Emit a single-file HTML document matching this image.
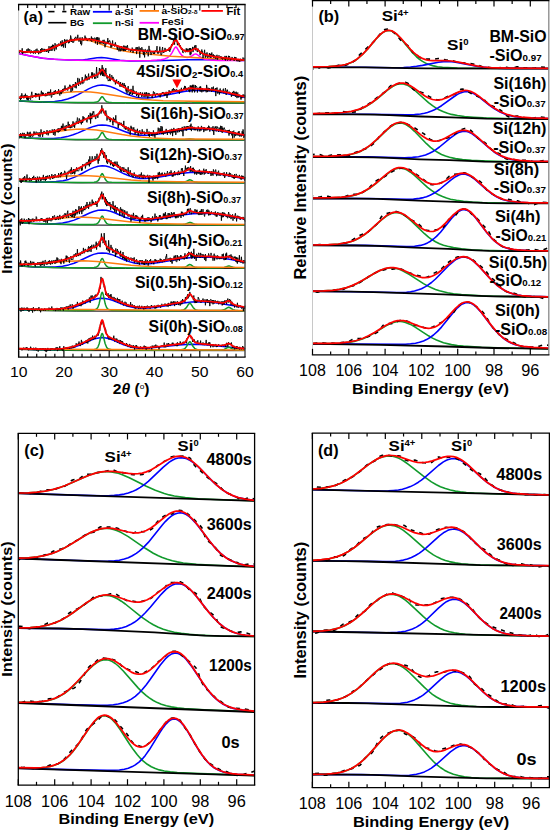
<!DOCTYPE html>
<html><head><meta charset="utf-8"><title>Figure</title>
<style>html,body{margin:0;padding:0;background:#fff;} body{width:550px;height:830px;overflow:hidden;font-family:"Liberation Sans",sans-serif;} svg{display:block;}</style>
</head><body>
<svg width="550" height="830" viewBox="0 0 550 830" font-family="Liberation Sans, sans-serif"><path d="M18.6,53.4L29.1,55.8 42.6,58.2 54.1,59.3 69.1,60.0 76.6,60.1 82.6,59.9 87.6,59.3 97.1,57.8 101.6,57.5 106.6,57.9 120.1,60.3 129.6,60.9 156.1,60.8 188.6,59.8 199.6,59.6 244.6,60.5" fill="none" stroke="#0000ff" stroke-width="1.5" stroke-linejoin="round" stroke-linecap="butt" />
<path d="M18.6,53.4L28.1,55.6 40.1,57.8 47.6,58.7 58.1,59.5 77.1,60.2 110.1,60.7 132.6,60.8 151.1,60.5 157.1,60.1 161.1,59.7 164.6,58.9 167.1,57.9 169.1,56.5 170.6,54.9 172.1,52.6 174.6,48.0 175.6,47.1 176.1,47.1 177.1,48.1 180.1,53.3 181.6,55.1 183.6,56.6 185.6,57.3 187.6,57.5 189.6,57.1 191.6,56.2 194.1,54.4 195.6,53.9 197.1,54.5 200.6,57.2 202.6,58.3 205.1,59.2 208.1,59.7 212.6,60.2 219.6,60.4 244.6,60.6" fill="none" stroke="#ff00ff" stroke-width="1.5" stroke-linejoin="round" stroke-linecap="butt" />
<path d="M18.6,50.9L22.6,51.7 25.6,52.0 37.6,52.0 40.6,51.7 44.6,50.7 50.1,49.1 56.6,46.3 62.6,43.5 68.6,41.1 75.6,40.0 78.6,39.7 81.6,39.7 87.6,40.3 91.1,41.0 97.1,42.7 106.1,46.1 114.1,48.6 124.1,51.1 131.1,52.2 158.1,55.1 170.6,56.2 220.6,59.1 244.6,60.3" fill="none" stroke="#ff7d10" stroke-width="1.5" stroke-linejoin="round" stroke-linecap="butt" />
<path d="M18.6,50.7L19.0,53.1 19.4,52.9 19.8,50.1 20.2,50.5 20.6,51.3 21.0,52.2 21.4,51.2 21.8,52.6 22.2,48.3 22.6,54.1 23.0,51.4 23.4,52.8 23.8,51.4 24.2,51.0 24.6,52.5 25.0,53.2 25.4,51.4 25.8,51.5 26.2,53.0 26.6,50.3 27.0,49.2 27.4,52.5 27.8,50.6 28.2,48.4 28.6,50.4 29.0,51.0 29.4,49.7 29.8,49.2 30.2,51.8 30.6,53.4 31.0,51.4 31.4,50.5 31.8,52.5 32.2,53.0 32.6,51.3 33.0,52.8 33.4,53.6 33.8,51.4 34.2,50.3 34.6,52.4 35.0,52.2 35.4,53.7 35.8,49.5 36.2,50.6 36.6,50.3 37.0,48.7 37.4,52.0 37.8,52.7 38.2,50.4 38.6,54.2 39.0,53.2 39.4,52.8 39.8,52.3 40.2,53.2 40.6,49.0 41.0,52.5 41.4,52.4 41.8,48.0 42.2,51.8 42.6,50.6 43.0,48.8 43.4,50.0 43.8,50.7 44.2,51.3 44.6,48.9 45.0,51.5 45.4,50.1 45.8,51.1 46.2,49.1 46.6,52.0 47.0,51.0 47.4,49.4 47.8,50.8 48.2,51.9 48.6,52.9 49.0,46.2 49.4,50.9 49.8,49.9 50.2,48.7 50.6,46.7 51.0,51.0 51.4,45.9 51.8,49.3 52.2,50.6 52.6,44.7 53.0,47.1 53.4,44.9 53.8,47.8 54.2,50.2 54.6,51.1 55.0,43.2 55.4,45.5 55.8,47.9 56.2,49.5 56.6,47.0 57.0,44.4 57.4,46.4 57.8,45.5 58.2,44.9 58.6,43.6 59.0,45.8 59.4,45.4 59.8,44.4 60.2,43.9 60.6,41.4 61.0,42.9 61.4,46.4 61.8,43.2 62.2,40.3 62.6,45.8 63.0,44.2 63.4,47.5 63.8,42.9 64.2,41.5 64.6,39.2 65.0,45.1 65.4,47.8 65.8,40.0 66.2,40.3 66.6,42.9 67.0,39.5 67.4,40.6 67.8,40.3 68.2,41.4 68.6,43.3 69.0,40.8 69.4,42.7 69.8,39.6 70.2,41.2 70.6,35.5 71.0,36.9 71.4,42.0 71.8,38.8 72.2,41.4 72.6,41.2 73.0,42.9 73.4,41.7 73.8,42.1 74.2,39.4 74.6,38.0 75.0,38.4 75.4,38.4 75.8,36.8 76.2,38.1 76.6,39.1 77.0,39.9 77.4,38.5 77.8,34.8 78.2,39.0 78.6,39.7 79.0,41.7 79.4,40.5 79.8,37.7 80.2,37.5 80.6,43.9 81.0,40.9 81.4,45.3 81.8,44.1 82.2,37.2 82.6,40.1 83.0,40.2 83.4,40.5 83.8,40.4 84.2,39.6 84.6,39.6 85.0,35.6 85.4,38.8 85.8,37.4 86.2,39.4 86.6,38.1 87.0,40.6 87.4,41.1 87.8,39.9 88.2,39.9 88.6,39.4 89.0,38.2 89.4,38.9 89.8,38.2 90.2,40.3 90.6,39.5 91.0,40.9 91.4,36.5 91.8,41.7 92.2,37.9 92.6,38.1 93.0,39.4 93.4,38.6 93.8,40.7 94.2,38.8 94.6,37.7 95.0,38.3 95.4,43.4 95.8,40.5 96.2,37.8 96.6,40.6 97.0,37.0 97.4,44.8 97.8,37.3 98.2,42.0 98.6,42.2 99.0,37.7 99.4,41.8 99.8,43.5 100.2,42.4 100.6,42.0 101.0,43.6 101.4,42.0 101.8,42.4 102.2,41.5 102.6,43.3 103.0,39.9 103.4,43.9 103.8,41.1 104.2,39.8 104.6,43.2 105.0,47.3 105.4,44.8 105.8,41.6 106.2,44.4 106.6,41.9 107.0,42.7 107.4,43.3 107.8,38.1 108.2,43.8 108.6,41.2 109.0,42.0 109.4,40.4 109.8,40.5 110.2,41.9 110.6,45.8 111.0,47.8 111.4,44.2 111.8,46.8 112.2,44.0 112.6,40.5 113.0,45.1 113.4,45.9 113.8,44.1 114.2,45.8 114.6,46.5 115.0,43.5 115.4,42.4 115.8,45.2 116.2,45.3 116.6,45.1 117.0,48.1 117.4,49.8 117.8,45.4 118.2,47.8 118.6,48.4 119.0,51.4 119.4,48.9 119.8,46.0 120.2,48.5 120.6,51.3 121.0,48.9 121.4,46.0 121.8,50.5 122.2,50.2 122.6,48.4 123.0,46.6 123.4,51.1 123.8,45.5 124.2,50.9 124.6,48.2 125.0,45.9 125.4,50.9 125.8,49.3 126.2,46.3 126.6,50.0 127.0,48.0 127.4,45.1 127.8,47.6 128.2,49.6 128.6,50.4 129.0,49.6 129.4,49.4 129.8,50.3 130.2,49.0 130.6,51.9 131.0,49.9 131.4,50.2 131.8,50.8 132.2,47.6 132.6,48.4 133.0,52.9 133.4,50.6 133.8,49.4 134.2,50.7 134.6,49.1 135.0,50.6 135.4,48.8 135.8,50.7 136.2,47.1 136.6,54.1 137.0,49.3 137.4,47.2 137.8,50.0 138.2,49.7 138.6,50.8 139.0,46.6 139.4,51.3 139.8,57.7 140.2,48.1 140.6,51.3 141.0,50.1 141.4,51.1 141.8,47.2 142.2,48.5 142.6,51.7 143.0,50.8 143.4,55.1 143.8,49.5 144.2,51.3 144.6,57.4 145.0,49.5 145.4,49.3 145.8,51.0 146.2,51.0 146.6,52.8 147.0,51.4 147.4,49.7 147.8,51.6 148.2,56.3 148.6,53.7 149.0,45.9 149.4,51.0 149.8,49.6 150.2,52.5 150.6,51.0 151.0,55.1 151.4,53.2 151.8,53.1 152.2,51.8 152.6,51.4 153.0,52.1 153.4,54.0 153.8,52.5 154.2,50.8 154.6,54.0 155.0,51.9 155.4,51.4 155.8,50.0 156.2,50.4 156.6,50.3 157.0,46.1 157.4,53.5 157.8,52.0 158.2,51.1 158.6,53.5 159.0,52.3 159.4,52.2 159.8,46.7 160.2,51.0 160.6,52.5 161.0,55.2 161.4,54.9 161.8,54.1 162.2,49.0 162.6,47.0 163.0,52.3 163.4,51.2 163.8,52.9 164.2,50.7 164.6,51.3 165.0,47.9 165.4,51.6 165.8,49.7 166.2,51.2 166.6,51.2 167.0,49.9 167.4,50.6 167.8,49.7 168.2,51.0 168.6,50.3 169.0,47.9 169.4,47.4 169.8,51.8 170.2,47.7 170.6,49.5 171.0,47.7 171.4,45.1 171.8,44.1 172.2,45.3 172.6,44.9 173.0,45.0 173.4,40.1 173.8,40.8 174.2,41.3 174.6,44.6 175.0,35.0 175.4,41.2 175.8,38.9 176.2,41.2 176.6,39.4 177.0,41.9 177.4,45.2 177.8,43.2 178.2,44.1 178.6,44.8 179.0,43.1 179.4,46.6 179.8,45.7 180.2,45.1 180.6,47.3 181.0,47.4 181.4,49.9 181.8,48.7 182.2,48.2 182.6,52.5 183.0,52.4 183.4,52.7 183.8,51.6 184.2,50.4 184.6,50.0 185.0,50.4 185.4,52.3 185.8,51.4 186.2,48.4 186.6,51.3 187.0,48.6 187.4,51.7 187.8,49.1 188.2,49.0 188.6,51.6 189.0,51.2 189.4,48.0 189.8,52.6 190.2,55.2 190.6,48.0 191.0,54.3 191.4,49.1 191.8,49.3 192.2,49.7 192.6,46.9 193.0,52.1 193.4,50.3 193.8,47.5 194.2,48.3 194.6,45.6 195.0,47.8 195.4,50.4 195.8,45.0 196.2,47.6 196.6,49.1 197.0,51.2 197.4,52.1 197.8,48.8 198.2,48.6 198.6,51.3 199.0,50.1 199.4,50.6 199.8,53.6 200.2,55.1 200.6,52.7 201.0,52.1 201.4,53.8 201.8,49.5 202.2,53.2 202.6,51.5 203.0,58.1 203.4,55.2 203.8,54.3 204.2,53.9 204.6,49.8 205.0,55.8 205.4,57.6 205.8,53.5 206.2,56.2 206.6,56.3 207.0,52.4 207.4,56.9 207.8,57.8 208.2,55.9 208.6,55.4 209.0,57.0 209.4,53.0 209.8,56.0 210.2,57.7 210.6,53.8 211.0,57.8 211.4,55.1 211.8,52.5 212.2,56.1 212.6,54.9 213.0,56.9 213.4,54.4 213.8,57.9 214.2,55.3 214.6,57.3 215.0,55.7 215.4,56.2 215.8,58.9 216.2,57.3 216.6,56.2 217.0,54.8 217.4,59.6 217.8,58.4 218.2,56.6 218.6,55.6 219.0,55.5 219.4,55.6 219.8,56.0 220.2,58.0 220.6,58.0 221.0,56.2 221.4,58.5 221.8,59.0 222.2,58.0 222.6,59.5 223.0,57.3 223.4,57.6 223.8,58.7 224.2,57.9 224.6,59.3 225.0,55.9 225.4,60.5 225.8,56.8 226.2,57.9 226.6,55.9 227.0,59.3 227.4,60.4 227.8,60.2 228.2,59.8 228.6,55.8 229.0,57.2 229.4,56.0 229.8,57.0 230.2,60.5 230.6,59.0 231.0,58.7 231.4,59.6 231.8,57.2 232.2,57.3 232.6,57.4 233.0,59.8 233.4,59.6 233.8,60.0 234.2,60.9 234.6,56.9 235.0,58.2 235.4,59.5 235.8,57.0 236.2,58.4 236.6,61.0 237.0,61.2 237.4,61.2 237.8,59.5 238.2,59.2 238.6,61.3 239.0,59.0 239.4,60.2 239.8,61.9 240.2,59.1 240.6,58.8 241.0,59.8 241.4,60.9 241.8,60.7 242.2,60.2 242.6,60.9 243.0,57.5 243.4,58.7 243.8,60.4 244.2,58.7 244.6,58.1 245.0,58.3" fill="none" stroke="#000000" stroke-width="0.9" stroke-linejoin="round" stroke-linecap="butt" />
<path d="M18.6,50.7L22.6,51.5 25.6,51.8 37.6,51.8 40.6,51.4 44.6,50.5 50.1,48.9 56.6,46.1 62.6,43.2 69.1,40.7 73.6,39.8 77.6,39.3 87.1,39.2 91.6,39.6 101.1,41.5 109.1,43.6 124.6,48.2 129.6,49.3 136.6,50.3 146.1,51.1 154.6,51.5 160.6,51.4 163.6,51.1 165.6,50.7 167.6,49.9 169.1,48.9 171.1,46.8 174.6,40.9 175.6,40.1 176.1,40.2 177.1,41.2 180.1,46.6 181.6,48.6 183.6,50.3 185.6,51.1 187.6,51.4 189.6,51.2 191.6,50.4 194.1,48.9 195.6,48.5 197.1,49.1 200.6,52.2 202.6,53.5 205.1,54.6 208.1,55.4 213.1,56.4 219.6,57.3 244.6,60.2" fill="none" stroke="#ff0000" stroke-width="1.75" stroke-linejoin="round" stroke-linecap="butt" />
<path d="M18.6,101.2L29.6,101.9 42.6,102.4 76.1,103.0 125.6,103.2 244.6,103.2" fill="none" stroke="#000000" stroke-width="1.0" stroke-linejoin="round" stroke-linecap="butt" />
<path d="M18.6,100.8L33.1,101.6 45.6,101.8 54.6,101.5 61.6,100.5 67.6,99.0 73.1,97.0 78.1,94.6 88.6,88.9 93.1,86.9 97.6,85.5 102.1,85.0 106.1,85.4 110.1,86.4 114.6,88.2 125.1,93.3 130.1,95.4 135.6,97.0 141.1,97.9 146.6,98.0 153.1,97.5 160.1,96.3 176.6,92.9 184.1,91.6 192.1,90.6 199.6,90.3 207.6,90.6 216.6,91.7 225.1,93.3 244.6,97.6" fill="none" stroke="#0000ff" stroke-width="1.5" stroke-linejoin="round" stroke-linecap="butt" />
<path d="M18.6,100.8L33.1,101.6 51.1,102.2 77.6,102.5 93.6,102.4 96.6,102.1 98.1,101.4 99.1,100.5 101.1,97.5 101.6,97.0 102.1,96.7 102.6,96.9 103.1,97.3 105.1,100.3 106.6,101.7 108.6,102.3 111.6,102.5 129.6,102.7 180.6,102.7 185.1,102.6 189.6,101.8 194.6,102.6 197.6,102.7 244.6,102.8" fill="none" stroke="#119a2c" stroke-width="1.5" stroke-linejoin="round" stroke-linecap="butt" />
<path d="M18.6,97.4L26.1,97.0 34.1,96.3 58.6,93.2 67.1,92.3 76.1,91.8 84.1,91.7 90.6,92.0 97.6,92.7 131.1,98.1 141.1,99.3 151.6,100.1 163.1,100.7 177.1,101.0 244.6,101.8" fill="none" stroke="#ff7d10" stroke-width="1.5" stroke-linejoin="round" stroke-linecap="butt" />
<path d="M18.6,96.6L19.0,99.0 19.4,97.4 19.8,97.2 20.2,97.5 20.6,100.0 21.0,95.4 21.4,98.8 21.8,93.3 22.2,96.4 22.6,97.5 23.0,95.7 23.4,97.5 23.8,98.4 24.2,95.1 24.6,97.0 25.0,96.4 25.4,93.7 25.8,96.7 26.2,95.6 26.6,99.3 27.0,95.4 27.4,99.9 27.8,95.9 28.2,100.3 28.6,97.8 29.0,97.6 29.4,98.2 29.8,98.3 30.2,99.2 30.6,99.7 31.0,96.0 31.4,94.3 31.8,91.8 32.2,95.8 32.6,97.8 33.0,97.1 33.4,96.6 33.8,95.7 34.2,95.1 34.6,95.7 35.0,96.9 35.4,93.0 35.8,97.4 36.2,93.4 36.6,95.7 37.0,94.8 37.4,95.2 37.8,93.9 38.2,93.7 38.6,95.3 39.0,93.7 39.4,100.0 39.8,94.8 40.2,94.3 40.6,94.4 41.0,93.4 41.4,90.8 41.8,94.8 42.2,95.8 42.6,92.4 43.0,95.1 43.4,92.8 43.8,94.9 44.2,95.6 44.6,95.7 45.0,95.6 45.4,93.4 45.8,96.3 46.2,93.7 46.6,95.2 47.0,95.8 47.4,93.8 47.8,91.9 48.2,95.4 48.6,92.1 49.0,92.4 49.4,91.9 49.8,95.5 50.2,93.5 50.6,89.5 51.0,95.1 51.4,97.5 51.8,97.0 52.2,92.4 52.6,93.5 53.0,94.2 53.4,94.9 53.8,93.2 54.2,90.9 54.6,94.4 55.0,94.0 55.4,90.1 55.8,91.9 56.2,93.0 56.6,92.4 57.0,93.3 57.4,93.8 57.8,93.2 58.2,91.8 58.6,89.2 59.0,93.0 59.4,94.4 59.8,95.5 60.2,93.1 60.6,91.2 61.0,94.1 61.4,93.9 61.8,91.6 62.2,92.2 62.6,89.1 63.0,91.7 63.4,88.7 63.8,90.0 64.2,89.9 64.6,87.8 65.0,85.5 65.4,88.0 65.8,90.2 66.2,89.2 66.6,88.4 67.0,89.9 67.4,90.3 67.8,90.5 68.2,86.9 68.6,88.4 69.0,87.5 69.4,86.2 69.8,84.7 70.2,87.5 70.6,85.6 71.0,91.9 71.4,86.9 71.8,86.4 72.2,85.9 72.6,90.6 73.0,84.3 73.4,85.8 73.8,84.3 74.2,85.5 74.6,85.4 75.0,87.7 75.4,82.0 75.8,84.8 76.2,88.3 76.6,83.3 77.0,83.0 77.4,82.0 77.8,77.9 78.2,83.3 78.6,86.0 79.0,82.1 79.4,78.7 79.8,83.3 80.2,82.6 80.6,84.5 81.0,84.1 81.4,81.2 81.8,82.5 82.2,77.1 82.6,83.7 83.0,83.4 83.4,83.2 83.8,83.0 84.2,79.5 84.6,79.7 85.0,77.7 85.4,74.6 85.8,79.1 86.2,79.5 86.6,76.3 87.0,80.5 87.4,78.8 87.8,79.5 88.2,76.3 88.6,73.6 89.0,79.7 89.4,79.1 89.8,77.2 90.2,76.2 90.6,76.4 91.0,76.6 91.4,75.5 91.8,72.3 92.2,78.5 92.6,72.6 93.0,75.4 93.4,75.3 93.8,76.6 94.2,73.5 94.6,78.8 95.0,77.2 95.4,77.4 95.8,78.6 96.2,73.1 96.6,67.0 97.0,75.7 97.4,78.0 97.8,77.4 98.2,72.7 98.6,73.5 99.0,74.1 99.4,68.0 99.8,70.5 100.2,70.0 100.6,75.4 101.0,68.7 101.4,74.4 101.8,69.8 102.2,65.1 102.6,76.0 103.0,67.7 103.4,72.6 103.8,76.2 104.2,70.9 104.6,69.8 105.0,76.4 105.4,74.5 105.8,68.1 106.2,72.5 106.6,74.7 107.0,78.5 107.4,75.7 107.8,78.3 108.2,81.1 108.6,80.3 109.0,81.0 109.4,80.7 109.8,73.9 110.2,81.1 110.6,79.4 111.0,78.2 111.4,76.1 111.8,75.2 112.2,76.6 112.6,79.4 113.0,76.9 113.4,78.0 113.8,78.8 114.2,82.1 114.6,80.0 115.0,80.7 115.4,84.4 115.8,80.8 116.2,83.2 116.6,79.6 117.0,83.1 117.4,82.9 117.8,83.3 118.2,82.1 118.6,81.1 119.0,83.0 119.4,82.9 119.8,86.5 120.2,86.5 120.6,82.1 121.0,86.4 121.4,84.2 121.8,86.6 122.2,84.8 122.6,82.9 123.0,86.9 123.4,87.6 123.8,84.2 124.2,83.1 124.6,86.2 125.0,85.1 125.4,85.3 125.8,90.0 126.2,91.5 126.6,87.9 127.0,93.3 127.4,89.6 127.8,88.4 128.2,86.1 128.6,91.5 129.0,91.2 129.4,95.0 129.8,93.3 130.2,92.2 130.6,94.2 131.0,88.9 131.4,91.6 131.8,90.8 132.2,95.0 132.6,92.9 133.0,85.8 133.4,93.5 133.8,90.4 134.2,93.9 134.6,91.6 135.0,93.2 135.4,94.1 135.8,93.4 136.2,91.3 136.6,96.0 137.0,94.1 137.4,93.5 137.8,95.0 138.2,92.7 138.6,97.4 139.0,94.3 139.4,94.7 139.8,94.8 140.2,92.5 140.6,92.0 141.0,94.8 141.4,95.1 141.8,97.0 142.2,95.4 142.6,92.6 143.0,95.7 143.4,96.3 143.8,96.7 144.2,95.4 144.6,92.6 145.0,97.1 145.4,93.6 145.8,96.0 146.2,92.0 146.6,96.4 147.0,92.9 147.4,97.1 147.8,98.3 148.2,97.2 148.6,92.9 149.0,93.3 149.4,93.4 149.8,96.3 150.2,95.7 150.6,95.3 151.0,95.5 151.4,96.1 151.8,96.2 152.2,98.1 152.6,94.8 153.0,95.3 153.4,91.4 153.8,92.3 154.2,93.5 154.6,92.5 155.0,95.1 155.4,96.6 155.8,93.8 156.2,93.7 156.6,93.6 157.0,94.7 157.4,93.4 157.8,95.2 158.2,94.9 158.6,94.9 159.0,95.7 159.4,94.2 159.8,94.4 160.2,97.4 160.6,93.9 161.0,95.4 161.4,94.0 161.8,92.9 162.2,92.9 162.6,92.1 163.0,93.6 163.4,92.4 163.8,92.6 164.2,95.7 164.6,93.1 165.0,95.4 165.4,93.7 165.8,94.8 166.2,91.8 166.6,93.2 167.0,98.0 167.4,94.4 167.8,94.7 168.2,93.1 168.6,94.3 169.0,90.2 169.4,90.8 169.8,93.2 170.2,93.9 170.6,91.4 171.0,91.7 171.4,91.3 171.8,91.6 172.2,89.5 172.6,89.0 173.0,91.6 173.4,88.2 173.8,89.6 174.2,90.2 174.6,89.3 175.0,91.8 175.4,90.4 175.8,91.0 176.2,89.1 176.6,89.5 177.0,92.0 177.4,91.6 177.8,89.9 178.2,91.5 178.6,91.1 179.0,90.9 179.4,93.8 179.8,89.6 180.2,91.2 180.6,91.2 181.0,89.8 181.4,87.8 181.8,91.5 182.2,90.6 182.6,90.1 183.0,89.9 183.4,89.9 183.8,87.9 184.2,88.6 184.6,85.9 185.0,89.4 185.4,86.3 185.8,88.5 186.2,90.6 186.6,88.5 187.0,87.9 187.4,89.8 187.8,88.1 188.2,87.7 188.6,87.6 189.0,91.5 189.4,89.6 189.8,92.2 190.2,85.6 190.6,89.4 191.0,85.4 191.4,89.2 191.8,85.9 192.2,92.4 192.6,84.8 193.0,91.0 193.4,90.1 193.8,84.8 194.2,88.0 194.6,92.4 195.0,91.0 195.4,85.1 195.8,87.5 196.2,86.2 196.6,86.5 197.0,87.3 197.4,92.5 197.8,88.9 198.2,88.2 198.6,87.9 199.0,90.0 199.4,90.1 199.8,86.7 200.2,91.7 200.6,86.4 201.0,88.1 201.4,89.6 201.8,92.3 202.2,88.0 202.6,89.3 203.0,91.5 203.4,90.1 203.8,91.2 204.2,91.0 204.6,89.4 205.0,90.2 205.4,90.8 205.8,88.9 206.2,92.3 206.6,84.9 207.0,87.1 207.4,92.1 207.8,90.0 208.2,87.8 208.6,90.0 209.0,91.5 209.4,88.1 209.8,90.9 210.2,89.1 210.6,89.2 211.0,89.3 211.4,91.8 211.8,87.3 212.2,88.9 212.6,91.1 213.0,87.2 213.4,86.6 213.8,91.0 214.2,89.9 214.6,89.7 215.0,90.3 215.4,88.1 215.8,96.1 216.2,88.3 216.6,89.4 217.0,87.5 217.4,89.6 217.8,93.6 218.2,90.6 218.6,91.9 219.0,89.8 219.4,94.5 219.8,91.2 220.2,88.5 220.6,92.6 221.0,90.4 221.4,92.4 221.8,91.6 222.2,91.9 222.6,91.7 223.0,89.8 223.4,88.7 223.8,93.3 224.2,91.5 224.6,92.5 225.0,91.1 225.4,88.1 225.8,89.7 226.2,95.0 226.6,90.8 227.0,91.7 227.4,89.7 227.8,91.6 228.2,92.0 228.6,92.4 229.0,92.7 229.4,91.8 229.8,92.0 230.2,93.1 230.6,93.9 231.0,93.1 231.4,96.8 231.8,93.9 232.2,93.9 232.6,91.9 233.0,95.8 233.4,92.0 233.8,90.9 234.2,92.2 234.6,95.4 235.0,92.1 235.4,96.8 235.8,94.4 236.2,91.7 236.6,94.2 237.0,98.1 237.4,93.2 237.8,92.5 238.2,96.0 238.6,97.5 239.0,97.1 239.4,94.7 239.8,95.7 240.2,96.1 240.6,97.7 241.0,99.6 241.4,95.5 241.8,98.2 242.2,95.3 242.6,97.1 243.0,94.4 243.4,94.8 243.8,97.0 244.2,94.7 244.6,98.1 245.0,95.4" fill="none" stroke="#000000" stroke-width="0.9" stroke-linejoin="round" stroke-linecap="butt" />
<path d="M18.6,97.4L30.6,96.6 43.1,95.1 53.6,93.2 62.6,90.7 67.6,88.8 72.1,86.8 88.6,78.0 92.1,76.6 97.1,74.8 98.6,73.8 101.1,70.4 101.6,69.8 102.1,69.7 102.6,69.9 103.1,70.4 105.6,74.6 107.1,76.2 114.6,80.7 124.6,87.4 129.1,90.0 133.1,91.9 137.1,93.4 141.1,94.3 144.6,94.8 148.6,95.0 152.6,94.9 157.1,94.5 164.1,93.4 183.6,89.9 189.1,88.4 190.6,88.2 194.6,88.7 205.6,89.1 214.1,90.0 224.1,91.9 244.6,96.6" fill="none" stroke="#ff0000" stroke-width="1.75" stroke-linejoin="round" stroke-linecap="butt" />
<path d="M18.6,137.5L29.6,138.4 42.6,139.1 76.1,139.9 125.6,140.1 244.6,140.2" fill="none" stroke="#000000" stroke-width="1.0" stroke-linejoin="round" stroke-linecap="butt" />
<path d="M18.6,137.1L31.6,138.1 44.1,138.6 53.6,138.5 61.1,137.8 67.1,136.6 73.1,134.8 78.1,132.9 88.6,128.2 93.6,126.4 98.1,125.3 102.1,125.0 106.1,125.2 110.1,126.1 114.6,127.5 124.6,131.5 129.6,133.2 135.1,134.6 140.1,135.2 145.6,135.3 151.6,134.9 158.6,133.9 174.6,131.0 182.1,129.9 190.1,129.1 198.1,128.8 206.1,129.1 215.1,130.2 223.1,131.5 244.6,135.6" fill="none" stroke="#0000ff" stroke-width="1.5" stroke-linejoin="round" stroke-linecap="butt" />
<path d="M18.6,137.1L33.1,138.2 50.6,139.0 76.6,139.4 93.6,139.3 96.6,138.9 98.1,138.1 99.1,137.0 101.1,133.5 101.6,132.8 102.1,132.5 102.6,132.6 103.1,133.2 105.1,136.8 106.6,138.4 108.6,139.2 111.6,139.5 128.6,139.7 180.1,139.8 185.1,139.6 189.6,139.0 194.6,139.6 197.6,139.7 244.6,139.8" fill="none" stroke="#119a2c" stroke-width="1.5" stroke-linejoin="round" stroke-linecap="butt" />
<path d="M18.6,135.1L26.1,135.0 34.1,134.4 43.1,133.4 67.6,129.9 75.6,129.2 83.1,129.1 89.6,129.4 96.6,130.1 104.1,131.2 122.1,134.5 131.1,135.9 141.1,137.1 151.6,138.0 163.1,138.5 177.6,138.9 244.6,139.3" fill="none" stroke="#ff7d10" stroke-width="1.5" stroke-linejoin="round" stroke-linecap="butt" />
<path d="M18.6,139.0L19.0,138.9 19.4,134.3 19.8,135.7 20.2,137.3 20.6,133.2 21.0,134.2 21.4,137.4 21.8,134.0 22.2,134.4 22.6,132.8 23.0,133.8 23.4,136.3 23.8,133.7 24.2,132.9 24.6,134.0 25.0,138.1 25.4,135.3 25.8,134.1 26.2,135.3 26.6,135.7 27.0,135.2 27.4,131.8 27.8,135.4 28.2,134.5 28.6,136.3 29.0,132.5 29.4,136.6 29.8,133.9 30.2,131.8 30.6,137.0 31.0,133.8 31.4,135.3 31.8,134.3 32.2,136.5 32.6,136.5 33.0,136.5 33.4,135.7 33.8,131.6 34.2,131.5 34.6,134.7 35.0,132.6 35.4,134.2 35.8,134.5 36.2,131.7 36.6,132.3 37.0,132.1 37.4,132.5 37.8,133.6 38.2,135.2 38.6,136.3 39.0,132.1 39.4,132.8 39.8,136.5 40.2,136.9 40.6,134.0 41.0,129.4 41.4,131.7 41.8,133.7 42.2,132.3 42.6,136.9 43.0,133.4 43.4,133.7 43.8,131.1 44.2,131.2 44.6,131.8 45.0,131.8 45.4,132.4 45.8,133.5 46.2,133.2 46.6,134.5 47.0,130.1 47.4,132.9 47.8,132.9 48.2,135.3 48.6,131.9 49.0,132.8 49.4,130.5 49.8,132.8 50.2,132.7 50.6,130.7 51.0,131.0 51.4,131.7 51.8,132.7 52.2,129.4 52.6,130.8 53.0,130.7 53.4,134.9 53.8,133.9 54.2,129.0 54.6,129.8 55.0,135.6 55.4,132.0 55.8,131.8 56.2,129.8 56.6,130.2 57.0,131.9 57.4,131.5 57.8,128.6 58.2,132.5 58.6,130.5 59.0,128.0 59.4,131.7 59.8,129.3 60.2,131.0 60.6,128.3 61.0,130.0 61.4,125.9 61.8,129.7 62.2,125.9 62.6,129.1 63.0,123.6 63.4,128.4 63.8,129.8 64.2,129.2 64.6,130.5 65.0,125.8 65.4,129.9 65.8,130.9 66.2,125.1 66.6,125.7 67.0,125.8 67.4,127.0 67.8,127.3 68.2,121.7 68.6,127.8 69.0,125.9 69.4,124.2 69.8,128.1 70.2,125.2 70.6,128.2 71.0,126.7 71.4,124.8 71.8,127.8 72.2,126.8 72.6,123.9 73.0,121.3 73.4,123.4 73.8,126.7 74.2,122.7 74.6,127.8 75.0,124.4 75.4,124.1 75.8,124.4 76.2,121.4 76.6,122.9 77.0,121.5 77.4,117.6 77.8,118.6 78.2,124.0 78.6,121.2 79.0,121.7 79.4,118.5 79.8,120.3 80.2,123.2 80.6,121.5 81.0,119.9 81.4,124.4 81.8,120.6 82.2,119.7 82.6,122.9 83.0,116.2 83.4,121.2 83.8,117.2 84.2,117.8 84.6,117.8 85.0,119.5 85.4,119.3 85.8,119.6 86.2,119.2 86.6,121.9 87.0,122.4 87.4,119.9 87.8,119.9 88.2,117.0 88.6,115.2 89.0,119.0 89.4,117.6 89.8,119.4 90.2,112.8 90.6,123.5 91.0,113.9 91.4,116.9 91.8,119.1 92.2,113.2 92.6,115.1 93.0,111.4 93.4,112.8 93.8,111.4 94.2,116.3 94.6,116.6 95.0,115.0 95.4,118.8 95.8,119.0 96.2,115.4 96.6,114.8 97.0,114.5 97.4,113.8 97.8,117.9 98.2,114.9 98.6,113.1 99.0,112.8 99.4,114.2 99.8,111.1 100.2,112.3 100.6,110.6 101.0,113.6 101.4,112.6 101.8,105.3 102.2,108.6 102.6,111.2 103.0,108.6 103.4,112.6 103.8,112.2 104.2,113.7 104.6,112.8 105.0,114.5 105.4,115.7 105.8,110.5 106.2,113.3 106.6,113.5 107.0,120.5 107.4,117.4 107.8,117.9 108.2,117.7 108.6,116.3 109.0,119.2 109.4,120.0 109.8,117.3 110.2,122.1 110.6,119.1 111.0,119.0 111.4,118.5 111.8,119.1 112.2,119.5 112.6,123.3 113.0,125.3 113.4,117.5 113.8,120.9 114.2,122.2 114.6,118.8 115.0,119.6 115.4,120.2 115.8,115.3 116.2,123.2 116.6,121.9 117.0,122.0 117.4,122.6 117.8,123.2 118.2,128.0 118.6,123.6 119.0,125.2 119.4,122.5 119.8,124.6 120.2,123.4 120.6,124.0 121.0,122.7 121.4,123.1 121.8,126.0 122.2,125.2 122.6,126.5 123.0,124.3 123.4,126.6 123.8,120.9 124.2,128.4 124.6,126.6 125.0,127.4 125.4,129.5 125.8,126.4 126.2,129.5 126.6,126.8 127.0,129.0 127.4,128.0 127.8,128.9 128.2,131.4 128.6,127.4 129.0,127.7 129.4,128.4 129.8,129.8 130.2,134.8 130.6,128.5 131.0,125.8 131.4,128.7 131.8,127.0 132.2,129.2 132.6,130.4 133.0,128.7 133.4,129.4 133.8,127.3 134.2,131.3 134.6,129.7 135.0,134.5 135.4,133.4 135.8,129.8 136.2,130.9 136.6,131.8 137.0,133.2 137.4,128.8 137.8,131.9 138.2,135.6 138.6,132.0 139.0,132.7 139.4,132.4 139.8,130.2 140.2,134.3 140.6,133.1 141.0,133.0 141.4,134.1 141.8,134.2 142.2,129.3 142.6,133.8 143.0,131.9 143.4,132.6 143.8,131.7 144.2,131.5 144.6,134.8 145.0,134.3 145.4,132.6 145.8,132.6 146.2,133.3 146.6,133.2 147.0,128.9 147.4,131.6 147.8,132.8 148.2,134.6 148.6,135.8 149.0,131.5 149.4,136.8 149.8,133.4 150.2,134.2 150.6,132.3 151.0,132.1 151.4,135.9 151.8,132.8 152.2,133.0 152.6,135.3 153.0,136.3 153.4,130.4 153.8,132.7 154.2,133.0 154.6,136.4 155.0,137.6 155.4,132.9 155.8,133.6 156.2,134.5 156.6,135.0 157.0,132.2 157.4,134.4 157.8,131.4 158.2,127.7 158.6,130.1 159.0,133.0 159.4,134.0 159.8,128.3 160.2,129.1 160.6,132.3 161.0,126.0 161.4,133.3 161.8,134.2 162.2,126.6 162.6,133.6 163.0,131.7 163.4,134.7 163.8,132.5 164.2,131.5 164.6,132.1 165.0,133.6 165.4,132.1 165.8,131.4 166.2,128.9 166.6,132.5 167.0,131.6 167.4,134.9 167.8,131.4 168.2,131.2 168.6,130.1 169.0,132.6 169.4,130.7 169.8,129.7 170.2,134.1 170.6,134.4 171.0,130.0 171.4,128.8 171.8,132.9 172.2,129.1 172.6,136.1 173.0,130.3 173.4,132.4 173.8,127.9 174.2,130.3 174.6,132.4 175.0,131.1 175.4,129.1 175.8,134.9 176.2,131.5 176.6,129.6 177.0,128.8 177.4,129.4 177.8,132.5 178.2,128.3 178.6,129.8 179.0,128.0 179.4,132.1 179.8,129.2 180.2,131.2 180.6,130.6 181.0,128.2 181.4,130.7 181.8,131.5 182.2,126.9 182.6,130.6 183.0,136.2 183.4,128.5 183.8,130.3 184.2,126.3 184.6,128.9 185.0,127.6 185.4,130.3 185.8,127.5 186.2,126.2 186.6,130.7 187.0,127.9 187.4,126.2 187.8,128.3 188.2,126.1 188.6,128.8 189.0,127.8 189.4,127.1 189.8,129.2 190.2,125.2 190.6,129.8 191.0,123.7 191.4,131.1 191.8,128.3 192.2,127.4 192.6,126.5 193.0,129.2 193.4,127.8 193.8,127.8 194.2,130.3 194.6,127.3 195.0,127.7 195.4,129.1 195.8,130.4 196.2,128.0 196.6,128.6 197.0,128.4 197.4,129.8 197.8,131.3 198.2,126.4 198.6,128.1 199.0,128.2 199.4,129.6 199.8,131.4 200.2,128.3 200.6,128.8 201.0,130.7 201.4,125.9 201.8,126.9 202.2,127.6 202.6,128.5 203.0,129.0 203.4,127.5 203.8,132.1 204.2,127.2 204.6,128.2 205.0,130.8 205.4,130.2 205.8,128.7 206.2,129.5 206.6,130.4 207.0,128.8 207.4,130.2 207.8,127.0 208.2,129.1 208.6,125.7 209.0,127.2 209.4,126.7 209.8,131.6 210.2,128.2 210.6,129.8 211.0,127.4 211.4,128.9 211.8,128.8 212.2,127.7 212.6,131.1 213.0,126.2 213.4,130.8 213.8,134.9 214.2,128.0 214.6,129.8 215.0,126.7 215.4,127.9 215.8,126.4 216.2,131.4 216.6,129.0 217.0,126.4 217.4,127.5 217.8,127.0 218.2,129.7 218.6,132.0 219.0,129.6 219.4,127.7 219.8,128.8 220.2,130.8 220.6,125.8 221.0,131.8 221.4,131.5 221.8,126.0 222.2,132.9 222.6,127.7 223.0,130.6 223.4,132.0 223.8,128.0 224.2,127.6 224.6,129.1 225.0,129.3 225.4,131.2 225.8,130.5 226.2,130.6 226.6,130.7 227.0,131.4 227.4,130.2 227.8,132.5 228.2,132.0 228.6,130.1 229.0,135.6 229.4,129.8 229.8,133.7 230.2,131.0 230.6,133.1 231.0,133.5 231.4,134.3 231.8,135.4 232.2,131.2 232.6,138.3 233.0,133.7 233.4,131.5 233.8,130.6 234.2,137.6 234.6,136.4 235.0,132.0 235.4,134.9 235.8,136.0 236.2,133.8 236.6,132.9 237.0,133.7 237.4,135.4 237.8,134.0 238.2,131.8 238.6,135.5 239.0,131.0 239.4,132.9 239.8,136.6 240.2,134.9 240.6,134.9 241.0,134.8 241.4,136.5 241.8,134.6 242.2,131.2 242.6,135.3 243.0,129.4 243.4,131.3 243.8,137.9 244.2,137.0 244.6,134.4 245.0,135.1" fill="none" stroke="#000000" stroke-width="0.9" stroke-linejoin="round" stroke-linecap="butt" />
<path d="M18.6,135.1L29.6,134.8 40.6,133.6 51.6,131.7 61.6,129.1 66.1,127.5 71.1,125.6 87.6,118.2 97.1,115.1 98.6,113.9 101.1,109.9 101.6,109.2 102.1,109.0 102.6,109.2 103.1,109.9 105.1,113.9 106.1,115.4 108.1,117.2 123.6,126.1 128.6,128.7 134.6,131.1 140.1,132.4 143.6,132.9 147.6,133.1 151.6,133.1 156.1,132.8 162.6,131.9 183.6,128.7 189.1,127.6 190.6,127.5 194.6,127.9 205.1,128.3 213.1,129.2 222.1,130.7 244.6,135.1" fill="none" stroke="#ff0000" stroke-width="1.75" stroke-linejoin="round" stroke-linecap="butt" />
<path d="M18.6,181.4L42.6,182.4 76.1,182.9 244.6,183.1" fill="none" stroke="#000000" stroke-width="1.0" stroke-linejoin="round" stroke-linecap="butt" />
<path d="M18.6,181.0L33.6,181.7 47.1,181.9 56.1,181.6 63.1,180.7 68.6,179.4 74.1,177.4 79.1,175.0 89.1,169.6 93.6,167.6 98.1,166.2 102.1,165.8 105.6,166.1 109.6,167.1 114.1,168.9 124.1,173.8 129.1,175.9 134.6,177.5 140.1,178.4 145.6,178.5 151.6,178.1 158.1,177.2 174.1,174.4 182.1,173.2 190.1,172.4 198.1,172.2 206.1,172.5 215.1,173.5 223.1,174.8 244.6,178.7" fill="none" stroke="#0000ff" stroke-width="1.5" stroke-linejoin="round" stroke-linecap="butt" />
<path d="M18.6,181.0L35.1,181.8 55.1,182.2 82.6,182.5 94.1,182.2 96.6,181.7 98.1,180.7 99.1,179.3 101.1,174.9 101.6,174.0 102.1,173.6 102.6,173.8 103.1,174.6 105.1,179.0 106.6,181.0 107.6,181.7 108.6,182.0 111.6,182.3 133.1,182.6 181.1,182.5 183.6,182.3 185.1,182.0 186.6,181.3 188.6,180.1 189.6,179.7 190.6,179.9 193.1,181.4 194.6,182.0 197.6,182.5 208.1,182.7 244.6,182.7" fill="none" stroke="#119a2c" stroke-width="1.5" stroke-linejoin="round" stroke-linecap="butt" />
<path d="M18.6,179.5L26.1,179.4 34.1,179.0 67.6,176.1 75.6,175.7 83.6,175.6 97.1,176.3 131.1,179.9 141.1,180.7 151.6,181.2 177.6,181.8 244.6,182.2" fill="none" stroke="#ff7d10" stroke-width="1.5" stroke-linejoin="round" stroke-linecap="butt" />
<path d="M18.6,178.4L19.0,180.2 19.4,180.0 19.8,178.3 20.2,179.9 20.6,182.4 21.0,179.6 21.4,182.8 21.8,180.2 22.2,181.7 22.6,178.6 23.0,181.4 23.4,177.5 23.8,179.8 24.2,178.9 24.6,176.1 25.0,177.1 25.4,181.3 25.8,180.2 26.2,181.5 26.6,179.7 27.0,174.5 27.4,179.7 27.8,178.4 28.2,178.5 28.6,178.5 29.0,178.0 29.4,177.6 29.8,181.3 30.2,180.0 30.6,178.1 31.0,178.5 31.4,180.8 31.8,179.8 32.2,179.4 32.6,177.0 33.0,178.3 33.4,177.1 33.8,175.8 34.2,180.0 34.6,178.4 35.0,178.2 35.4,177.3 35.8,180.2 36.2,182.4 36.6,179.8 37.0,180.4 37.4,176.6 37.8,179.0 38.2,179.1 38.6,181.2 39.0,178.6 39.4,176.7 39.8,178.4 40.2,177.8 40.6,181.0 41.0,181.0 41.4,179.0 41.8,178.7 42.2,179.8 42.6,177.4 43.0,176.7 43.4,174.9 43.8,180.2 44.2,179.0 44.6,179.2 45.0,178.1 45.4,180.9 45.8,176.2 46.2,180.0 46.6,176.4 47.0,177.0 47.4,175.6 47.8,177.8 48.2,177.1 48.6,178.3 49.0,176.5 49.4,175.0 49.8,178.4 50.2,179.6 50.6,178.6 51.0,177.1 51.4,177.9 51.8,174.1 52.2,176.4 52.6,179.0 53.0,177.7 53.4,175.3 53.8,178.3 54.2,176.5 54.6,177.9 55.0,174.0 55.4,175.5 55.8,177.0 56.2,176.9 56.6,177.3 57.0,176.1 57.4,175.7 57.8,176.9 58.2,177.5 58.6,173.1 59.0,175.2 59.4,175.3 59.8,175.8 60.2,177.3 60.6,172.9 61.0,176.2 61.4,172.0 61.8,173.7 62.2,174.0 62.6,174.3 63.0,173.6 63.4,173.7 63.8,173.9 64.2,173.9 64.6,170.8 65.0,171.5 65.4,173.2 65.8,174.9 66.2,175.6 66.6,179.0 67.0,173.7 67.4,171.8 67.8,173.0 68.2,174.3 68.6,173.1 69.0,170.7 69.4,172.4 69.8,172.3 70.2,169.5 70.6,169.7 71.0,174.3 71.4,167.4 71.8,171.9 72.2,170.9 72.6,174.0 73.0,172.3 73.4,169.1 73.8,173.2 74.2,169.4 74.6,174.3 75.0,173.4 75.4,169.7 75.8,171.3 76.2,169.9 76.6,167.4 77.0,171.3 77.4,169.8 77.8,170.4 78.2,170.7 78.6,171.2 79.0,170.2 79.4,167.6 79.8,167.8 80.2,168.3 80.6,167.7 81.0,166.4 81.4,170.7 81.8,167.6 82.2,170.4 82.6,164.4 83.0,165.7 83.4,164.7 83.8,165.1 84.2,164.5 84.6,164.7 85.0,163.8 85.4,168.5 85.8,165.8 86.2,162.4 86.6,162.7 87.0,165.3 87.4,164.7 87.8,161.9 88.2,165.1 88.6,159.6 89.0,161.6 89.4,166.4 89.8,156.3 90.2,161.6 90.6,164.2 91.0,162.0 91.4,159.7 91.8,159.3 92.2,156.3 92.6,157.9 93.0,161.0 93.4,159.4 93.8,160.5 94.2,160.0 94.6,160.5 95.0,156.1 95.4,159.2 95.8,158.9 96.2,158.8 96.6,158.3 97.0,153.8 97.4,160.2 97.8,160.3 98.2,163.7 98.6,159.2 99.0,160.8 99.4,157.4 99.8,154.1 100.2,155.4 100.6,150.2 101.0,153.0 101.4,151.3 101.8,148.3 102.2,154.2 102.6,154.2 103.0,153.0 103.4,154.8 103.8,157.9 104.2,154.3 104.6,152.2 105.0,154.2 105.4,159.1 105.8,158.7 106.2,155.1 106.6,162.4 107.0,160.4 107.4,163.9 107.8,163.0 108.2,159.6 108.6,161.2 109.0,159.5 109.4,159.5 109.8,160.9 110.2,163.0 110.6,165.2 111.0,160.3 111.4,164.1 111.8,162.9 112.2,162.5 112.6,165.8 113.0,162.7 113.4,166.8 113.8,163.2 114.2,162.1 114.6,166.1 115.0,161.5 115.4,162.3 115.8,164.8 116.2,165.4 116.6,165.2 117.0,161.6 117.4,163.3 117.8,167.5 118.2,167.8 118.6,164.8 119.0,167.8 119.4,167.3 119.8,169.8 120.2,166.4 120.6,171.3 121.0,167.8 121.4,171.7 121.8,170.9 122.2,167.1 122.6,168.8 123.0,170.3 123.4,172.0 123.8,167.3 124.2,169.4 124.6,171.9 125.0,171.8 125.4,168.9 125.8,169.5 126.2,172.3 126.6,169.7 127.0,172.4 127.4,173.9 127.8,172.3 128.2,167.3 128.6,175.0 129.0,175.1 129.4,175.8 129.8,174.9 130.2,170.2 130.6,173.8 131.0,174.4 131.4,175.7 131.8,173.8 132.2,173.8 132.6,173.9 133.0,177.5 133.4,175.2 133.8,174.4 134.2,172.5 134.6,175.9 135.0,175.2 135.4,175.6 135.8,177.2 136.2,176.8 136.6,175.6 137.0,176.1 137.4,176.0 137.8,177.2 138.2,177.2 138.6,176.3 139.0,174.6 139.4,177.7 139.8,177.9 140.2,174.4 140.6,177.1 141.0,175.7 141.4,172.5 141.8,177.3 142.2,178.3 142.6,175.3 143.0,175.4 143.4,178.5 143.8,174.7 144.2,175.0 144.6,176.2 145.0,177.9 145.4,177.9 145.8,175.8 146.2,176.2 146.6,177.0 147.0,176.1 147.4,175.2 147.8,174.8 148.2,178.1 148.6,176.4 149.0,182.8 149.4,177.9 149.8,175.4 150.2,176.7 150.6,177.3 151.0,177.4 151.4,177.5 151.8,177.4 152.2,176.3 152.6,177.7 153.0,180.5 153.4,175.7 153.8,175.8 154.2,177.7 154.6,178.6 155.0,177.8 155.4,178.5 155.8,176.2 156.2,175.8 156.6,177.4 157.0,177.3 157.4,179.1 157.8,178.9 158.2,172.6 158.6,176.8 159.0,174.6 159.4,171.9 159.8,176.5 160.2,175.4 160.6,175.0 161.0,173.2 161.4,173.6 161.8,175.0 162.2,172.6 162.6,175.1 163.0,175.5 163.4,174.9 163.8,175.7 164.2,174.9 164.6,172.8 165.0,173.0 165.4,175.1 165.8,176.6 166.2,175.0 166.6,173.7 167.0,174.9 167.4,171.1 167.8,172.6 168.2,173.7 168.6,174.2 169.0,173.6 169.4,173.7 169.8,171.9 170.2,173.0 170.6,174.5 171.0,170.4 171.4,171.6 171.8,173.1 172.2,176.6 172.6,175.0 173.0,176.6 173.4,176.1 173.8,172.6 174.2,173.3 174.6,171.1 175.0,175.5 175.4,174.6 175.8,174.3 176.2,174.4 176.6,173.9 177.0,173.4 177.4,173.4 177.8,175.2 178.2,171.2 178.6,170.7 179.0,172.7 179.4,174.9 179.8,173.0 180.2,172.1 180.6,174.0 181.0,172.6 181.4,168.6 181.8,170.0 182.2,168.0 182.6,171.6 183.0,171.1 183.4,172.8 183.8,176.0 184.2,170.5 184.6,171.9 185.0,170.6 185.4,165.6 185.8,169.5 186.2,168.2 186.6,171.1 187.0,168.6 187.4,167.4 187.8,170.9 188.2,169.3 188.6,167.3 189.0,167.4 189.4,168.1 189.8,170.4 190.2,171.7 190.6,166.1 191.0,171.4 191.4,169.3 191.8,170.2 192.2,171.7 192.6,167.9 193.0,171.9 193.4,167.7 193.8,169.6 194.2,169.0 194.6,174.2 195.0,174.2 195.4,172.5 195.8,172.1 196.2,171.0 196.6,174.7 197.0,174.0 197.4,173.0 197.8,171.1 198.2,170.6 198.6,171.2 199.0,174.0 199.4,169.5 199.8,171.6 200.2,174.7 200.6,173.2 201.0,174.9 201.4,172.3 201.8,172.4 202.2,174.3 202.6,172.9 203.0,172.3 203.4,170.6 203.8,168.7 204.2,174.6 204.6,170.9 205.0,170.3 205.4,173.5 205.8,170.1 206.2,169.2 206.6,170.8 207.0,171.8 207.4,172.5 207.8,173.0 208.2,174.0 208.6,171.9 209.0,172.9 209.4,172.0 209.8,171.0 210.2,173.1 210.6,173.0 211.0,176.0 211.4,173.6 211.8,171.1 212.2,174.6 212.6,172.1 213.0,175.7 213.4,169.4 213.8,171.5 214.2,171.5 214.6,173.1 215.0,172.7 215.4,169.9 215.8,169.5 216.2,173.5 216.6,176.0 217.0,176.0 217.4,172.5 217.8,174.2 218.2,171.8 218.6,170.7 219.0,175.9 219.4,174.9 219.8,173.1 220.2,173.1 220.6,175.6 221.0,174.5 221.4,173.3 221.8,174.6 222.2,174.1 222.6,173.4 223.0,172.9 223.4,176.1 223.8,173.5 224.2,172.3 224.6,177.9 225.0,176.9 225.4,175.7 225.8,175.7 226.2,175.2 226.6,172.2 227.0,175.0 227.4,175.6 227.8,174.8 228.2,176.0 228.6,173.9 229.0,176.8 229.4,172.6 229.8,175.5 230.2,174.5 230.6,173.3 231.0,175.0 231.4,175.9 231.8,174.8 232.2,177.7 232.6,174.8 233.0,175.7 233.4,178.1 233.8,175.2 234.2,178.9 234.6,174.0 235.0,177.5 235.4,176.7 235.8,178.0 236.2,173.9 236.6,174.7 237.0,175.4 237.4,177.0 237.8,177.2 238.2,177.1 238.6,176.7 239.0,176.0 239.4,174.9 239.8,176.6 240.2,178.4 240.6,179.3 241.0,176.7 241.4,179.5 241.8,175.4 242.2,179.1 242.6,176.0 243.0,178.4 243.4,176.3 243.8,176.4 244.2,176.7 244.6,180.6 245.0,177.1" fill="none" stroke="#000000" stroke-width="0.9" stroke-linejoin="round" stroke-linecap="butt" />
<path d="M18.6,179.5L32.6,179.1 46.6,177.9 57.6,176.1 62.1,175.0 66.6,173.6 74.1,170.6 88.6,162.9 96.6,159.3 97.6,158.6 98.6,157.4 101.1,152.1 101.6,151.3 102.1,150.9 102.6,151.2 103.1,152.0 105.1,156.8 106.1,158.6 107.1,159.8 108.1,160.6 123.1,169.7 127.6,172.1 133.1,174.5 138.6,176.0 143.1,176.6 148.1,176.7 153.6,176.4 160.1,175.7 183.1,172.0 185.6,171.1 189.1,168.9 190.1,168.7 191.1,169.0 193.6,170.4 195.6,171.0 207.1,171.9 215.1,172.8 244.6,178.2" fill="none" stroke="#ff0000" stroke-width="1.75" stroke-linejoin="round" stroke-linecap="butt" />
<path d="M18.6,222.7L29.6,223.6 42.6,224.2 76.1,225.0 125.6,225.2 244.6,225.3" fill="none" stroke="#000000" stroke-width="1.0" stroke-linejoin="round" stroke-linecap="butt" />
<path d="M18.6,222.3L32.1,223.3 45.6,223.8 55.1,223.7 62.6,223.0 68.6,221.8 74.1,220.1 79.1,218.0 89.6,213.0 93.6,211.5 98.1,210.3 102.1,209.9 106.1,210.2 110.6,211.3 114.6,212.8 125.1,217.2 130.6,219.0 135.1,220.0 140.1,220.6 145.6,220.7 152.1,220.1 159.1,219.1 176.1,216.0 184.1,214.7 192.6,213.8 200.6,213.4 209.6,213.6 218.6,214.5 228.1,216.0 244.6,219.1" fill="none" stroke="#0000ff" stroke-width="1.5" stroke-linejoin="round" stroke-linecap="butt" />
<path d="M18.6,222.3L33.6,223.4 51.6,224.1 78.6,224.6 93.6,224.4 96.6,223.9 98.1,222.9 99.1,221.5 101.1,217.3 101.6,216.5 102.1,216.1 102.6,216.3 103.1,217.0 105.1,221.3 106.6,223.3 107.6,223.9 108.6,224.2 111.6,224.5 131.6,224.8 180.6,224.8 183.1,224.6 185.1,224.3 189.6,222.4 190.6,222.5 194.6,224.3 197.6,224.7 244.6,224.9" fill="none" stroke="#119a2c" stroke-width="1.5" stroke-linejoin="round" stroke-linecap="butt" />
<path d="M18.6,220.7L26.6,220.8 35.1,220.5 44.1,219.9 68.6,217.6 76.1,217.2 83.6,217.2 90.1,217.4 97.1,218.0 131.1,221.9 141.1,222.8 151.6,223.4 177.6,224.0 244.6,224.4" fill="none" stroke="#ff7d10" stroke-width="1.5" stroke-linejoin="round" stroke-linecap="butt" />
<path d="M18.6,222.6L19.0,222.5 19.4,222.1 19.8,220.6 20.2,225.4 20.6,220.7 21.0,219.1 21.4,222.4 21.8,218.4 22.2,224.0 22.6,222.5 23.0,223.0 23.4,222.6 23.8,221.5 24.2,218.7 24.6,219.9 25.0,221.8 25.4,220.5 25.8,221.5 26.2,219.7 26.6,219.5 27.0,221.3 27.4,222.1 27.8,220.8 28.2,219.2 28.6,218.0 29.0,224.2 29.4,218.9 29.8,219.3 30.2,219.5 30.6,222.2 31.0,219.5 31.4,221.6 31.8,221.2 32.2,218.8 32.6,220.9 33.0,218.6 33.4,220.3 33.8,221.8 34.2,220.2 34.6,219.0 35.0,219.8 35.4,220.2 35.8,221.0 36.2,216.6 36.6,217.3 37.0,221.2 37.4,220.2 37.8,220.3 38.2,220.6 38.6,220.0 39.0,219.4 39.4,220.4 39.8,221.3 40.2,220.7 40.6,220.1 41.0,218.3 41.4,220.4 41.8,218.0 42.2,218.8 42.6,220.2 43.0,220.1 43.4,221.7 43.8,221.3 44.2,220.6 44.6,221.6 45.0,219.6 45.4,219.2 45.8,222.6 46.2,220.3 46.6,218.2 47.0,218.0 47.4,223.1 47.8,217.8 48.2,219.9 48.6,219.5 49.0,221.0 49.4,217.6 49.8,219.9 50.2,219.4 50.6,220.4 51.0,221.3 51.4,219.0 51.8,218.4 52.2,220.3 52.6,216.2 53.0,219.0 53.4,216.8 53.8,216.3 54.2,215.6 54.6,215.4 55.0,219.8 55.4,219.8 55.8,218.3 56.2,219.9 56.6,218.1 57.0,217.0 57.4,215.9 57.8,219.2 58.2,219.2 58.6,219.9 59.0,216.1 59.4,216.9 59.8,214.9 60.2,219.4 60.6,218.5 61.0,218.0 61.4,217.0 61.8,216.6 62.2,216.1 62.6,218.7 63.0,215.4 63.4,218.1 63.8,216.9 64.2,214.4 64.6,213.5 65.0,214.6 65.4,216.2 65.8,213.4 66.2,216.9 66.6,217.7 67.0,216.5 67.4,212.1 67.8,210.7 68.2,216.7 68.6,217.8 69.0,214.0 69.4,214.4 69.8,214.0 70.2,213.1 70.6,216.1 71.0,213.0 71.4,215.6 71.8,217.1 72.2,213.4 72.6,217.1 73.0,210.7 73.4,214.9 73.8,213.9 74.2,217.9 74.6,212.7 75.0,210.8 75.4,215.5 75.8,209.0 76.2,212.8 76.6,210.2 77.0,214.4 77.4,211.1 77.8,212.9 78.2,210.9 78.6,208.5 79.0,206.1 79.4,214.1 79.8,210.7 80.2,207.6 80.6,209.2 81.0,211.7 81.4,206.3 81.8,214.1 82.2,208.5 82.6,208.1 83.0,211.4 83.4,208.9 83.8,206.1 84.2,210.1 84.6,208.9 85.0,210.1 85.4,205.5 85.8,204.8 86.2,208.5 86.6,206.0 87.0,202.0 87.4,207.2 87.8,207.8 88.2,204.6 88.6,208.9 89.0,204.7 89.4,205.5 89.8,201.8 90.2,203.5 90.6,204.8 91.0,206.3 91.4,205.3 91.8,203.7 92.2,199.6 92.6,204.5 93.0,203.9 93.4,201.7 93.8,203.9 94.2,204.2 94.6,204.7 95.0,202.8 95.4,204.6 95.8,201.1 96.2,204.9 96.6,203.8 97.0,206.9 97.4,204.6 97.8,200.8 98.2,201.9 98.6,200.0 99.0,197.9 99.4,199.8 99.8,198.7 100.2,196.4 100.6,196.1 101.0,193.7 101.4,195.9 101.8,191.6 102.2,199.4 102.6,195.2 103.0,198.3 103.4,193.5 103.8,198.4 104.2,198.2 104.6,201.9 105.0,202.5 105.4,197.2 105.8,204.6 106.2,198.9 106.6,206.1 107.0,203.2 107.4,200.9 107.8,205.7 108.2,204.4 108.6,202.3 109.0,203.1 109.4,206.1 109.8,202.1 110.2,203.4 110.6,209.8 111.0,204.1 111.4,206.9 111.8,207.3 112.2,208.6 112.6,208.6 113.0,201.2 113.4,206.4 113.8,209.9 114.2,205.8 114.6,211.8 115.0,208.5 115.4,205.5 115.8,209.7 116.2,212.9 116.6,207.4 117.0,210.3 117.4,207.4 117.8,208.3 118.2,210.0 118.6,211.1 119.0,211.0 119.4,210.9 119.8,215.8 120.2,208.7 120.6,207.3 121.0,212.5 121.4,212.0 121.8,208.9 122.2,215.6 122.6,210.8 123.0,209.6 123.4,213.5 123.8,214.2 124.2,217.9 124.6,210.2 125.0,211.0 125.4,213.2 125.8,213.0 126.2,214.0 126.6,212.9 127.0,211.4 127.4,213.8 127.8,216.2 128.2,216.6 128.6,213.9 129.0,216.4 129.4,216.3 129.8,214.7 130.2,215.2 130.6,216.1 131.0,221.5 131.4,216.6 131.8,214.7 132.2,216.3 132.6,215.7 133.0,219.0 133.4,212.9 133.8,215.0 134.2,218.8 134.6,218.1 135.0,217.5 135.4,219.1 135.8,215.1 136.2,218.4 136.6,215.7 137.0,215.5 137.4,218.9 137.8,216.6 138.2,217.5 138.6,219.4 139.0,218.0 139.4,219.1 139.8,222.5 140.2,218.1 140.6,220.3 141.0,220.0 141.4,216.3 141.8,216.1 142.2,218.7 142.6,214.8 143.0,218.8 143.4,219.2 143.8,219.6 144.2,219.6 144.6,221.3 145.0,218.2 145.4,221.3 145.8,219.8 146.2,219.8 146.6,218.6 147.0,220.6 147.4,217.5 147.8,220.2 148.2,220.9 148.6,217.6 149.0,217.1 149.4,219.9 149.8,218.7 150.2,219.4 150.6,220.4 151.0,222.2 151.4,221.7 151.8,219.2 152.2,217.9 152.6,216.4 153.0,220.1 153.4,219.5 153.8,218.0 154.2,218.2 154.6,218.2 155.0,213.6 155.4,218.2 155.8,217.8 156.2,218.0 156.6,216.2 157.0,218.2 157.4,219.0 157.8,221.4 158.2,220.0 158.6,219.0 159.0,217.1 159.4,215.3 159.8,216.9 160.2,215.1 160.6,217.5 161.0,219.6 161.4,218.3 161.8,219.2 162.2,217.4 162.6,219.2 163.0,216.8 163.4,213.5 163.8,217.4 164.2,217.2 164.6,213.7 165.0,216.0 165.4,212.2 165.8,215.9 166.2,219.1 166.6,215.5 167.0,219.1 167.4,217.0 167.8,215.1 168.2,213.0 168.6,217.8 169.0,217.6 169.4,213.3 169.8,215.3 170.2,218.2 170.6,214.6 171.0,216.7 171.4,212.1 171.8,214.7 172.2,217.1 172.6,213.4 173.0,212.8 173.4,212.8 173.8,214.7 174.2,212.3 174.6,215.0 175.0,216.3 175.4,218.2 175.8,214.3 176.2,218.2 176.6,216.1 177.0,214.5 177.4,215.9 177.8,217.8 178.2,217.7 178.6,216.1 179.0,214.4 179.4,216.2 179.8,215.9 180.2,214.7 180.6,214.8 181.0,217.9 181.4,211.7 181.8,213.9 182.2,211.8 182.6,215.7 183.0,216.1 183.4,216.5 183.8,212.9 184.2,213.6 184.6,215.0 185.0,213.6 185.4,213.7 185.8,213.3 186.2,214.7 186.6,212.3 187.0,213.2 187.4,209.0 187.8,210.9 188.2,208.7 188.6,212.2 189.0,209.5 189.4,212.0 189.8,213.5 190.2,208.2 190.6,209.2 191.0,211.7 191.4,214.2 191.8,213.0 192.2,212.4 192.6,211.6 193.0,210.9 193.4,212.8 193.8,213.2 194.2,212.6 194.6,211.2 195.0,209.1 195.4,210.7 195.8,211.8 196.2,210.2 196.6,213.3 197.0,209.7 197.4,213.4 197.8,213.3 198.2,214.3 198.6,213.1 199.0,215.1 199.4,211.4 199.8,211.0 200.2,214.9 200.6,210.8 201.0,212.3 201.4,209.1 201.8,215.0 202.2,214.1 202.6,212.6 203.0,209.1 203.4,213.2 203.8,213.3 204.2,215.1 204.6,216.5 205.0,213.2 205.4,212.3 205.8,212.3 206.2,212.2 206.6,209.9 207.0,211.0 207.4,212.7 207.8,209.5 208.2,210.2 208.6,215.4 209.0,210.6 209.4,214.6 209.8,215.2 210.2,213.0 210.6,214.7 211.0,212.7 211.4,211.4 211.8,212.9 212.2,213.3 212.6,213.5 213.0,213.4 213.4,212.5 213.8,214.3 214.2,213.0 214.6,212.6 215.0,215.4 215.4,211.5 215.8,214.6 216.2,216.6 216.6,213.8 217.0,216.6 217.4,213.3 217.8,212.2 218.2,213.6 218.6,212.8 219.0,213.3 219.4,213.2 219.8,215.7 220.2,215.0 220.6,213.8 221.0,212.8 221.4,220.7 221.8,214.0 222.2,217.3 222.6,212.2 223.0,213.2 223.4,217.1 223.8,212.6 224.2,212.7 224.6,214.8 225.0,213.5 225.4,214.5 225.8,215.4 226.2,216.9 226.6,215.6 227.0,215.9 227.4,218.0 227.8,218.2 228.2,214.8 228.6,212.0 229.0,213.7 229.4,217.8 229.8,214.9 230.2,214.5 230.6,215.1 231.0,219.1 231.4,216.2 231.8,215.5 232.2,214.9 232.6,214.3 233.0,220.7 233.4,216.4 233.8,216.9 234.2,216.1 234.6,218.8 235.0,214.9 235.4,213.3 235.8,215.9 236.2,217.7 236.6,221.4 237.0,217.1 237.4,215.7 237.8,217.0 238.2,216.0 238.6,216.1 239.0,217.8 239.4,218.2 239.8,216.5 240.2,219.9 240.6,217.8 241.0,218.2 241.4,217.1 241.8,218.9 242.2,219.0 242.6,218.6 243.0,216.9 243.4,219.6 243.8,217.5 244.2,218.8 244.6,220.1 245.0,221.5" fill="none" stroke="#000000" stroke-width="0.9" stroke-linejoin="round" stroke-linecap="butt" />
<path d="M18.6,220.7L25.1,220.8 31.6,220.6 45.1,219.7 51.6,218.8 57.1,217.9 62.1,216.8 66.6,215.5 73.6,213.0 88.1,206.2 96.6,202.9 97.6,202.2 98.6,201.1 101.1,196.0 101.6,195.2 102.1,194.9 102.6,195.2 103.1,195.9 105.1,200.6 106.1,202.3 107.1,203.5 108.1,204.2 122.6,212.3 127.1,214.5 133.1,216.9 138.6,218.2 143.1,218.7 148.1,218.8 153.6,218.5 160.1,217.7 183.1,213.8 185.6,213.0 189.1,210.9 190.1,210.7 191.1,211.0 193.6,212.0 195.6,212.5 209.1,212.9 220.1,214.1 229.1,215.6 244.6,218.6" fill="none" stroke="#ff0000" stroke-width="1.75" stroke-linejoin="round" stroke-linecap="butt" />
<path d="M18.6,266.2L29.6,266.9 42.6,267.5 76.1,268.1 125.6,268.4 244.6,268.4" fill="none" stroke="#000000" stroke-width="1.0" stroke-linejoin="round" stroke-linecap="butt" />
<path d="M18.6,265.8L32.6,266.7 46.1,267.1 55.1,266.9 62.6,266.2 68.6,264.9 74.1,263.2 79.1,261.0 89.6,256.0 93.6,254.4 98.1,253.2 102.1,252.9 106.6,253.3 111.1,254.4 115.1,255.9 125.1,260.3 130.6,262.1 135.1,263.2 140.1,263.8 145.6,263.9 152.1,263.4 159.1,262.4 184.1,258.3 192.6,257.4 200.6,257.0 211.1,257.3 224.1,258.4 231.1,259.5 244.6,262.4" fill="none" stroke="#0000ff" stroke-width="1.5" stroke-linejoin="round" stroke-linecap="butt" />
<path d="M18.6,265.8L34.1,266.7 53.6,267.4 81.6,267.7 94.1,267.4 96.6,266.9 98.1,265.9 99.1,264.4 101.1,259.8 101.6,258.9 102.1,258.5 102.6,258.7 103.1,259.5 105.1,264.1 106.6,266.2 107.6,266.9 108.6,267.3 111.6,267.6 119.1,267.8 134.6,267.9 181.1,267.8 183.6,267.6 185.1,267.2 186.6,266.4 188.6,264.9 189.6,264.5 190.6,264.7 193.1,266.4 194.6,267.2 197.6,267.7 208.1,267.9 221.1,267.8 224.1,267.4 228.6,266.0 229.6,266.1 233.1,267.3 235.1,267.7 244.6,268.0" fill="none" stroke="#119a2c" stroke-width="1.5" stroke-linejoin="round" stroke-linecap="butt" />
<path d="M18.6,264.3L26.6,264.3 34.6,264.0 43.6,263.4 68.1,261.3 76.1,260.9 83.6,260.8 97.1,261.5 131.1,265.2 141.1,266.0 151.6,266.5 177.6,267.1 244.6,267.5" fill="none" stroke="#ff7d10" stroke-width="1.5" stroke-linejoin="round" stroke-linecap="butt" />
<path d="M18.6,263.9L19.0,264.7 19.4,263.9 19.8,262.5 20.2,265.2 20.6,260.5 21.0,263.7 21.4,266.1 21.8,264.7 22.2,266.3 22.6,264.5 23.0,265.3 23.4,264.4 23.8,263.5 24.2,264.9 24.6,265.9 25.0,260.9 25.4,262.9 25.8,260.6 26.2,262.6 26.6,262.0 27.0,263.4 27.4,263.7 27.8,265.8 28.2,266.3 28.6,262.8 29.0,263.3 29.4,265.2 29.8,263.0 30.2,263.4 30.6,260.9 31.0,265.3 31.4,264.5 31.8,262.4 32.2,261.7 32.6,262.1 33.0,264.7 33.4,263.1 33.8,261.8 34.2,263.3 34.6,265.4 35.0,266.0 35.4,266.5 35.8,264.0 36.2,264.3 36.6,264.3 37.0,264.9 37.4,264.8 37.8,262.0 38.2,262.4 38.6,263.0 39.0,264.9 39.4,262.7 39.8,262.2 40.2,265.3 40.6,266.1 41.0,261.9 41.4,263.2 41.8,265.4 42.2,261.8 42.6,265.0 43.0,260.8 43.4,262.9 43.8,264.4 44.2,265.9 44.6,264.8 45.0,260.2 45.4,260.3 45.8,261.5 46.2,264.4 46.6,264.2 47.0,264.8 47.4,264.1 47.8,261.8 48.2,262.1 48.6,261.1 49.0,264.1 49.4,260.3 49.8,262.6 50.2,262.9 50.6,264.6 51.0,261.0 51.4,263.0 51.8,260.4 52.2,264.1 52.6,263.1 53.0,261.5 53.4,260.3 53.8,260.8 54.2,260.7 54.6,260.7 55.0,263.9 55.4,259.9 55.8,262.1 56.2,263.1 56.6,259.4 57.0,257.4 57.4,262.2 57.8,258.2 58.2,259.7 58.6,260.9 59.0,261.5 59.4,260.4 59.8,259.5 60.2,262.6 60.6,261.1 61.0,264.2 61.4,258.8 61.8,260.2 62.2,260.2 62.6,261.2 63.0,260.5 63.4,260.0 63.8,263.6 64.2,259.5 64.6,260.5 65.0,259.9 65.4,258.3 65.8,260.7 66.2,255.6 66.6,261.3 67.0,255.9 67.4,258.2 67.8,258.9 68.2,257.6 68.6,257.4 69.0,260.6 69.4,262.8 69.8,260.0 70.2,258.2 70.6,256.5 71.0,256.0 71.4,259.8 71.8,259.0 72.2,259.7 72.6,258.9 73.0,259.4 73.4,255.4 73.8,254.8 74.2,254.2 74.6,256.0 75.0,255.5 75.4,255.9 75.8,253.1 76.2,255.7 76.6,256.8 77.0,255.1 77.4,249.2 77.8,255.7 78.2,253.7 78.6,256.1 79.0,253.7 79.4,255.2 79.8,252.8 80.2,254.1 80.6,255.3 81.0,252.5 81.4,253.5 81.8,251.5 82.2,253.8 82.6,252.0 83.0,253.1 83.4,247.9 83.8,251.2 84.2,253.3 84.6,252.7 85.0,248.9 85.4,249.1 85.8,251.0 86.2,251.3 86.6,251.3 87.0,250.3 87.4,250.2 87.8,252.1 88.2,247.5 88.6,246.3 89.0,251.5 89.4,247.3 89.8,250.4 90.2,247.1 90.6,246.0 91.0,251.9 91.4,248.0 91.8,244.8 92.2,247.4 92.6,247.3 93.0,247.1 93.4,247.8 93.8,244.6 94.2,246.5 94.6,248.0 95.0,248.3 95.4,246.9 95.8,244.6 96.2,241.7 96.6,249.6 97.0,243.2 97.4,244.5 97.8,245.2 98.2,245.8 98.6,244.1 99.0,241.4 99.4,242.6 99.8,247.0 100.2,247.2 100.6,239.3 101.0,240.6 101.4,233.5 101.8,238.2 102.2,239.4 102.6,236.9 103.0,243.2 103.4,241.5 103.8,241.8 104.2,233.1 104.6,240.8 105.0,245.0 105.4,242.9 105.8,240.6 106.2,244.1 106.6,249.7 107.0,248.1 107.4,247.9 107.8,247.6 108.2,251.2 108.6,240.3 109.0,245.2 109.4,252.6 109.8,250.8 110.2,249.2 110.6,248.0 111.0,244.9 111.4,248.3 111.8,249.1 112.2,247.6 112.6,252.9 113.0,252.4 113.4,249.7 113.8,252.5 114.2,250.6 114.6,251.5 115.0,250.1 115.4,256.8 115.8,248.4 116.2,251.5 116.6,254.3 117.0,254.5 117.4,249.1 117.8,250.7 118.2,252.8 118.6,251.5 119.0,252.0 119.4,253.1 119.8,253.6 120.2,256.4 120.6,250.8 121.0,256.8 121.4,254.3 121.8,256.2 122.2,254.5 122.6,258.7 123.0,252.0 123.4,258.3 123.8,255.2 124.2,255.9 124.6,259.4 125.0,256.3 125.4,258.7 125.8,260.0 126.2,256.2 126.6,261.5 127.0,260.2 127.4,257.5 127.8,258.5 128.2,256.9 128.6,259.0 129.0,260.3 129.4,260.7 129.8,259.4 130.2,258.1 130.6,258.0 131.0,257.6 131.4,259.0 131.8,260.8 132.2,258.7 132.6,258.7 133.0,258.1 133.4,261.3 133.8,259.8 134.2,257.4 134.6,262.6 135.0,262.6 135.4,260.8 135.8,260.2 136.2,260.9 136.6,259.3 137.0,263.0 137.4,263.8 137.8,263.2 138.2,261.8 138.6,261.9 139.0,262.5 139.4,264.7 139.8,260.2 140.2,261.7 140.6,260.5 141.0,260.1 141.4,262.4 141.8,263.9 142.2,260.0 142.6,263.7 143.0,263.2 143.4,262.9 143.8,264.5 144.2,260.9 144.6,265.0 145.0,261.4 145.4,263.1 145.8,259.3 146.2,263.9 146.6,262.2 147.0,261.1 147.4,260.2 147.8,262.5 148.2,265.6 148.6,263.0 149.0,261.5 149.4,260.7 149.8,260.1 150.2,261.4 150.6,259.1 151.0,261.3 151.4,263.9 151.8,261.8 152.2,261.6 152.6,260.8 153.0,263.1 153.4,262.9 153.8,264.3 154.2,260.4 154.6,259.6 155.0,260.7 155.4,259.3 155.8,261.4 156.2,260.7 156.6,259.9 157.0,261.3 157.4,262.7 157.8,262.6 158.2,260.1 158.6,261.3 159.0,261.7 159.4,262.3 159.8,260.4 160.2,258.6 160.6,261.6 161.0,259.1 161.4,260.1 161.8,260.2 162.2,262.4 162.6,260.0 163.0,260.9 163.4,260.1 163.8,259.4 164.2,262.0 164.6,259.4 165.0,261.1 165.4,260.7 165.8,256.7 166.2,257.0 166.6,254.1 167.0,260.5 167.4,260.3 167.8,258.8 168.2,258.7 168.6,259.1 169.0,258.4 169.4,259.5 169.8,259.4 170.2,257.7 170.6,262.0 171.0,261.2 171.4,258.4 171.8,263.3 172.2,263.7 172.6,261.4 173.0,261.2 173.4,257.8 173.8,258.2 174.2,255.7 174.6,257.9 175.0,260.5 175.4,257.7 175.8,255.2 176.2,261.5 176.6,262.1 177.0,261.2 177.4,255.2 177.8,259.7 178.2,256.5 178.6,257.7 179.0,259.3 179.4,260.9 179.8,256.6 180.2,257.1 180.6,255.2 181.0,257.6 181.4,255.6 181.8,256.5 182.2,258.9 182.6,257.3 183.0,257.4 183.4,257.6 183.8,258.6 184.2,259.6 184.6,254.3 185.0,253.3 185.4,256.4 185.8,257.5 186.2,258.6 186.6,257.1 187.0,258.7 187.4,255.9 187.8,253.2 188.2,256.2 188.6,251.9 189.0,252.1 189.4,254.2 189.8,252.7 190.2,255.3 190.6,254.0 191.0,257.4 191.4,251.7 191.8,258.6 192.2,253.4 192.6,257.6 193.0,253.7 193.4,256.7 193.8,248.8 194.2,254.0 194.6,259.0 195.0,256.1 195.4,256.0 195.8,257.7 196.2,260.8 196.6,253.8 197.0,255.9 197.4,255.1 197.8,257.5 198.2,254.7 198.6,252.9 199.0,253.0 199.4,257.4 199.8,256.5 200.2,257.9 200.6,252.9 201.0,254.3 201.4,255.0 201.8,254.5 202.2,257.6 202.6,255.8 203.0,254.1 203.4,256.6 203.8,255.2 204.2,258.0 204.6,259.8 205.0,256.5 205.4,254.0 205.8,261.1 206.2,257.6 206.6,257.4 207.0,256.6 207.4,256.7 207.8,256.6 208.2,256.9 208.6,253.4 209.0,255.0 209.4,256.3 209.8,256.8 210.2,257.0 210.6,257.4 211.0,252.9 211.4,254.6 211.8,255.3 212.2,256.9 212.6,256.3 213.0,260.7 213.4,256.0 213.8,256.3 214.2,253.7 214.6,260.5 215.0,257.0 215.4,256.6 215.8,255.6 216.2,257.1 216.6,256.3 217.0,259.4 217.4,255.4 217.8,256.2 218.2,256.0 218.6,258.3 219.0,257.8 219.4,259.2 219.8,258.3 220.2,258.4 220.6,257.4 221.0,259.1 221.4,258.3 221.8,258.3 222.2,254.2 222.6,256.4 223.0,256.0 223.4,253.7 223.8,259.9 224.2,260.1 224.6,259.4 225.0,258.3 225.4,260.0 225.8,253.6 226.2,259.4 226.6,252.7 227.0,257.0 227.4,256.8 227.8,257.6 228.2,257.8 228.6,257.9 229.0,255.2 229.4,255.4 229.8,255.2 230.2,257.3 230.6,256.6 231.0,254.4 231.4,259.7 231.8,255.8 232.2,257.3 232.6,257.0 233.0,257.2 233.4,260.0 233.8,257.7 234.2,256.5 234.6,258.1 235.0,257.5 235.4,256.7 235.8,261.5 236.2,262.0 236.6,257.3 237.0,263.0 237.4,263.6 237.8,257.7 238.2,261.2 238.6,260.0 239.0,262.1 239.4,255.2 239.8,261.9 240.2,260.2 240.6,261.9 241.0,262.7 241.4,256.8 241.8,261.2 242.2,261.3 242.6,262.5 243.0,263.6 243.4,263.0 243.8,260.0 244.2,263.1 244.6,260.5 245.0,263.3" fill="none" stroke="#000000" stroke-width="0.9" stroke-linejoin="round" stroke-linecap="butt" />
<path d="M18.6,264.3L32.1,264.1 46.1,263.0 57.6,261.4 62.6,260.2 67.1,259.0 74.6,256.1 88.1,249.7 96.6,246.2 97.6,245.5 98.6,244.3 99.6,242.4 101.1,238.8 101.6,237.9 102.1,237.6 102.6,237.8 103.1,238.6 105.1,243.6 106.1,245.5 107.1,246.7 108.1,247.5 122.6,255.5 127.1,257.8 133.1,260.1 138.6,261.5 143.6,262.0 149.6,262.1 156.6,261.5 165.1,260.3 180.1,257.8 183.6,257.1 186.1,255.9 189.1,253.5 190.1,253.3 191.1,253.7 194.1,255.5 196.6,256.0 208.1,256.4 222.1,257.3 224.1,257.3 227.6,256.5 228.6,256.5 229.6,256.8 233.1,258.7 235.1,259.5 244.6,261.9" fill="none" stroke="#ff0000" stroke-width="1.75" stroke-linejoin="round" stroke-linecap="butt" />
<path d="M18.6,310.1L42.6,310.7 76.1,311.1 244.6,311.2" fill="none" stroke="#000000" stroke-width="1.0" stroke-linejoin="round" stroke-linecap="butt" />
<path d="M18.6,309.7L35.1,310.2 49.1,310.3 57.6,310.1 64.6,309.4 70.1,308.4 75.6,306.8 80.1,305.1 90.1,300.9 94.1,299.5 98.1,298.6 101.6,298.3 105.1,298.5 109.1,299.2 113.1,300.5 123.1,304.5 128.1,306.2 133.6,307.5 139.1,308.1 145.1,308.2 152.1,307.7 159.6,306.7 183.6,302.9 191.6,302.1 199.1,301.8 207.1,302.0 215.6,302.8 244.6,307.5" fill="none" stroke="#0000ff" stroke-width="1.5" stroke-linejoin="round" stroke-linecap="butt" />
<path d="M18.6,309.7L40.6,310.3 69.1,310.6 86.6,310.5 91.1,310.3 94.1,309.9 95.6,309.5 96.6,308.9 97.6,307.7 98.1,306.8 99.1,303.9 101.1,294.8 101.6,293.1 102.1,292.3 102.6,292.7 103.1,294.2 105.1,303.3 105.6,305.0 106.6,307.5 107.6,308.8 108.6,309.5 111.6,310.2 119.1,310.6 135.6,310.7 169.6,310.7 181.1,310.4 183.6,309.9 185.1,309.0 186.6,307.3 188.6,304.2 189.6,303.2 190.1,303.2 190.6,303.6 193.1,307.4 194.6,309.1 196.1,309.9 197.6,310.2 201.1,310.5 207.1,310.6 221.1,310.5 224.1,309.8 227.6,307.6 228.6,307.3 229.6,307.5 233.1,309.6 235.1,310.3 238.1,310.6 244.6,310.7" fill="none" stroke="#119a2c" stroke-width="1.5" stroke-linejoin="round" stroke-linecap="butt" />
<path d="M18.6,309.0L40.6,309.4 88.6,309.4 149.1,310.0 244.6,310.4" fill="none" stroke="#ff7d10" stroke-width="1.5" stroke-linejoin="round" stroke-linecap="butt" />
<path d="M18.6,307.3L19.0,308.9 19.4,308.6 19.8,308.9 20.2,309.0 20.6,308.5 21.0,311.7 21.4,307.7 21.8,308.7 22.2,307.7 22.6,309.0 23.0,310.9 23.4,308.2 23.8,308.2 24.2,307.7 24.6,309.8 25.0,309.0 25.4,309.9 25.8,308.4 26.2,308.6 26.6,309.1 27.0,307.4 27.4,310.6 27.8,307.9 28.2,309.4 28.6,309.8 29.0,311.9 29.4,309.8 29.8,310.2 30.2,308.7 30.6,309.4 31.0,309.3 31.4,310.5 31.8,308.2 32.2,309.8 32.6,312.6 33.0,308.2 33.4,307.2 33.8,308.7 34.2,309.2 34.6,311.2 35.0,309.9 35.4,310.6 35.8,308.5 36.2,309.3 36.6,309.7 37.0,308.4 37.4,310.5 37.8,309.0 38.2,309.6 38.6,307.8 39.0,307.1 39.4,310.9 39.8,309.4 40.2,309.3 40.6,312.3 41.0,309.7 41.4,309.9 41.8,308.6 42.2,309.8 42.6,309.7 43.0,309.1 43.4,311.0 43.8,310.3 44.2,310.1 44.6,308.5 45.0,308.6 45.4,310.7 45.8,309.7 46.2,308.8 46.6,309.8 47.0,309.4 47.4,308.9 47.8,309.2 48.2,310.2 48.6,309.8 49.0,307.6 49.4,308.5 49.8,309.7 50.2,308.1 50.6,309.5 51.0,309.2 51.4,307.8 51.8,306.5 52.2,308.3 52.6,309.2 53.0,309.2 53.4,310.3 53.8,309.2 54.2,309.1 54.6,309.6 55.0,309.8 55.4,311.1 55.8,308.4 56.2,308.1 56.6,308.5 57.0,310.4 57.4,308.3 57.8,308.1 58.2,309.6 58.6,310.3 59.0,308.4 59.4,309.6 59.8,308.0 60.2,310.4 60.6,307.5 61.0,308.4 61.4,308.1 61.8,307.5 62.2,308.4 62.6,309.3 63.0,307.5 63.4,310.6 63.8,308.6 64.2,308.7 64.6,307.3 65.0,308.1 65.4,309.1 65.8,306.8 66.2,307.1 66.6,306.9 67.0,306.2 67.4,308.5 67.8,306.7 68.2,309.5 68.6,305.9 69.0,307.0 69.4,307.3 69.8,306.0 70.2,304.5 70.6,306.2 71.0,306.9 71.4,307.0 71.8,307.0 72.2,304.2 72.6,305.8 73.0,308.9 73.4,307.4 73.8,307.3 74.2,305.5 74.6,305.3 75.0,307.1 75.4,305.1 75.8,306.2 76.2,304.0 76.6,305.6 77.0,305.2 77.4,301.9 77.8,304.5 78.2,305.3 78.6,305.1 79.0,304.7 79.4,305.7 79.8,303.8 80.2,302.7 80.6,304.8 81.0,306.2 81.4,302.7 81.8,305.1 82.2,302.6 82.6,300.6 83.0,301.2 83.4,301.1 83.8,303.6 84.2,302.1 84.6,301.0 85.0,301.8 85.4,303.4 85.8,301.1 86.2,300.0 86.6,301.4 87.0,299.5 87.4,301.2 87.8,301.8 88.2,300.4 88.6,299.3 89.0,299.9 89.4,297.5 89.8,301.8 90.2,302.8 90.6,299.1 91.0,295.7 91.4,297.7 91.8,296.3 92.2,295.4 92.6,297.9 93.0,297.7 93.4,296.7 93.8,299.3 94.2,297.5 94.6,295.7 95.0,297.6 95.4,294.7 95.8,295.9 96.2,294.8 96.6,296.3 97.0,294.9 97.4,293.8 97.8,294.5 98.2,293.9 98.6,292.5 99.0,292.7 99.4,287.2 99.8,288.1 100.2,288.8 100.6,283.5 101.0,276.9 101.4,282.2 101.8,278.6 102.2,280.1 102.6,279.6 103.0,281.6 103.4,284.5 103.8,284.0 104.2,287.3 104.6,285.2 105.0,287.7 105.4,290.7 105.8,295.0 106.2,291.9 106.6,293.6 107.0,296.0 107.4,294.6 107.8,293.8 108.2,293.2 108.6,297.9 109.0,295.1 109.4,297.7 109.8,298.2 110.2,294.7 110.6,298.5 111.0,294.1 111.4,298.0 111.8,296.7 112.2,298.9 112.6,297.5 113.0,299.9 113.4,300.0 113.8,297.0 114.2,297.2 114.6,297.7 115.0,301.3 115.4,298.4 115.8,299.6 116.2,300.8 116.6,300.3 117.0,299.2 117.4,297.8 117.8,302.4 118.2,300.4 118.6,299.1 119.0,300.6 119.4,301.8 119.8,299.1 120.2,302.3 120.6,304.1 121.0,303.1 121.4,302.6 121.8,301.4 122.2,300.7 122.6,302.8 123.0,302.5 123.4,305.5 123.8,303.2 124.2,304.3 124.6,304.0 125.0,301.7 125.4,305.2 125.8,303.7 126.2,302.5 126.6,305.1 127.0,306.4 127.4,304.7 127.8,304.6 128.2,304.3 128.6,304.7 129.0,306.8 129.4,305.6 129.8,306.1 130.2,306.4 130.6,302.1 131.0,306.1 131.4,306.7 131.8,306.4 132.2,304.3 132.6,305.3 133.0,307.2 133.4,306.9 133.8,307.1 134.2,305.1 134.6,307.0 135.0,308.5 135.4,306.8 135.8,308.5 136.2,307.9 136.6,307.9 137.0,306.1 137.4,306.2 137.8,306.2 138.2,308.5 138.6,308.7 139.0,305.9 139.4,305.6 139.8,307.4 140.2,308.8 140.6,307.6 141.0,308.1 141.4,307.9 141.8,305.8 142.2,307.2 142.6,307.9 143.0,308.2 143.4,307.2 143.8,309.4 144.2,306.0 144.6,306.9 145.0,306.3 145.4,308.6 145.8,308.6 146.2,306.4 146.6,307.3 147.0,306.7 147.4,305.6 147.8,306.2 148.2,307.6 148.6,307.8 149.0,306.2 149.4,307.1 149.8,308.1 150.2,308.7 150.6,307.4 151.0,306.0 151.4,305.0 151.8,307.0 152.2,306.4 152.6,306.1 153.0,305.9 153.4,306.0 153.8,306.8 154.2,307.4 154.6,305.6 155.0,308.8 155.4,308.2 155.8,306.1 156.2,307.4 156.6,308.2 157.0,305.1 157.4,305.4 157.8,305.4 158.2,304.8 158.6,306.9 159.0,305.7 159.4,306.0 159.8,306.0 160.2,305.5 160.6,307.7 161.0,305.5 161.4,304.5 161.8,303.8 162.2,304.6 162.6,305.7 163.0,305.6 163.4,305.7 163.8,304.7 164.2,305.7 164.6,305.7 165.0,303.5 165.4,305.5 165.8,305.4 166.2,304.5 166.6,306.2 167.0,304.8 167.4,303.7 167.8,306.5 168.2,306.8 168.6,302.9 169.0,304.3 169.4,305.5 169.8,304.2 170.2,305.5 170.6,305.8 171.0,301.6 171.4,304.9 171.8,301.7 172.2,302.5 172.6,302.3 173.0,304.3 173.4,301.4 173.8,303.7 174.2,301.4 174.6,306.1 175.0,302.6 175.4,303.2 175.8,301.6 176.2,302.3 176.6,304.8 177.0,303.3 177.4,301.3 177.8,302.1 178.2,302.5 178.6,305.1 179.0,302.4 179.4,303.1 179.8,303.9 180.2,305.6 180.6,303.1 181.0,300.7 181.4,300.7 181.8,304.3 182.2,302.4 182.6,299.0 183.0,300.9 183.4,300.8 183.8,300.7 184.2,301.9 184.6,301.7 185.0,302.3 185.4,297.2 185.8,300.0 186.2,298.7 186.6,296.8 187.0,299.1 187.4,295.0 187.8,294.2 188.2,298.3 188.6,295.7 189.0,295.9 189.4,296.4 189.8,291.9 190.2,293.8 190.6,294.5 191.0,295.7 191.4,296.7 191.8,297.0 192.2,296.0 192.6,297.2 193.0,298.1 193.4,300.0 193.8,295.5 194.2,301.4 194.6,298.2 195.0,303.1 195.4,300.8 195.8,302.8 196.2,300.1 196.6,303.0 197.0,301.2 197.4,301.3 197.8,301.4 198.2,297.1 198.6,298.6 199.0,298.5 199.4,301.0 199.8,300.6 200.2,302.1 200.6,301.4 201.0,302.8 201.4,300.0 201.8,301.5 202.2,300.3 202.6,299.4 203.0,298.5 203.4,300.9 203.8,299.8 204.2,300.4 204.6,299.8 205.0,299.6 205.4,305.3 205.8,301.3 206.2,299.4 206.6,301.2 207.0,301.3 207.4,299.2 207.8,302.9 208.2,300.1 208.6,302.2 209.0,300.8 209.4,300.3 209.8,306.1 210.2,300.7 210.6,299.4 211.0,299.3 211.4,300.2 211.8,303.2 212.2,302.4 212.6,300.1 213.0,304.3 213.4,301.5 213.8,300.0 214.2,303.5 214.6,302.9 215.0,300.6 215.4,300.5 215.8,301.9 216.2,301.2 216.6,303.0 217.0,302.7 217.4,302.0 217.8,300.8 218.2,302.1 218.6,304.3 219.0,301.6 219.4,303.4 219.8,301.7 220.2,303.3 220.6,301.9 221.0,303.3 221.4,301.5 221.8,301.7 222.2,305.4 222.6,304.0 223.0,301.0 223.4,304.3 223.8,302.3 224.2,304.4 224.6,300.5 225.0,302.1 225.4,301.4 225.8,300.9 226.2,300.0 226.6,304.2 227.0,301.2 227.4,300.6 227.8,298.5 228.2,302.4 228.6,302.4 229.0,300.6 229.4,299.0 229.8,302.1 230.2,301.6 230.6,299.8 231.0,305.2 231.4,303.6 231.8,301.6 232.2,302.3 232.6,304.7 233.0,305.5 233.4,304.9 233.8,305.1 234.2,304.1 234.6,307.5 235.0,304.6 235.4,305.4 235.8,305.7 236.2,305.0 236.6,306.5 237.0,307.6 237.4,302.8 237.8,305.5 238.2,307.5 238.6,307.7 239.0,305.4 239.4,307.0 239.8,306.4 240.2,306.4 240.6,305.5 241.0,307.7 241.4,308.0 241.8,308.6 242.2,307.0 242.6,306.9 243.0,308.2 243.4,311.0 243.8,306.6 244.2,306.9 244.6,309.2 245.0,305.6" fill="none" stroke="#000000" stroke-width="0.9" stroke-linejoin="round" stroke-linecap="butt" />
<path d="M18.6,309.0L41.6,309.3 50.6,309.2 57.1,309.0 62.6,308.5 67.6,307.7 72.1,306.6 76.6,305.1 81.6,303.1 93.6,297.7 95.6,296.6 96.6,295.8 97.6,294.4 98.6,292.0 99.6,288.3 101.1,281.2 101.6,279.4 102.1,278.6 102.6,279.0 103.1,280.5 105.6,291.6 106.6,294.2 108.1,296.2 111.1,298.0 122.6,303.1 128.1,305.1 133.1,306.4 137.1,307.0 141.1,307.3 145.6,307.3 150.6,307.0 162.1,305.5 180.6,302.3 183.1,301.6 185.1,300.3 186.6,298.5 189.1,294.4 189.6,294.0 190.1,294.0 191.1,294.9 193.1,298.0 194.1,299.1 195.1,299.9 196.6,300.5 198.6,300.8 209.6,301.5 222.1,302.8 224.6,302.5 227.6,301.0 228.6,300.9 229.6,301.2 233.1,304.0 235.1,305.0 238.1,305.8 244.6,307.0" fill="none" stroke="#ff0000" stroke-width="1.75" stroke-linejoin="round" stroke-linecap="butt" />
<path d="M18.6,349.5L42.6,350.2 76.1,350.6 244.6,350.7" fill="none" stroke="#000000" stroke-width="1.0" stroke-linejoin="round" stroke-linecap="butt" />
<path d="M18.6,349.1L35.1,349.6 50.1,349.8 58.6,349.7 65.6,349.0 71.1,348.0 76.6,346.4 81.1,344.6 90.6,340.3 94.6,338.8 98.6,337.9 102.1,337.6 106.1,338.0 110.1,339.0 114.1,340.6 123.6,344.7 128.6,346.4 133.1,347.5 138.1,348.2 143.6,348.3 149.6,348.1 179.1,344.9 186.6,344.4 194.1,344.3 204.6,344.7 223.6,346.4 244.6,348.9" fill="none" stroke="#0000ff" stroke-width="1.5" stroke-linejoin="round" stroke-linecap="butt" />
<path d="M18.6,349.1L39.6,349.7 66.6,350.1 86.1,350.0 91.1,349.8 94.1,349.5 95.6,349.1 96.6,348.6 97.6,347.5 98.1,346.6 99.1,344.0 101.1,335.8 101.6,334.2 102.1,333.5 102.6,333.8 103.1,335.2 105.1,343.5 106.6,347.3 107.6,348.5 108.6,349.1 111.6,349.7 120.1,350.1 140.1,350.2 170.6,350.2 181.1,349.8 183.6,349.3 185.1,348.3 186.6,346.4 188.6,342.9 189.6,341.8 190.1,341.8 190.6,342.2 193.1,346.5 194.6,348.3 196.1,349.3 197.6,349.7 200.6,350.0 206.1,350.1 221.1,350.0 224.1,349.4 227.6,347.6 228.6,347.3 229.6,347.4 233.1,349.3 235.1,349.9 238.1,350.1 244.6,350.2" fill="none" stroke="#119a2c" stroke-width="1.5" stroke-linejoin="round" stroke-linecap="butt" />
<path d="M18.6,348.6L33.1,349.0 50.6,349.2 244.6,350.0" fill="none" stroke="#ff7d10" stroke-width="1.5" stroke-linejoin="round" stroke-linecap="butt" />
<path d="M18.6,348.6L19.0,348.7 19.4,349.4 19.8,348.6 20.2,349.2 20.6,349.0 21.0,348.1 21.4,349.8 21.8,350.3 22.2,350.2 22.6,348.8 23.0,349.4 23.4,347.7 23.8,347.9 24.2,347.9 24.6,348.2 25.0,349.6 25.4,348.0 25.8,348.2 26.2,347.3 26.6,348.1 27.0,347.2 27.4,349.8 27.8,348.7 28.2,349.8 28.6,350.3 29.0,349.4 29.4,349.2 29.8,349.0 30.2,348.5 30.6,346.7 31.0,349.1 31.4,348.2 31.8,347.9 32.2,348.4 32.6,348.9 33.0,349.7 33.4,348.0 33.8,347.7 34.2,350.1 34.6,349.5 35.0,349.8 35.4,348.7 35.8,347.6 36.2,350.4 36.6,350.3 37.0,348.4 37.4,349.4 37.8,350.1 38.2,351.6 38.6,350.3 39.0,349.6 39.4,348.8 39.8,348.6 40.2,349.0 40.6,348.4 41.0,349.7 41.4,349.2 41.8,348.9 42.2,348.1 42.6,350.0 43.0,348.8 43.4,349.5 43.8,348.2 44.2,349.8 44.6,349.0 45.0,351.1 45.4,348.3 45.8,351.1 46.2,352.1 46.6,349.1 47.0,351.2 47.4,350.3 47.8,347.9 48.2,349.8 48.6,350.3 49.0,349.5 49.4,350.1 49.8,349.6 50.2,350.7 50.6,348.9 51.0,348.1 51.4,349.3 51.8,349.1 52.2,348.2 52.6,349.1 53.0,348.9 53.4,348.8 53.8,349.4 54.2,348.7 54.6,350.1 55.0,349.2 55.4,349.9 55.8,347.6 56.2,349.1 56.6,348.5 57.0,347.0 57.4,351.1 57.8,347.6 58.2,349.8 58.6,349.7 59.0,350.1 59.4,348.4 59.8,346.2 60.2,349.5 60.6,348.9 61.0,349.4 61.4,348.6 61.8,350.0 62.2,349.2 62.6,348.2 63.0,351.1 63.4,347.9 63.8,346.2 64.2,348.6 64.6,348.9 65.0,348.9 65.4,347.7 65.8,348.2 66.2,347.3 66.6,347.7 67.0,348.8 67.4,347.4 67.8,348.7 68.2,347.6 68.6,347.9 69.0,347.3 69.4,348.8 69.8,347.6 70.2,346.6 70.6,347.5 71.0,348.5 71.4,346.4 71.8,345.9 72.2,346.1 72.6,345.7 73.0,348.2 73.4,346.8 73.8,347.4 74.2,347.3 74.6,345.8 75.0,347.3 75.4,345.8 75.8,346.2 76.2,343.3 76.6,345.9 77.0,344.9 77.4,344.3 77.8,345.3 78.2,343.4 78.6,344.4 79.0,341.5 79.4,344.1 79.8,343.4 80.2,346.1 80.6,344.1 81.0,344.4 81.4,339.9 81.8,342.8 82.2,341.7 82.6,344.6 83.0,343.9 83.4,342.7 83.8,342.6 84.2,342.3 84.6,341.9 85.0,342.6 85.4,342.3 85.8,341.2 86.2,340.2 86.6,343.1 87.0,340.2 87.4,339.6 87.8,343.5 88.2,340.4 88.6,339.8 89.0,338.0 89.4,338.2 89.8,341.3 90.2,338.8 90.6,340.7 91.0,337.4 91.4,339.9 91.8,338.7 92.2,337.8 92.6,335.6 93.0,339.9 93.4,338.0 93.8,337.6 94.2,338.7 94.6,335.8 95.0,339.1 95.4,338.0 95.8,337.4 96.2,337.1 96.6,334.9 97.0,335.2 97.4,335.6 97.8,333.4 98.2,335.6 98.6,333.8 99.0,333.5 99.4,327.2 99.8,330.9 100.2,325.5 100.6,323.2 101.0,322.4 101.4,324.4 101.8,321.6 102.2,321.1 102.6,322.7 103.0,323.9 103.4,325.4 103.8,326.7 104.2,327.2 104.6,329.3 105.0,327.7 105.4,331.1 105.8,329.6 106.2,333.4 106.6,334.6 107.0,333.9 107.4,334.8 107.8,337.6 108.2,335.9 108.6,336.7 109.0,339.7 109.4,339.2 109.8,338.7 110.2,338.3 110.6,338.6 111.0,339.6 111.4,337.9 111.8,339.5 112.2,339.0 112.6,338.2 113.0,339.8 113.4,338.3 113.8,335.7 114.2,339.2 114.6,341.5 115.0,338.6 115.4,340.9 115.8,339.8 116.2,338.5 116.6,340.2 117.0,338.8 117.4,342.6 117.8,340.1 118.2,341.9 118.6,341.6 119.0,339.9 119.4,341.5 119.8,343.7 120.2,343.4 120.6,340.1 121.0,341.8 121.4,342.8 121.8,341.0 122.2,343.5 122.6,341.4 123.0,342.7 123.4,344.8 123.8,343.9 124.2,343.3 124.6,344.4 125.0,344.1 125.4,344.8 125.8,346.0 126.2,344.7 126.6,343.0 127.0,345.6 127.4,344.3 127.8,346.7 128.2,346.6 128.6,345.9 129.0,346.3 129.4,344.2 129.8,344.0 130.2,345.7 130.6,346.6 131.0,347.8 131.4,345.6 131.8,345.4 132.2,345.6 132.6,347.4 133.0,346.9 133.4,345.2 133.8,347.7 134.2,345.9 134.6,349.5 135.0,346.9 135.4,347.2 135.8,345.4 136.2,347.6 136.6,345.2 137.0,348.3 137.4,346.7 137.8,347.7 138.2,348.0 138.6,348.5 139.0,349.0 139.4,348.8 139.8,348.4 140.2,346.9 140.6,346.4 141.0,348.4 141.4,348.0 141.8,347.1 142.2,347.6 142.6,348.7 143.0,348.6 143.4,347.0 143.8,346.2 144.2,345.6 144.6,347.2 145.0,347.3 145.4,346.2 145.8,348.8 146.2,349.7 146.6,346.8 147.0,348.4 147.4,347.4 147.8,348.2 148.2,347.7 148.6,347.4 149.0,348.5 149.4,348.2 149.8,347.0 150.2,347.9 150.6,346.7 151.0,347.3 151.4,348.0 151.8,349.4 152.2,345.6 152.6,347.9 153.0,345.9 153.4,347.4 153.8,347.9 154.2,345.4 154.6,345.9 155.0,347.9 155.4,347.3 155.8,344.6 156.2,347.9 156.6,346.2 157.0,345.5 157.4,347.0 157.8,346.0 158.2,346.7 158.6,346.9 159.0,349.3 159.4,347.6 159.8,346.8 160.2,346.5 160.6,346.8 161.0,346.9 161.4,345.6 161.8,346.8 162.2,345.4 162.6,345.5 163.0,346.0 163.4,347.2 163.8,346.5 164.2,342.6 164.6,347.3 165.0,345.9 165.4,345.9 165.8,347.4 166.2,344.9 166.6,344.5 167.0,343.3 167.4,344.2 167.8,346.5 168.2,344.5 168.6,343.0 169.0,345.8 169.4,344.1 169.8,344.4 170.2,344.3 170.6,345.6 171.0,344.3 171.4,344.5 171.8,344.8 172.2,342.8 172.6,344.6 173.0,342.7 173.4,343.4 173.8,344.2 174.2,344.8 174.6,344.3 175.0,345.8 175.4,344.7 175.8,345.2 176.2,343.9 176.6,343.6 177.0,346.3 177.4,342.3 177.8,345.6 178.2,343.3 178.6,344.9 179.0,343.6 179.4,344.6 179.8,344.3 180.2,341.4 180.6,343.1 181.0,344.5 181.4,344.9 181.8,344.0 182.2,342.8 182.6,343.3 183.0,341.7 183.4,341.9 183.8,343.2 184.2,342.7 184.6,343.3 185.0,342.3 185.4,342.4 185.8,341.1 186.2,341.5 186.6,343.3 187.0,338.0 187.4,338.8 187.8,337.2 188.2,337.8 188.6,337.1 189.0,334.7 189.4,335.7 189.8,335.7 190.2,335.3 190.6,336.2 191.0,338.3 191.4,337.9 191.8,337.3 192.2,338.8 192.6,341.9 193.0,339.0 193.4,342.0 193.8,340.1 194.2,339.4 194.6,341.0 195.0,342.7 195.4,342.2 195.8,341.9 196.2,341.9 196.6,341.9 197.0,341.9 197.4,342.5 197.8,340.3 198.2,343.9 198.6,343.8 199.0,343.7 199.4,343.4 199.8,342.9 200.2,343.7 200.6,340.6 201.0,344.0 201.4,343.3 201.8,344.6 202.2,344.9 202.6,343.7 203.0,342.4 203.4,344.4 203.8,345.0 204.2,345.2 204.6,343.5 205.0,343.0 205.4,343.8 205.8,343.0 206.2,339.9 206.6,344.7 207.0,344.8 207.4,345.1 207.8,343.4 208.2,344.4 208.6,343.0 209.0,342.1 209.4,345.1 209.8,342.4 210.2,344.2 210.6,347.4 211.0,346.1 211.4,345.5 211.8,345.5 212.2,345.0 212.6,344.2 213.0,347.2 213.4,344.7 213.8,344.3 214.2,345.8 214.6,345.0 215.0,346.6 215.4,344.4 215.8,344.2 216.2,344.7 216.6,347.1 217.0,346.3 217.4,346.9 217.8,345.4 218.2,345.8 218.6,344.3 219.0,346.0 219.4,344.9 219.8,345.7 220.2,345.5 220.6,345.8 221.0,345.0 221.4,346.6 221.8,345.9 222.2,344.6 222.6,346.0 223.0,345.0 223.4,345.8 223.8,346.3 224.2,344.6 224.6,345.0 225.0,345.0 225.4,344.8 225.8,347.0 226.2,344.8 226.6,342.8 227.0,344.1 227.4,343.2 227.8,346.6 228.2,344.0 228.6,342.2 229.0,344.5 229.4,343.1 229.8,343.5 230.2,343.9 230.6,343.7 231.0,344.3 231.4,342.5 231.8,345.2 232.2,346.4 232.6,348.0 233.0,346.2 233.4,347.3 233.8,345.7 234.2,348.3 234.6,349.3 235.0,347.4 235.4,346.8 235.8,347.3 236.2,349.0 236.6,346.1 237.0,348.9 237.4,346.5 237.8,346.8 238.2,348.0 238.6,348.5 239.0,348.9 239.4,349.5 239.8,346.8 240.2,348.1 240.6,348.9 241.0,348.5 241.4,349.4 241.8,348.3 242.2,348.0 242.6,346.0 243.0,346.5 243.4,349.3 243.8,347.3 244.2,348.9 244.6,349.3 245.0,348.5" fill="none" stroke="#000000" stroke-width="0.9" stroke-linejoin="round" stroke-linecap="butt" />
<path d="M18.6,348.6L41.6,349.1 57.6,348.9 62.6,348.5 67.1,347.9 71.6,347.0 75.6,345.8 79.6,344.3 84.1,342.2 94.6,337.1 96.6,335.7 97.6,334.4 98.6,332.2 99.6,328.8 101.1,322.3 101.6,320.7 102.1,320.0 102.6,320.4 103.1,321.7 105.6,331.9 106.6,334.3 108.1,336.2 110.6,337.7 122.6,343.4 127.6,345.3 132.6,346.7 136.1,347.2 140.1,347.6 144.1,347.7 149.1,347.5 160.1,346.4 181.6,343.7 183.6,343.1 185.1,342.1 186.6,340.1 189.1,335.8 189.6,335.4 190.1,335.4 191.1,336.5 193.1,340.0 194.1,341.4 195.6,342.6 197.1,343.2 200.1,343.7 211.6,344.8 221.1,345.5 224.1,345.2 227.6,343.7 228.6,343.5 229.6,343.8 233.1,346.2 235.1,347.0 238.6,347.8 244.6,348.6" fill="none" stroke="#ff0000" stroke-width="1.75" stroke-linejoin="round" stroke-linecap="butt" />
<path d="M172.4,79.6 L181.6,79.6 L177.0,88.2 Z" fill="#ff0000"/>
<line x1="245.00" y1="4.50" x2="245.00" y2="357.10" stroke="#333" stroke-width="1.3"/>
<line x1="18.60" y1="4.50" x2="18.60" y2="357.10" stroke="#c8c8c8" stroke-width="1.0"/>
<line x1="18.60" y1="187.00" x2="18.60" y2="357.10" stroke="#000000" stroke-width="1.3"/>
<line x1="18.60" y1="4.50" x2="18.60" y2="10.50" stroke="#000000" stroke-width="1.2"/>
<line x1="18.60" y1="357.10" x2="18.60" y2="351.10" stroke="#000000" stroke-width="1.2"/>
<line x1="27.66" y1="4.50" x2="27.66" y2="7.90" stroke="#000000" stroke-width="1.2"/>
<line x1="27.66" y1="357.10" x2="27.66" y2="353.70" stroke="#000000" stroke-width="1.2"/>
<line x1="36.72" y1="4.50" x2="36.72" y2="7.90" stroke="#000000" stroke-width="1.2"/>
<line x1="36.72" y1="357.10" x2="36.72" y2="353.70" stroke="#000000" stroke-width="1.2"/>
<line x1="45.78" y1="4.50" x2="45.78" y2="7.90" stroke="#000000" stroke-width="1.2"/>
<line x1="45.78" y1="357.10" x2="45.78" y2="353.70" stroke="#000000" stroke-width="1.2"/>
<line x1="54.84" y1="4.50" x2="54.84" y2="7.90" stroke="#000000" stroke-width="1.2"/>
<line x1="54.84" y1="357.10" x2="54.84" y2="353.70" stroke="#000000" stroke-width="1.2"/>
<line x1="63.90" y1="4.50" x2="63.90" y2="10.50" stroke="#000000" stroke-width="1.2"/>
<line x1="63.90" y1="357.10" x2="63.90" y2="351.10" stroke="#000000" stroke-width="1.2"/>
<line x1="72.96" y1="4.50" x2="72.96" y2="7.90" stroke="#000000" stroke-width="1.2"/>
<line x1="72.96" y1="357.10" x2="72.96" y2="353.70" stroke="#000000" stroke-width="1.2"/>
<line x1="82.02" y1="4.50" x2="82.02" y2="7.90" stroke="#000000" stroke-width="1.2"/>
<line x1="82.02" y1="357.10" x2="82.02" y2="353.70" stroke="#000000" stroke-width="1.2"/>
<line x1="91.08" y1="4.50" x2="91.08" y2="7.90" stroke="#000000" stroke-width="1.2"/>
<line x1="91.08" y1="357.10" x2="91.08" y2="353.70" stroke="#000000" stroke-width="1.2"/>
<line x1="100.14" y1="4.50" x2="100.14" y2="7.90" stroke="#000000" stroke-width="1.2"/>
<line x1="100.14" y1="357.10" x2="100.14" y2="353.70" stroke="#000000" stroke-width="1.2"/>
<line x1="109.20" y1="4.50" x2="109.20" y2="10.50" stroke="#000000" stroke-width="1.2"/>
<line x1="109.20" y1="357.10" x2="109.20" y2="351.10" stroke="#000000" stroke-width="1.2"/>
<line x1="118.26" y1="4.50" x2="118.26" y2="7.90" stroke="#000000" stroke-width="1.2"/>
<line x1="118.26" y1="357.10" x2="118.26" y2="353.70" stroke="#000000" stroke-width="1.2"/>
<line x1="127.32" y1="4.50" x2="127.32" y2="7.90" stroke="#000000" stroke-width="1.2"/>
<line x1="127.32" y1="357.10" x2="127.32" y2="353.70" stroke="#000000" stroke-width="1.2"/>
<line x1="136.38" y1="4.50" x2="136.38" y2="7.90" stroke="#000000" stroke-width="1.2"/>
<line x1="136.38" y1="357.10" x2="136.38" y2="353.70" stroke="#000000" stroke-width="1.2"/>
<line x1="145.44" y1="4.50" x2="145.44" y2="7.90" stroke="#000000" stroke-width="1.2"/>
<line x1="145.44" y1="357.10" x2="145.44" y2="353.70" stroke="#000000" stroke-width="1.2"/>
<line x1="154.50" y1="4.50" x2="154.50" y2="10.50" stroke="#000000" stroke-width="1.2"/>
<line x1="154.50" y1="357.10" x2="154.50" y2="351.10" stroke="#000000" stroke-width="1.2"/>
<line x1="163.56" y1="4.50" x2="163.56" y2="7.90" stroke="#000000" stroke-width="1.2"/>
<line x1="163.56" y1="357.10" x2="163.56" y2="353.70" stroke="#000000" stroke-width="1.2"/>
<line x1="172.62" y1="4.50" x2="172.62" y2="7.90" stroke="#000000" stroke-width="1.2"/>
<line x1="172.62" y1="357.10" x2="172.62" y2="353.70" stroke="#000000" stroke-width="1.2"/>
<line x1="181.68" y1="4.50" x2="181.68" y2="7.90" stroke="#000000" stroke-width="1.2"/>
<line x1="181.68" y1="357.10" x2="181.68" y2="353.70" stroke="#000000" stroke-width="1.2"/>
<line x1="190.74" y1="4.50" x2="190.74" y2="7.90" stroke="#000000" stroke-width="1.2"/>
<line x1="190.74" y1="357.10" x2="190.74" y2="353.70" stroke="#000000" stroke-width="1.2"/>
<line x1="199.80" y1="4.50" x2="199.80" y2="10.50" stroke="#000000" stroke-width="1.2"/>
<line x1="199.80" y1="357.10" x2="199.80" y2="351.10" stroke="#000000" stroke-width="1.2"/>
<line x1="208.86" y1="4.50" x2="208.86" y2="7.90" stroke="#000000" stroke-width="1.2"/>
<line x1="208.86" y1="357.10" x2="208.86" y2="353.70" stroke="#000000" stroke-width="1.2"/>
<line x1="217.92" y1="4.50" x2="217.92" y2="7.90" stroke="#000000" stroke-width="1.2"/>
<line x1="217.92" y1="357.10" x2="217.92" y2="353.70" stroke="#000000" stroke-width="1.2"/>
<line x1="226.98" y1="4.50" x2="226.98" y2="7.90" stroke="#000000" stroke-width="1.2"/>
<line x1="226.98" y1="357.10" x2="226.98" y2="353.70" stroke="#000000" stroke-width="1.2"/>
<line x1="236.04" y1="4.50" x2="236.04" y2="7.90" stroke="#000000" stroke-width="1.2"/>
<line x1="236.04" y1="357.10" x2="236.04" y2="353.70" stroke="#000000" stroke-width="1.2"/>
<line x1="17.95" y1="4.50" x2="245.65" y2="4.50" stroke="#000000" stroke-width="1.3"/>
<line x1="17.95" y1="357.10" x2="245.65" y2="357.10" stroke="#000000" stroke-width="1.3"/>
<line x1="48.20" y1="11.60" x2="54.50" y2="11.60" stroke="#000000" stroke-width="1.6"/>
<line x1="62.20" y1="11.60" x2="66.40" y2="11.60" stroke="#000000" stroke-width="1.6"/>
<line x1="48.20" y1="22.70" x2="66.40" y2="22.70" stroke="#000000" stroke-width="1.6"/>
<line x1="92.90" y1="11.80" x2="112.10" y2="11.80" stroke="#0000ff" stroke-width="1.8"/>
<line x1="92.90" y1="23.20" x2="112.10" y2="23.20" stroke="#119a2c" stroke-width="1.8"/>
<line x1="139.60" y1="10.90" x2="159.00" y2="10.90" stroke="#ff7d10" stroke-width="1.8"/>
<line x1="139.60" y1="22.80" x2="159.00" y2="22.80" stroke="#ff00ff" stroke-width="1.8"/>
<line x1="201.50" y1="10.90" x2="222.90" y2="10.90" stroke="#ff0000" stroke-width="1.8"/>
<text x="69.9" y="14.9" font-size="8.8" font-weight="bold" textLength="20.2" lengthAdjust="spacingAndGlyphs" >Raw</text>
<text x="69.9" y="26.0" font-size="8.8" font-weight="bold" textLength="14.5" lengthAdjust="spacingAndGlyphs" >BG</text>
<text x="115.0" y="14.9" font-size="8.8" font-weight="bold" textLength="18.4" lengthAdjust="spacingAndGlyphs" >a-Si</text>
<text x="115.0" y="26.0" font-size="8.8" font-weight="bold" textLength="18.4" lengthAdjust="spacingAndGlyphs" >n-Si</text>
<text x="161.4" y="13.6" font-size="8.8" font-weight="bold" textLength="36.2" lengthAdjust="spacingAndGlyphs" >a-SiO<tspan font-size="5.5" dy="0.8">2-δ</tspan></text>
<text x="161.4" y="25.0" font-size="8.8" font-weight="bold" textLength="22.2" lengthAdjust="spacingAndGlyphs" >FeSi</text>
<text x="226.4" y="15.0" font-size="11.0" font-weight="bold" textLength="13.8" lengthAdjust="spacingAndGlyphs" >Fit</text>
<text x="23.6" y="21.8" font-size="15.5" font-weight="bold" textLength="19.3" lengthAdjust="spacingAndGlyphs" >(a)</text>
<text x="137.7" y="39.7" font-size="15.6" font-weight="bold" textLength="106.8" lengthAdjust="spacingAndGlyphs" >BM-SiO-SiO<tspan font-size="9">0.97</tspan></text>
<text x="136.4" y="76.7" font-size="15.6" font-weight="bold" textLength="106.6" lengthAdjust="spacingAndGlyphs" >4Si/SiO<tspan font-size="9.5" dy="1">2</tspan><tspan dy="-1">-SiO</tspan><tspan font-size="9">0.4</tspan></text>
<text x="140.3" y="118.9" font-size="15.6" font-weight="bold" textLength="103.3" lengthAdjust="spacingAndGlyphs" >Si(16h)-SiO<tspan font-size="9">0.37</tspan></text>
<text x="139.2" y="159.8" font-size="15.6" font-weight="bold" textLength="103.1" lengthAdjust="spacingAndGlyphs" >Si(12h)-SiO<tspan font-size="9">0.37</tspan></text>
<text x="146.9" y="202.7" font-size="15.6" font-weight="bold" textLength="94.2" lengthAdjust="spacingAndGlyphs" >Si(8h)-SiO<tspan font-size="9">0.37</tspan></text>
<text x="148.6" y="246.2" font-size="15.6" font-weight="bold" textLength="93.7" lengthAdjust="spacingAndGlyphs" >Si(4h)-SiO<tspan font-size="9">0.21</tspan></text>
<text x="134.9" y="287.7" font-size="15.6" font-weight="bold" textLength="108.1" lengthAdjust="spacingAndGlyphs" >Si(0.5h)-SiO<tspan font-size="9">0.12</tspan></text>
<text x="148.6" y="332.2" font-size="15.6" font-weight="bold" textLength="94.3" lengthAdjust="spacingAndGlyphs" >Si(0h)-SiO<tspan font-size="9">0.08</tspan></text>
<text x="9.9" y="376.7" font-size="15.3" font-weight="normal" textLength="17.5" lengthAdjust="spacingAndGlyphs" >10</text>
<text x="55.2" y="376.7" font-size="15.3" font-weight="normal" textLength="17.5" lengthAdjust="spacingAndGlyphs" >20</text>
<text x="100.5" y="376.7" font-size="15.3" font-weight="normal" textLength="17.5" lengthAdjust="spacingAndGlyphs" >30</text>
<text x="145.8" y="376.7" font-size="15.3" font-weight="normal" textLength="17.5" lengthAdjust="spacingAndGlyphs" >40</text>
<text x="191.1" y="376.7" font-size="15.3" font-weight="normal" textLength="17.5" lengthAdjust="spacingAndGlyphs" >50</text>
<text x="236.3" y="376.7" font-size="15.3" font-weight="normal" textLength="17.5" lengthAdjust="spacingAndGlyphs" >60</text>
<text x="112.7" y="394.3" font-size="15.0" font-weight="bold" textLength="36.9" lengthAdjust="spacingAndGlyphs" >2<tspan font-style="italic">θ</tspan> (<tspan font-size="8" font-weight="normal" dy="-5.5">o</tspan><tspan dy="5.5">)</tspan></text>
<text x="0" y="0" font-size="14.8" font-weight="bold" textLength="130.1" lengthAdjust="spacingAndGlyphs" transform="translate(12.0 273.7) rotate(-90)">Intensity (counts)</text>
<path d="M312.5,66.9L328.5,66.5 338.5,65.8 342.5,65.2 345.5,64.5 348.5,63.6 351.5,62.4 354.5,60.8 357.5,58.8 362.5,54.5 367.5,49.2 376.5,38.5 380.5,34.4 382.5,32.8 384.5,31.6 386.5,30.8 388.5,30.5 390.5,30.8 392.5,31.5 394.5,32.7 397.5,35.2 401.5,39.5 412.5,52.8 416.5,56.8 419.5,59.3 422.5,61.4 426.5,63.6 429.5,64.8 433.5,65.9 437.5,66.7 442.5,67.3 457.5,68.0 488.5,68.3 548.5,68.5" fill="none" stroke="#119a2c" stroke-width="1.6" stroke-linejoin="round" stroke-linecap="butt" />
<path d="M312.5,67.3L360.5,67.3 393.5,67.7 403.5,67.5 410.5,67.0 416.5,66.3 422.5,65.4 438.5,62.2 443.5,61.6 447.5,61.5 451.5,61.7 455.5,62.1 476.5,66.3 482.5,67.1 489.5,67.8 496.5,68.2 506.5,68.4 548.5,68.5" fill="none" stroke="#0000ff" stroke-width="1.6" stroke-linejoin="round" stroke-linecap="butt" />
<path d="M312.5,67.3L365.5,67.4 405.5,68.2 425.5,68.4 548.5,68.6" fill="none" stroke="#000000" stroke-width="1.8" stroke-linejoin="round" stroke-linecap="butt" />
<path d="M312.5,69.1L316.5,68.9 318.5,68.2 321.5,66.8 322.5,66.6 324.5,66.7 327.5,67.7 328.6,67.9 329.6,67.8 333.5,66.5 339.4,65.0 341.4,64.9 345.7,65.2 347.7,64.5 352.6,62.1 354.6,60.9 355.5,60.0 358.5,56.0 360.3,54.1 373.5,41.9 382.8,30.9 384.9,29.5 386.1,29.2 387.3,29.1 388.5,29.3 390.6,30.1 392.5,31.3 394.2,32.8 396.9,35.4 401.4,41.1 402.5,42.1 408.0,45.6 409.1,46.6 410.0,47.7 412.2,51.6 414.1,53.7 420.4,57.7 422.4,58.7 423.5,58.9 425.6,59.1 433.5,59.2 438.4,58.5 440.5,58.7 445.5,59.9 451.6,60.4 458.4,62.5 465.7,63.0 475.7,64.4 483.5,67.1 489.5,67.5 494.5,68.3 496.5,68.2 502.5,67.3 504.5,67.1 506.5,67.4 509.5,68.1 511.5,68.2 513.5,67.9 516.5,66.9 518.5,66.7 523.5,67.9 525.5,68.0 529.5,67.7 533.5,68.3 534.5,68.2 538.5,66.9 539.5,66.7 544.5,67.4 548.5,67.2" fill="none" stroke="#000000" stroke-width="1.6" stroke-linejoin="round" stroke-linecap="butt" stroke-dasharray="4 5" stroke-dashoffset="3.0"/>
<path d="M312.5,66.8L328.5,66.5 338.5,65.8 342.5,65.1 345.5,64.5 348.5,63.5 351.5,62.3 354.5,60.7 357.5,58.7 362.5,54.4 367.5,49.1 376.5,38.3 380.5,34.2 382.5,32.6 384.5,31.4 386.5,30.6 388.5,30.3 390.5,30.5 392.5,31.2 394.5,32.4 396.5,33.9 400.5,37.8 410.5,49.3 413.5,52.3 416.5,54.8 418.5,56.3 421.5,58.0 423.5,58.9 426.5,59.8 429.5,60.4 432.5,60.6 445.5,60.6 451.5,61.0 458.5,62.1 476.5,65.9 483.5,67.0 490.5,67.6 507.5,68.2 548.5,68.4" fill="none" stroke="#ff0000" stroke-width="1.75" stroke-linejoin="round" stroke-linecap="butt" />
<path d="M312.5,113.7L331.5,113.3 342.5,112.7 351.5,111.5 358.5,109.7 362.5,108.2 365.5,106.8 371.5,103.1 377.5,98.6 387.5,90.2 392.5,86.6 395.5,85.1 397.5,84.3 399.5,83.9 401.5,83.8 403.5,84.0 406.5,84.9 408.5,85.9 411.5,87.8 415.5,91.0 428.5,102.6 432.5,105.7 436.5,108.3 439.5,110.0 443.5,111.8 447.5,113.3 451.5,114.4 457.5,115.5 464.5,116.5 473.5,117.2 483.5,117.8 506.5,118.5 548.5,118.8" fill="none" stroke="#119a2c" stroke-width="1.6" stroke-linejoin="round" stroke-linecap="butt" />
<path d="M312.5,114.2L368.5,114.2 406.5,114.8 414.5,114.6 420.5,114.0 424.5,113.2 427.5,112.4 431.5,111.0 434.5,109.7 437.5,108.1 441.5,105.7 453.5,97.0 457.5,94.4 460.5,92.9 462.5,92.2 464.5,91.8 466.5,91.7 468.5,91.8 470.5,92.3 474.5,94.1 479.5,97.4 489.5,105.3 494.5,108.8 500.5,112.3 506.5,114.7 513.5,116.5 521.5,117.5 531.5,118.1 548.5,118.5" fill="none" stroke="#0000ff" stroke-width="1.6" stroke-linejoin="round" stroke-linecap="butt" />
<path d="M312.5,114.3L353.5,114.4 374.5,114.6 389.5,115.1 420.5,116.5 451.5,117.3 486.5,118.6 507.5,118.9 548.5,119.0" fill="none" stroke="#000000" stroke-width="1.8" stroke-linejoin="round" stroke-linecap="butt" />
<path d="M312.5,113.7L316.5,113.7 322.5,113.0 329.5,112.7 335.5,113.2 337.5,112.9 340.4,111.9 342.4,111.6 349.6,112.3 355.9,111.9 358.0,111.3 359.0,110.8 362.3,107.5 366.3,105.5 371.1,102.2 380.1,95.1 385.5,91.4 386.5,90.5 389.8,86.5 390.8,85.7 393.1,84.7 397.6,83.8 401.5,82.5 403.6,82.2 405.8,82.4 407.9,83.3 409.7,84.9 412.8,88.8 414.8,90.3 416.0,90.7 421.1,92.2 423.5,93.0 425.6,94.1 430.1,97.1 436.5,99.8 437.5,99.9 439.5,99.7 444.3,98.0 449.2,95.8 454.7,94.3 456.6,93.1 459.1,90.4 460.0,89.7 461.0,89.2 462.2,89.1 463.3,89.3 465.5,90.2 474.4,95.5 480.6,97.3 481.8,97.8 483.9,99.3 486.5,102.2 488.5,103.9 490.6,105.2 496.4,107.6 500.2,110.0 502.8,112.0 506.1,115.4 508.0,116.6 509.0,116.9 511.2,117.1 516.6,116.1 519.6,116.0 521.6,116.5 525.5,118.1 528.5,118.6 532.5,118.4 537.5,117.1 539.5,116.9 548.5,117.9" fill="none" stroke="#000000" stroke-width="1.6" stroke-linejoin="round" stroke-linecap="butt" stroke-dasharray="4 5" stroke-dashoffset="5.3"/>
<path d="M312.5,113.6L331.5,113.2 342.5,112.5 351.5,111.3 358.5,109.4 362.5,107.9 365.5,106.4 371.5,102.8 377.5,98.2 388.5,88.9 392.5,86.0 395.5,84.4 397.5,83.6 399.5,83.1 401.5,83.0 403.5,83.1 405.5,83.6 409.5,85.3 413.5,87.8 424.5,95.8 428.5,98.0 432.5,99.5 435.5,100.0 437.5,100.1 439.5,99.9 442.5,99.3 447.5,97.4 455.5,93.4 459.5,91.6 463.5,90.6 465.5,90.4 467.5,90.5 470.5,91.3 474.5,93.2 478.5,95.9 489.5,104.7 494.5,108.3 500.5,111.8 506.5,114.3 513.5,116.1 521.5,117.2 531.5,117.8 548.5,118.3" fill="none" stroke="#ff0000" stroke-width="1.75" stroke-linejoin="round" stroke-linecap="butt" />
<path d="M312.5,156.5L331.5,156.2 342.5,155.6 347.5,155.0 351.5,154.3 355.5,153.2 358.5,152.2 361.5,150.9 364.5,149.3 367.5,147.4 370.5,145.2 375.5,140.9 386.5,130.3 391.5,126.2 394.5,124.4 396.5,123.6 398.5,123.1 400.5,123.0 402.5,123.3 405.5,124.3 407.5,125.5 410.5,127.7 414.5,131.3 426.5,143.7 430.5,147.3 434.5,150.4 437.5,152.3 441.5,154.5 445.5,156.1 449.5,157.3 455.5,158.6 462.5,159.6 471.5,160.4 481.5,160.9 504.5,161.6 548.5,161.8" fill="none" stroke="#119a2c" stroke-width="1.6" stroke-linejoin="round" stroke-linecap="butt" />
<path d="M312.5,156.9L367.5,156.9 404.5,157.7 412.5,157.4 418.5,156.7 422.5,155.8 425.5,154.9 429.5,153.2 432.5,151.7 435.5,149.9 439.5,147.0 450.5,137.9 455.5,134.3 458.5,132.6 460.5,131.9 462.5,131.4 464.5,131.3 466.5,131.5 468.5,132.1 470.5,132.9 472.5,134.0 477.5,137.8 488.5,147.5 493.5,151.5 496.5,153.5 499.5,155.2 502.5,156.7 505.5,157.8 508.5,158.8 512.5,159.7 520.5,160.7 530.5,161.3 548.5,161.6" fill="none" stroke="#0000ff" stroke-width="1.6" stroke-linejoin="round" stroke-linecap="butt" />
<path d="M312.5,157.0L353.5,157.1 373.5,157.3 388.5,157.8 419.5,159.3 449.5,160.2 484.5,161.6 505.5,161.9 548.5,162.0" fill="none" stroke="#000000" stroke-width="1.8" stroke-linejoin="round" stroke-linecap="butt" />
<path d="M312.5,154.6L316.5,154.2 318.5,154.2 320.5,154.8 323.5,156.1 325.5,156.4 331.5,155.0 334.4,154.7 340.4,154.8 346.6,155.8 348.7,155.7 349.7,155.5 354.4,152.8 358.3,151.4 362.3,149.7 366.8,148.3 369.1,147.2 374.3,143.2 376.1,141.2 380.1,135.4 382.2,133.4 386.5,129.9 390.3,126.2 392.4,124.9 394.6,124.0 399.5,122.6 401.5,122.3 402.5,122.3 404.5,122.9 412.1,126.3 424.1,133.9 428.2,137.8 429.8,139.2 432.6,140.4 435.5,140.9 438.5,140.8 445.8,138.6 447.9,137.7 454.9,133.8 462.4,129.2 464.6,128.5 467.0,128.6 469.2,129.4 471.2,130.7 473.0,132.5 476.3,136.5 478.1,138.4 480.2,140.1 485.1,142.8 486.2,143.7 489.6,147.7 491.5,149.5 494.8,151.4 500.0,153.9 504.2,157.8 506.2,158.9 508.3,159.1 512.6,159.1 516.5,160.2 518.5,160.5 526.5,160.3 528.5,160.3 530.5,160.8 533.5,161.8 535.5,162.1 538.5,161.7 543.5,160.5 548.5,159.5" fill="none" stroke="#000000" stroke-width="1.6" stroke-linejoin="round" stroke-linecap="butt" stroke-dasharray="4 5" stroke-dashoffset="1.8"/>
<path d="M312.5,156.4L331.5,156.1 342.5,155.4 347.5,154.8 351.5,154.0 355.5,153.0 358.5,151.9 361.5,150.6 364.5,149.0 367.5,147.1 370.5,144.9 376.5,139.6 386.5,129.9 391.5,125.7 394.5,123.8 396.5,123.0 398.5,122.5 400.5,122.3 403.5,122.7 405.5,123.4 407.5,124.4 411.5,127.1 420.5,134.6 423.5,136.8 427.5,139.2 431.5,140.7 433.5,141.1 435.5,141.1 437.5,141.0 440.5,140.3 445.5,138.1 453.5,133.5 457.5,131.5 459.5,130.9 461.5,130.4 463.5,130.3 465.5,130.4 467.5,130.9 469.5,131.6 473.5,134.0 477.5,137.1 487.5,146.2 492.5,150.3 495.5,152.5 498.5,154.3 501.5,155.9 504.5,157.1 507.5,158.1 511.5,159.2 519.5,160.4 530.5,161.1 548.5,161.4" fill="none" stroke="#ff0000" stroke-width="1.75" stroke-linejoin="round" stroke-linecap="butt" />
<path d="M312.5,198.1L330.5,197.8 341.5,197.3 350.5,196.1 354.5,195.2 357.5,194.3 361.5,192.8 364.5,191.4 370.5,187.7 375.5,183.9 386.5,174.5 391.5,170.9 394.5,169.3 396.5,168.6 398.5,168.2 400.5,168.1 402.5,168.4 405.5,169.3 407.5,170.3 410.5,172.2 414.5,175.5 427.5,187.3 431.5,190.4 435.5,193.1 438.5,194.8 442.5,196.6 446.5,198.1 450.5,199.2 456.5,200.3 463.5,201.2 472.5,202.0 482.5,202.5 504.5,203.0 548.5,203.2" fill="none" stroke="#119a2c" stroke-width="1.6" stroke-linejoin="round" stroke-linecap="butt" />
<path d="M312.5,198.4L368.5,198.5 406.5,199.3 413.5,199.1 419.5,198.4 423.5,197.6 426.5,196.7 429.5,195.5 432.5,194.0 435.5,192.3 439.5,189.5 450.5,180.4 454.5,177.4 457.5,175.7 459.5,174.8 461.5,174.3 463.5,174.2 465.5,174.3 467.5,174.9 469.5,175.7 471.5,176.9 475.5,179.8 486.5,189.7 491.5,193.6 496.5,196.7 499.5,198.2 502.5,199.4 505.5,200.3 509.5,201.2 517.5,202.3 528.5,202.8 548.5,203.1" fill="none" stroke="#0000ff" stroke-width="1.6" stroke-linejoin="round" stroke-linecap="butt" />
<path d="M312.5,198.5L356.5,198.6 377.5,198.9 418.5,200.7 448.5,201.6 487.5,203.1 506.5,203.3 548.5,203.4" fill="none" stroke="#000000" stroke-width="1.8" stroke-linejoin="round" stroke-linecap="butt" />
<path d="M312.5,196.0L318.5,197.1 320.5,196.9 324.5,196.1 326.5,196.1 328.5,196.4 332.5,197.5 334.5,197.8 336.5,197.8 341.5,197.5 343.5,197.2 349.3,194.8 351.2,194.3 353.2,194.2 357.6,194.4 359.7,194.0 361.7,193.0 364.5,191.0 368.4,188.6 373.4,183.0 375.4,181.4 377.6,180.0 385.1,176.4 390.2,172.8 393.2,171.1 398.7,168.8 400.5,168.3 402.4,168.3 408.8,169.3 411.0,170.3 414.8,173.5 421.2,177.5 427.4,182.8 430.3,184.4 432.4,184.8 439.5,183.4 441.5,182.8 443.4,181.6 449.4,176.1 451.5,174.9 453.9,174.4 458.6,174.0 462.5,172.7 464.6,172.8 467.5,174.0 474.5,178.4 480.5,181.8 482.4,183.7 486.4,189.4 488.2,191.3 493.5,194.6 496.3,196.7 499.4,198.1 502.5,199.0 507.8,199.2 512.7,200.1 517.6,200.8 522.5,202.6 523.5,202.9 527.5,203.1 532.5,204.7 534.5,204.6 539.5,202.7 541.5,202.3 548.5,202.5" fill="none" stroke="#000000" stroke-width="1.6" stroke-linejoin="round" stroke-linecap="butt" stroke-dasharray="4 5" stroke-dashoffset="3.3"/>
<path d="M312.5,198.0L330.5,197.7 341.5,197.1 346.5,196.6 350.5,195.9 354.5,195.0 357.5,194.1 361.5,192.6 364.5,191.1 370.5,187.4 375.5,183.5 386.5,174.1 391.5,170.4 394.5,168.8 396.5,168.1 398.5,167.6 400.5,167.5 403.5,167.9 405.5,168.5 407.5,169.4 411.5,171.8 420.5,178.5 424.5,181.1 427.5,182.6 429.5,183.4 431.5,183.9 433.5,184.2 435.5,184.2 437.5,183.9 441.5,182.8 445.5,180.8 454.5,175.5 458.5,173.8 460.5,173.3 462.5,173.1 465.5,173.4 467.5,174.0 469.5,175.0 473.5,177.6 477.5,181.0 486.5,189.2 492.5,193.9 497.5,196.9 502.5,199.1 505.5,200.0 509.5,201.0 517.5,202.0 528.5,202.6 548.5,202.9" fill="none" stroke="#ff0000" stroke-width="1.75" stroke-linejoin="round" stroke-linecap="butt" />
<path d="M312.5,245.0L328.5,244.8 338.5,244.1 346.5,242.9 350.5,241.8 353.5,240.8 356.5,239.5 359.5,237.9 365.5,234.0 370.5,229.9 381.5,219.9 386.5,216.0 389.5,214.2 391.5,213.4 394.5,212.7 396.5,212.6 398.5,212.8 401.5,213.8 403.5,214.8 406.5,216.8 411.5,221.1 424.5,233.7 428.5,237.1 431.5,239.3 435.5,241.7 439.5,243.7 443.5,245.2 447.5,246.3 453.5,247.6 461.5,248.7 471.5,249.7 482.5,250.3 503.5,250.9 548.5,251.1" fill="none" stroke="#119a2c" stroke-width="1.6" stroke-linejoin="round" stroke-linecap="butt" />
<path d="M312.5,245.3L365.5,245.4 406.5,246.6 414.5,246.3 420.5,245.4 424.5,244.2 427.5,242.9 430.5,241.2 433.5,239.0 436.5,236.4 440.5,232.2 451.5,218.5 455.5,214.1 458.5,211.6 460.5,210.5 462.5,209.8 464.5,209.7 466.5,210.1 468.5,211.0 470.5,212.4 472.5,214.3 476.5,218.9 487.5,233.5 491.5,238.1 494.5,241.0 496.5,242.7 499.5,244.8 502.5,246.4 505.5,247.7 509.5,248.9 513.5,249.6 517.5,250.1 528.5,250.6 548.5,250.9" fill="none" stroke="#0000ff" stroke-width="1.6" stroke-linejoin="round" stroke-linecap="butt" />
<path d="M312.5,245.4L354.5,245.5 375.5,245.9 414.5,247.7 448.5,248.8 476.5,250.4 489.5,250.9 507.5,251.1 548.5,251.2" fill="none" stroke="#000000" stroke-width="1.8" stroke-linejoin="round" stroke-linecap="butt" />
<path d="M312.5,246.0L314.5,245.7 317.5,244.9 319.5,244.6 332.5,244.9 336.6,245.2 338.6,244.8 342.5,243.2 345.5,242.9 347.5,242.4 353.1,239.5 356.6,237.0 358.5,235.9 366.4,232.8 368.6,231.5 372.5,227.8 375.7,225.2 377.6,223.3 378.4,222.1 381.1,217.1 383.0,215.1 385.4,214.0 393.3,211.5 394.4,211.4 396.5,211.6 403.4,214.3 405.3,215.6 409.1,218.9 411.4,220.1 415.3,221.7 417.5,223.1 422.9,228.2 424.7,229.6 426.6,230.4 428.6,230.6 433.3,230.2 438.7,229.5 441.2,228.7 442.4,228.0 443.4,227.1 444.3,226.0 446.5,222.2 448.4,219.9 449.5,218.9 454.7,216.0 455.8,215.1 458.8,211.0 459.6,210.2 461.5,209.2 463.5,209.0 465.5,209.3 467.4,210.1 469.2,211.6 472.0,214.3 476.8,218.2 479.1,220.6 482.4,224.6 486.0,228.2 488.2,230.7 491.2,236.1 492.8,238.5 494.8,240.4 497.8,242.7 500.4,245.3 502.3,246.6 504.4,247.2 508.6,247.9 513.4,250.4 515.4,250.7 521.5,249.9 527.5,250.1 532.5,249.3 534.5,249.4 539.5,250.4 541.5,250.4 543.5,249.8 547.5,248.1 548.5,247.9" fill="none" stroke="#000000" stroke-width="1.6" stroke-linejoin="round" stroke-linecap="butt" stroke-dasharray="4 5" stroke-dashoffset="4.6"/>
<path d="M312.5,245.0L328.5,244.6 338.5,244.0 346.5,242.7 350.5,241.7 353.5,240.6 356.5,239.3 359.5,237.8 365.5,233.8 370.5,229.7 381.5,219.6 386.5,215.6 390.5,213.4 392.5,212.7 394.5,212.2 396.5,212.1 399.5,212.6 401.5,213.2 404.5,214.8 408.5,217.6 419.5,226.7 422.5,228.8 424.5,229.9 427.5,231.0 429.5,231.4 431.5,231.5 433.5,231.3 435.5,230.7 437.5,229.8 441.5,227.0 445.5,223.2 453.5,214.7 457.5,211.3 460.5,209.6 462.5,209.1 463.5,209.0 465.5,209.2 467.5,209.9 469.5,211.2 471.5,212.8 475.5,217.2 486.5,232.0 491.5,237.8 494.5,240.8 496.5,242.4 499.5,244.5 502.5,246.2 505.5,247.5 509.5,248.7 513.5,249.4 517.5,249.9 528.5,250.5 548.5,250.8" fill="none" stroke="#ff0000" stroke-width="1.75" stroke-linejoin="round" stroke-linecap="butt" />
<path d="M312.5,291.1L323.5,290.9 332.5,290.3 339.5,289.3 346.5,287.7 351.5,285.9 357.5,283.2 362.5,280.5 374.5,273.3 380.5,270.3 383.5,269.2 386.5,268.4 389.5,268.0 391.5,267.9 394.5,268.2 397.5,268.8 400.5,269.8 403.5,271.2 409.5,274.6 423.5,283.6 427.5,285.9 431.5,287.8 435.5,289.5 439.5,290.8 447.5,292.8 453.5,293.7 461.5,294.6 481.5,295.9 504.5,296.5 548.5,297.0" fill="none" stroke="#119a2c" stroke-width="1.6" stroke-linejoin="round" stroke-linecap="butt" />
<path d="M312.5,291.3L355.5,291.7 396.5,292.5 406.5,292.2 410.5,291.7 414.5,291.0 418.5,289.8 421.5,288.7 425.5,286.6 428.5,284.7 431.5,282.5 435.5,279.0 448.5,265.7 453.5,261.3 456.5,259.2 458.5,258.2 461.5,257.3 463.5,257.1 465.5,257.2 468.5,258.1 470.5,259.1 473.5,261.2 478.5,265.8 489.5,277.9 494.5,282.9 497.5,285.6 500.5,287.9 503.5,289.8 506.5,291.4 509.5,292.7 513.5,294.1 517.5,295.0 521.5,295.6 531.5,296.4 548.5,296.9" fill="none" stroke="#0000ff" stroke-width="1.6" stroke-linejoin="round" stroke-linecap="butt" />
<path d="M312.5,291.3L350.5,291.7 373.5,292.2 443.5,294.3 478.5,295.8 493.5,296.3 548.5,297.0" fill="none" stroke="#000000" stroke-width="1.8" stroke-linejoin="round" stroke-linecap="butt" />
<path d="M312.5,291.8L317.5,292.1 322.5,291.0 327.5,290.9 336.5,289.8 341.7,289.7 343.7,289.2 348.4,286.6 349.4,286.3 353.8,285.6 355.8,284.8 361.8,281.4 369.4,276.1 377.5,271.6 379.6,270.8 382.8,270.2 386.7,269.2 392.4,269.2 397.5,268.4 399.6,268.5 401.7,269.2 406.5,271.7 413.7,274.4 423.5,277.0 425.5,277.3 427.4,277.1 429.3,276.3 432.7,273.8 437.7,271.4 439.8,270.1 442.7,267.6 447.5,263.0 449.6,261.5 456.0,257.5 458.2,256.8 459.3,256.7 463.5,257.2 467.6,257.2 469.8,257.9 471.8,259.1 483.9,268.7 485.9,271.0 489.4,275.9 496.7,282.5 502.5,289.2 504.3,290.7 505.3,291.2 507.5,291.9 511.8,292.6 515.7,293.8 520.4,295.8 525.4,296.9 529.5,297.2 535.5,296.3 537.5,296.6 543.5,298.6 545.5,298.6 548.5,298.0" fill="none" stroke="#000000" stroke-width="1.6" stroke-linejoin="round" stroke-linecap="butt" stroke-dasharray="4 5" stroke-dashoffset="5.9"/>
<path d="M312.5,291.1L323.5,290.9 332.5,290.3 339.5,289.3 346.5,287.6 351.5,285.9 357.5,283.1 363.5,279.8 374.5,273.2 379.5,270.6 384.5,268.7 388.5,267.8 390.5,267.7 393.5,267.7 396.5,268.2 399.5,268.9 404.5,270.8 414.5,275.4 419.5,277.0 422.5,277.6 424.5,277.7 428.5,277.3 432.5,276.0 434.5,275.0 437.5,273.2 441.5,270.2 450.5,262.6 455.5,259.1 457.5,258.0 459.5,257.3 461.5,256.8 463.5,256.7 465.5,256.9 468.5,257.9 470.5,258.9 473.5,261.0 478.5,265.7 489.5,277.8 494.5,282.9 497.5,285.5 500.5,287.8 503.5,289.8 506.5,291.4 509.5,292.7 513.5,294.0 517.5,295.0 521.5,295.6 531.5,296.4 548.5,296.8" fill="none" stroke="#ff0000" stroke-width="1.75" stroke-linejoin="round" stroke-linecap="butt" />
<path d="M312.5,343.6L329.5,343.5 339.5,343.2 348.5,342.4 355.5,341.1 362.5,338.9 368.5,336.2 374.5,332.9 385.5,326.1 390.5,323.6 393.5,322.4 395.5,321.9 398.5,321.5 400.5,321.5 402.5,321.7 405.5,322.4 410.5,324.4 415.5,327.3 428.5,335.8 432.5,338.1 436.5,340.0 443.5,342.7 451.5,344.6 457.5,345.5 463.5,346.1 481.5,347.2 505.5,348.0 548.5,348.7" fill="none" stroke="#119a2c" stroke-width="1.6" stroke-linejoin="round" stroke-linecap="butt" />
<path d="M312.5,343.7L398.5,344.4 405.5,344.2 410.5,343.8 415.5,343.2 419.5,342.3 423.5,340.9 426.5,339.6 430.5,337.2 433.5,335.0 437.5,331.4 441.5,327.1 453.5,312.2 457.5,307.8 460.5,305.2 462.5,303.9 465.5,302.7 467.5,302.5 469.5,302.8 471.5,303.5 473.5,304.7 476.5,307.2 481.5,312.8 491.5,325.9 496.5,331.8 499.5,334.9 502.5,337.5 505.5,339.8 508.5,341.7 511.5,343.2 515.5,344.7 519.5,345.8 523.5,346.5 533.5,347.5 548.5,348.2" fill="none" stroke="#0000ff" stroke-width="1.6" stroke-linejoin="round" stroke-linecap="butt" />
<path d="M312.5,343.9L380.5,344.9 446.5,346.5 493.5,348.0 548.5,348.8" fill="none" stroke="#000000" stroke-width="1.8" stroke-linejoin="round" stroke-linecap="butt" />
<path d="M312.5,343.7L321.5,342.7 325.5,343.2 330.5,343.0 334.5,343.4 336.5,343.5 341.5,342.6 347.5,342.0 349.4,341.2 352.1,339.6 354.0,338.9 356.0,338.7 360.2,338.5 363.5,338.0 371.0,335.7 377.3,332.4 379.1,330.8 382.8,325.6 384.7,324.2 387.0,323.5 392.0,323.6 394.1,323.4 395.9,322.5 398.5,320.9 400.5,320.3 403.5,320.4 406.6,321.0 408.6,321.8 412.3,324.0 414.2,325.0 419.7,326.0 424.5,327.7 427.5,328.0 429.5,327.9 431.4,327.5 433.3,326.7 437.9,324.1 442.5,321.9 444.8,320.4 452.6,313.6 454.4,311.4 456.8,307.7 458.6,305.7 462.4,302.7 464.4,301.8 465.4,301.7 466.5,301.7 468.5,302.2 471.4,303.2 473.5,304.2 477.5,307.7 482.4,311.7 483.5,312.9 485.5,315.5 489.6,322.9 493.3,328.2 495.3,330.6 499.4,334.7 501.5,336.5 503.6,337.9 511.0,341.5 514.8,343.2 519.4,346.2 521.3,346.8 526.5,346.7 531.5,347.3 539.6,346.1 542.6,345.1 544.6,344.8 548.6,345.3" fill="none" stroke="#000000" stroke-width="1.6" stroke-linejoin="round" stroke-linecap="butt" stroke-dasharray="4 5" stroke-dashoffset="8.1"/>
<path d="M312.5,343.4L329.5,343.3 340.5,342.9 349.5,341.9 356.5,340.5 362.5,338.5 368.5,335.8 374.5,332.4 385.5,325.5 389.5,323.4 393.5,321.7 397.5,320.7 401.5,320.5 403.5,320.7 406.5,321.3 410.5,322.7 419.5,326.4 424.5,327.9 428.5,328.3 430.5,328.1 432.5,327.7 434.5,327.1 436.5,326.2 438.5,325.0 441.5,322.8 446.5,318.1 455.5,308.4 459.5,304.9 461.5,303.5 463.5,302.5 465.5,302.0 467.5,301.8 469.5,302.2 471.5,303.0 473.5,304.2 476.5,306.7 481.5,312.4 491.5,325.6 496.5,331.5 499.5,334.6 502.5,337.3 505.5,339.6 508.5,341.4 511.5,342.9 515.5,344.5 519.5,345.6 523.5,346.3 533.5,347.4 548.5,348.0" fill="none" stroke="#ff0000" stroke-width="1.75" stroke-linejoin="round" stroke-linecap="butt" />
<line x1="548.80" y1="0.60" x2="548.80" y2="354.80" stroke="#888" stroke-width="1.3"/>
<line x1="312.50" y1="0.60" x2="312.50" y2="354.80" stroke="#c8c8c8" stroke-width="1.0"/>
<line x1="312.50" y1="0.60" x2="312.50" y2="6.60" stroke="#000000" stroke-width="1.2"/>
<line x1="312.50" y1="354.80" x2="312.50" y2="348.80" stroke="#000000" stroke-width="1.2"/>
<line x1="330.65" y1="0.60" x2="330.65" y2="4.00" stroke="#000000" stroke-width="1.2"/>
<line x1="330.65" y1="354.80" x2="330.65" y2="351.40" stroke="#000000" stroke-width="1.2"/>
<line x1="348.80" y1="0.60" x2="348.80" y2="6.60" stroke="#000000" stroke-width="1.2"/>
<line x1="348.80" y1="354.80" x2="348.80" y2="348.80" stroke="#000000" stroke-width="1.2"/>
<line x1="366.95" y1="0.60" x2="366.95" y2="4.00" stroke="#000000" stroke-width="1.2"/>
<line x1="366.95" y1="354.80" x2="366.95" y2="351.40" stroke="#000000" stroke-width="1.2"/>
<line x1="385.10" y1="0.60" x2="385.10" y2="6.60" stroke="#000000" stroke-width="1.2"/>
<line x1="385.10" y1="354.80" x2="385.10" y2="348.80" stroke="#000000" stroke-width="1.2"/>
<line x1="403.25" y1="0.60" x2="403.25" y2="4.00" stroke="#000000" stroke-width="1.2"/>
<line x1="403.25" y1="354.80" x2="403.25" y2="351.40" stroke="#000000" stroke-width="1.2"/>
<line x1="421.40" y1="0.60" x2="421.40" y2="6.60" stroke="#000000" stroke-width="1.2"/>
<line x1="421.40" y1="354.80" x2="421.40" y2="348.80" stroke="#000000" stroke-width="1.2"/>
<line x1="439.55" y1="0.60" x2="439.55" y2="4.00" stroke="#000000" stroke-width="1.2"/>
<line x1="439.55" y1="354.80" x2="439.55" y2="351.40" stroke="#000000" stroke-width="1.2"/>
<line x1="457.70" y1="0.60" x2="457.70" y2="6.60" stroke="#000000" stroke-width="1.2"/>
<line x1="457.70" y1="354.80" x2="457.70" y2="348.80" stroke="#000000" stroke-width="1.2"/>
<line x1="475.85" y1="0.60" x2="475.85" y2="4.00" stroke="#000000" stroke-width="1.2"/>
<line x1="475.85" y1="354.80" x2="475.85" y2="351.40" stroke="#000000" stroke-width="1.2"/>
<line x1="494.00" y1="0.60" x2="494.00" y2="6.60" stroke="#000000" stroke-width="1.2"/>
<line x1="494.00" y1="354.80" x2="494.00" y2="348.80" stroke="#000000" stroke-width="1.2"/>
<line x1="512.15" y1="0.60" x2="512.15" y2="4.00" stroke="#000000" stroke-width="1.2"/>
<line x1="512.15" y1="354.80" x2="512.15" y2="351.40" stroke="#000000" stroke-width="1.2"/>
<line x1="530.30" y1="0.60" x2="530.30" y2="6.60" stroke="#000000" stroke-width="1.2"/>
<line x1="530.30" y1="354.80" x2="530.30" y2="348.80" stroke="#000000" stroke-width="1.2"/>
<line x1="311.85" y1="0.60" x2="549.45" y2="0.60" stroke="#000000" stroke-width="1.3"/>
<line x1="311.85" y1="354.80" x2="549.45" y2="354.80" stroke="#000000" stroke-width="1.3"/>
<text x="299.1" y="376.0" font-size="15.8" font-weight="normal" textLength="26.7" lengthAdjust="spacingAndGlyphs" >108</text>
<text x="335.4" y="376.0" font-size="15.8" font-weight="normal" textLength="26.7" lengthAdjust="spacingAndGlyphs" >106</text>
<text x="371.8" y="376.0" font-size="15.8" font-weight="normal" textLength="26.7" lengthAdjust="spacingAndGlyphs" >104</text>
<text x="408.0" y="376.0" font-size="15.8" font-weight="normal" textLength="26.7" lengthAdjust="spacingAndGlyphs" >102</text>
<text x="444.3" y="376.0" font-size="15.8" font-weight="normal" textLength="26.7" lengthAdjust="spacingAndGlyphs" >100</text>
<text x="484.9" y="376.0" font-size="15.8" font-weight="normal" textLength="18.2" lengthAdjust="spacingAndGlyphs" >98</text>
<text x="521.2" y="376.0" font-size="15.8" font-weight="normal" textLength="18.2" lengthAdjust="spacingAndGlyphs" >96</text>
<text x="352.1" y="394.3" font-size="15.4" font-weight="bold" textLength="156.8" lengthAdjust="spacingAndGlyphs" >Binding Energy (eV)</text>
<text x="0" y="0" font-size="16.2" font-weight="bold" textLength="203.6" lengthAdjust="spacingAndGlyphs" transform="translate(306.0 279.5) rotate(-90)">Relative Intensity (counts)</text>
<text x="318.4" y="22.0" font-size="16.0" font-weight="bold" textLength="20.8" lengthAdjust="spacingAndGlyphs" >(b)</text>
<text x="381.7" y="21.0" font-size="15.2" font-weight="bold" textLength="27.0" lengthAdjust="spacingAndGlyphs" >Si<tspan font-size="8.5" dy="-5.1">4+</tspan></text>
<text x="447.0" y="49.9" font-size="15.2" font-weight="bold" textLength="21.6" lengthAdjust="spacingAndGlyphs" >Si<tspan font-size="8.5" dy="-4.6">0</tspan></text>
<text x="489.4" y="42.4" font-size="15.6" font-weight="bold" textLength="57.2" lengthAdjust="spacingAndGlyphs" >BM-SiO</text>
<text x="489.4" y="61.0" font-size="15.6" font-weight="bold" textLength="52.2" lengthAdjust="spacingAndGlyphs" >-SiO<tspan font-size="9.5">0.97</tspan></text>
<text x="493.5" y="88.5" font-size="15.6" font-weight="bold" textLength="52.9" lengthAdjust="spacingAndGlyphs" >Si(16h)</text>
<text x="493.8" y="107.3" font-size="15.6" font-weight="bold" textLength="51.8" lengthAdjust="spacingAndGlyphs" >-SiO<tspan font-size="9.5">0.37</tspan></text>
<text x="492.7" y="134.2" font-size="15.6" font-weight="bold" textLength="53.7" lengthAdjust="spacingAndGlyphs" >Si(12h)</text>
<text x="493.2" y="153.0" font-size="15.6" font-weight="bold" textLength="52.4" lengthAdjust="spacingAndGlyphs" >-SiO<tspan font-size="9.5">0.37</tspan></text>
<text x="493.8" y="175.2" font-size="15.6" font-weight="bold" textLength="45.5" lengthAdjust="spacingAndGlyphs" >Si(8h)</text>
<text x="493.8" y="193.0" font-size="15.6" font-weight="bold" textLength="52.1" lengthAdjust="spacingAndGlyphs" >-SiO<tspan font-size="9.5">0.37</tspan></text>
<text x="494.9" y="221.9" font-size="15.6" font-weight="bold" textLength="45.6" lengthAdjust="spacingAndGlyphs" >Si(4h)</text>
<text x="495.4" y="240.5" font-size="15.6" font-weight="bold" textLength="51.0" lengthAdjust="spacingAndGlyphs" >-SiO<tspan font-size="9.5">0.21</tspan></text>
<text x="488.7" y="267.8" font-size="15.6" font-weight="bold" textLength="58.5" lengthAdjust="spacingAndGlyphs" >Si(0.5h)</text>
<text x="489.5" y="286.3" font-size="15.6" font-weight="bold" textLength="51.8" lengthAdjust="spacingAndGlyphs" >-SiO<tspan font-size="9.5">0.12</tspan></text>
<text x="494.9" y="316.4" font-size="15.6" font-weight="bold" textLength="45.1" lengthAdjust="spacingAndGlyphs" >Si(0h)</text>
<text x="494.9" y="334.9" font-size="15.6" font-weight="bold" textLength="52.3" lengthAdjust="spacingAndGlyphs" >-SiO<tspan font-size="9.5">0.08</tspan></text>
<path d="M18.3,493.0L28.3,492.8 36.3,492.3 44.3,491.3 51.3,489.9 57.3,488.3 64.3,485.9 71.3,483.0 85.3,476.8 92.3,474.1 96.3,472.9 100.3,472.1 104.3,471.7 108.3,471.6 111.3,471.9 115.3,472.6 118.3,473.3 122.3,474.7 129.3,477.7 146.3,486.3 155.3,490.3 164.3,493.5 169.3,494.9 174.3,496.0 185.3,497.6 198.3,498.7 216.3,499.5 254.3,500.8" fill="none" stroke="#119a2c" stroke-width="1.6" stroke-linejoin="round" stroke-linecap="butt" />
<path d="M18.3,493.3L84.3,495.4 101.3,495.8 108.3,495.7 114.3,495.4 119.3,494.9 124.3,494.1 128.3,493.0 132.3,491.6 136.3,489.7 140.3,487.4 144.3,484.6 148.3,481.3 163.3,467.1 169.3,462.1 172.3,460.2 175.3,458.8 178.3,458.0 181.3,457.7 184.3,458.1 187.3,459.0 190.3,460.6 193.3,462.6 196.3,465.0 199.3,467.8 211.3,480.1 216.3,484.9 222.3,489.7 227.3,493.0 233.3,495.9 239.3,497.9 246.3,499.4 254.3,500.3" fill="none" stroke="#0000ff" stroke-width="1.6" stroke-linejoin="round" stroke-linecap="butt" />
<path d="M18.3,493.3L254.3,500.8" fill="none" stroke="#000000" stroke-width="1.8" stroke-linejoin="round" stroke-linecap="butt" />
<path d="M18.3,492.6L22.3,493.2 26.3,493.2 30.3,493.4 37.3,492.4 42.2,490.8 47.1,489.9 49.2,489.7 52.3,489.8 54.4,489.5 58.3,488.0 63.4,486.6 65.4,485.8 67.2,484.6 69.7,482.0 71.4,480.6 73.4,479.7 79.0,478.8 80.0,478.3 83.5,475.4 84.5,474.9 86.7,474.4 90.1,474.3 92.3,474.1 97.3,472.6 103.3,471.9 111.4,469.8 113.4,469.9 117.3,471.7 119.3,472.3 125.3,473.0 131.2,474.5 133.3,474.7 136.3,474.5 140.5,474.7 142.6,474.5 145.7,473.4 149.6,471.4 156.2,466.7 160.8,462.9 166.2,460.4 170.9,457.1 172.0,456.7 174.1,456.3 184.6,456.1 186.9,456.4 188.0,456.8 190.0,458.1 191.6,460.2 194.2,465.0 196.0,467.0 200.3,470.6 205.4,475.7 207.6,477.6 211.2,480.2 216.0,483.1 218.1,484.8 220.0,486.6 223.3,490.4 225.2,492.0 227.2,493.1 233.4,495.5 239.1,498.7 241.0,499.6 243.1,499.7 244.2,499.5 247.5,498.1 249.6,497.6 250.6,497.8 254.4,499.1" fill="none" stroke="#000000" stroke-width="1.6" stroke-linejoin="round" stroke-linecap="butt" stroke-dasharray="4 5" stroke-dashoffset="7.5"/>
<path d="M18.3,493.0L28.3,492.8 37.3,492.2 45.3,491.2 53.3,489.4 59.3,487.7 65.3,485.5 84.3,477.2 90.3,474.8 96.3,472.9 101.3,471.8 106.3,471.3 112.3,471.3 117.3,471.8 128.3,473.4 133.3,473.9 138.3,473.7 142.3,473.1 146.3,471.9 151.3,469.7 156.3,466.8 165.3,461.1 170.3,458.4 173.3,457.2 175.3,456.7 179.3,456.2 182.3,456.5 185.3,457.3 188.3,458.7 192.3,461.3 195.3,463.8 198.3,466.6 210.3,479.0 215.3,483.9 221.3,489.0 226.3,492.4 232.3,495.4 238.3,497.6 245.3,499.2 254.3,500.3" fill="none" stroke="#ff0000" stroke-width="1.75" stroke-linejoin="round" stroke-linecap="butt" />
<path d="M18.3,558.1L28.3,557.8 36.3,557.0 44.3,555.6 51.3,553.7 57.3,551.4 64.3,548.0 70.3,544.6 85.3,535.3 92.3,531.7 96.3,530.2 100.3,529.1 104.3,528.5 107.3,528.5 110.3,528.8 114.3,529.7 117.3,530.8 121.3,532.6 128.3,536.6 145.3,548.3 153.3,553.2 158.3,555.7 162.3,557.5 167.3,559.3 172.3,560.8 177.3,561.9 183.3,563.0 196.3,564.4 214.3,565.3 254.3,566.8" fill="none" stroke="#119a2c" stroke-width="1.6" stroke-linejoin="round" stroke-linecap="butt" />
<path d="M18.3,558.5L84.3,560.8 101.3,561.2 108.3,561.1 114.3,560.8 119.3,560.2 124.3,559.0 128.3,557.7 132.3,555.8 136.3,553.4 139.3,551.2 143.3,547.6 148.3,542.4 162.3,525.1 165.3,521.6 168.3,518.6 171.3,516.1 174.3,514.3 177.3,513.2 180.3,512.8 183.3,513.3 186.3,514.6 189.3,516.7 192.3,519.4 195.3,522.6 198.3,526.2 209.3,540.8 214.3,546.9 220.3,553.1 225.3,557.2 228.3,559.2 231.3,560.8 237.3,563.3 241.3,564.4 245.3,565.3 254.3,566.4" fill="none" stroke="#0000ff" stroke-width="1.6" stroke-linejoin="round" stroke-linecap="butt" />
<path d="M18.3,558.5L254.3,566.8" fill="none" stroke="#000000" stroke-width="1.8" stroke-linejoin="round" stroke-linecap="butt" />
<path d="M18.3,559.6L23.3,558.6 28.3,558.6 32.3,557.5 33.3,557.4 36.4,557.7 38.4,557.7 40.4,557.0 44.2,555.0 49.2,553.9 50.1,553.4 52.7,551.5 54.6,550.5 57.7,549.6 62.1,548.7 64.3,548.0 67.3,546.4 71.9,542.7 77.3,540.2 81.1,537.5 87.2,533.9 89.3,533.0 93.8,532.3 94.8,532.0 95.7,531.5 98.9,527.7 99.9,527.1 100.9,526.8 106.3,527.1 111.4,527.0 114.5,527.4 117.5,528.3 122.3,530.4 126.3,531.6 129.2,532.9 131.2,533.4 133.3,533.1 136.3,531.9 138.2,531.4 143.3,531.8 146.6,531.1 149.9,530.0 152.1,528.8 153.8,527.0 156.0,523.6 157.6,521.5 160.4,518.8 163.5,516.4 165.8,515.2 167.1,514.8 171.9,514.0 172.8,513.5 175.3,511.5 176.3,510.9 177.3,510.6 179.4,510.3 182.6,510.8 183.7,511.1 185.7,512.2 191.8,517.3 199.6,524.9 201.7,527.5 202.5,529.0 204.7,535.8 206.2,538.9 208.4,541.4 212.3,544.5 214.6,546.6 216.3,549.0 218.6,552.9 220.4,555.0 221.5,555.8 229.5,559.4 235.7,561.6 239.3,563.7 241.3,564.6 243.3,564.9 249.5,564.0 254.5,564.0" fill="none" stroke="#000000" stroke-width="1.6" stroke-linejoin="round" stroke-linecap="butt" stroke-dasharray="4 5" stroke-dashoffset="1.9"/>
<path d="M18.3,558.1L28.3,557.8 37.3,556.9 45.3,555.4 52.3,553.4 58.3,551.0 65.3,547.5 71.3,544.0 84.3,535.9 90.3,532.6 96.3,530.1 101.3,528.7 106.3,528.1 109.3,528.1 112.3,528.4 117.3,529.3 128.3,532.0 133.3,532.8 138.3,532.8 142.3,532.0 146.3,530.5 151.3,527.7 155.3,524.7 165.3,516.6 169.3,513.8 172.3,512.3 174.3,511.6 176.3,511.1 178.3,511.0 181.3,511.4 184.3,512.5 187.3,514.3 191.3,517.8 194.3,521.0 197.3,524.6 209.3,540.7 214.3,546.8 217.3,550.1 220.3,553.1 225.3,557.2 228.3,559.2 231.3,560.8 237.3,563.3 241.3,564.4 245.3,565.3 254.3,566.4" fill="none" stroke="#ff0000" stroke-width="1.75" stroke-linejoin="round" stroke-linecap="butt" />
<path d="M18.3,628.0L30.3,627.6 39.3,626.8 47.3,625.3 54.3,623.1 60.3,620.5 67.3,616.6 73.3,612.5 86.3,603.0 92.3,599.2 96.3,597.3 99.3,596.3 103.3,595.5 106.3,595.5 109.3,595.8 112.3,596.6 115.3,597.8 118.3,599.3 121.3,601.2 125.3,604.0 141.3,616.8 149.3,622.4 153.3,624.8 158.3,627.2 163.3,629.2 168.3,630.8 174.3,632.2 181.3,633.4 189.3,634.4 198.3,635.1 219.3,636.0 254.3,636.4" fill="none" stroke="#119a2c" stroke-width="1.6" stroke-linejoin="round" stroke-linecap="butt" />
<path d="M18.3,628.2L62.3,628.6 104.3,629.6 109.3,629.5 114.3,629.1 118.3,628.6 122.3,627.7 126.3,626.4 130.3,624.6 134.3,622.3 137.3,620.1 141.3,616.7 145.3,612.8 150.3,607.2 160.3,595.3 163.3,592.1 166.3,589.2 169.3,586.9 172.3,585.1 175.3,584.0 178.3,583.7 181.3,584.1 184.3,585.3 187.3,587.2 190.3,589.8 193.3,592.8 196.3,596.3 208.3,611.6 213.3,617.5 219.3,623.5 224.3,627.4 227.3,629.3 230.3,630.9 233.3,632.2 237.3,633.5 241.3,634.5 245.3,635.2 254.3,636.0" fill="none" stroke="#0000ff" stroke-width="1.6" stroke-linejoin="round" stroke-linecap="butt" />
<path d="M18.3,628.2L58.3,628.5 82.3,629.1 154.3,632.4 192.3,634.9 205.3,635.6 224.3,636.1 254.3,636.4" fill="none" stroke="#000000" stroke-width="1.8" stroke-linejoin="round" stroke-linecap="butt" />
<path d="M18.3,626.4L20.3,626.3 22.3,626.5 27.3,628.3 29.4,628.6 31.3,628.2 34.3,627.1 35.3,626.9 39.3,627.0 40.3,626.8 42.3,626.1 45.9,623.9 47.8,623.1 48.8,623.0 53.2,623.2 55.3,622.7 58.2,621.2 63.2,618.8 65.0,617.3 67.4,614.5 69.2,613.0 72.4,611.2 77.0,609.1 81.4,606.6 89.5,601.2 92.8,597.7 93.8,597.0 94.8,596.5 95.9,596.2 104.4,595.7 106.3,595.2 110.5,593.8 113.8,593.5 115.9,594.0 120.6,597.1 124.3,599.3 126.2,600.3 127.2,600.7 132.4,601.1 136.3,601.9 138.3,602.1 140.3,601.7 147.3,599.8 149.5,599.0 151.6,597.8 158.1,592.0 163.5,588.7 165.3,587.0 167.6,583.8 168.5,583.0 169.6,582.6 174.2,582.3 177.3,581.6 178.4,581.5 180.6,581.9 183.7,583.4 185.6,585.0 187.9,588.2 189.7,590.1 195.2,593.0 196.5,594.0 197.6,595.1 199.3,597.8 202.2,603.9 204.0,606.7 207.4,610.3 213.7,615.2 215.6,617.3 216.4,618.6 218.5,624.4 219.3,625.6 220.2,626.6 222.6,627.7 226.2,628.8 231.4,631.2 234.5,632.1 237.6,632.4 240.8,631.9 242.8,631.8 244.7,632.2 250.4,634.4 254.4,634.5" fill="none" stroke="#000000" stroke-width="1.6" stroke-linejoin="round" stroke-linecap="butt" stroke-dasharray="4 5" stroke-dashoffset="8.7"/>
<path d="M18.3,628.0L30.3,627.6 40.3,626.6 48.3,625.0 55.3,622.7 61.3,620.0 67.3,616.6 73.3,612.5 85.3,603.6 91.3,599.7 96.3,597.2 101.3,595.5 103.3,595.2 106.3,594.9 109.3,595.0 112.3,595.5 117.3,596.8 128.3,600.7 131.3,601.5 134.3,602.0 137.3,602.2 139.3,602.1 143.3,601.3 147.3,599.7 151.3,597.4 155.3,594.6 163.3,588.4 168.3,585.1 171.3,583.7 173.3,583.1 175.3,582.7 177.3,582.6 180.3,583.1 183.3,584.3 186.3,586.1 190.3,589.5 193.3,592.6 196.3,596.2 208.3,611.6 213.3,617.5 219.3,623.5 224.3,627.4 227.3,629.3 230.3,630.9 233.3,632.2 237.3,633.5 241.3,634.5 245.3,635.2 254.3,636.0" fill="none" stroke="#ff0000" stroke-width="1.75" stroke-linejoin="round" stroke-linecap="butt" />
<path d="M18.3,702.4L32.3,702.4 37.3,702.2 42.3,701.7 47.3,700.8 51.3,699.8 55.3,698.4 58.3,697.0 61.3,695.4 64.3,693.5 67.3,691.3 71.3,687.9 77.3,681.9 88.3,670.0 91.3,667.1 94.3,664.5 97.3,662.4 100.3,660.8 103.3,659.9 106.3,659.7 109.3,660.3 112.3,661.6 115.3,663.5 118.3,666.0 123.3,671.0 138.3,688.1 142.3,692.1 146.3,695.6 149.3,697.9 153.3,700.5 157.3,702.6 161.3,704.2 166.3,705.8 171.3,706.9 177.3,707.8 184.3,708.5 204.3,709.7 254.3,711.8" fill="none" stroke="#119a2c" stroke-width="1.6" stroke-linejoin="round" stroke-linecap="butt" />
<path d="M18.3,702.8L76.3,704.8 100.3,705.3 107.3,705.2 113.3,704.7 118.3,704.0 123.3,702.7 127.3,701.2 131.3,699.1 135.3,696.3 138.3,693.7 142.3,689.5 146.3,684.7 150.3,679.3 160.3,665.0 165.3,658.9 168.3,656.1 171.3,654.1 174.3,653.2 176.3,653.1 178.3,653.5 181.3,655.0 183.3,656.5 186.3,659.5 191.3,665.9 202.3,682.4 207.3,689.4 210.3,693.1 213.3,696.4 216.3,699.2 219.3,701.6 222.3,703.7 226.3,705.8 229.3,707.1 233.3,708.4 237.3,709.3 242.3,710.1 254.3,711.3" fill="none" stroke="#0000ff" stroke-width="1.6" stroke-linejoin="round" stroke-linecap="butt" />
<path d="M18.3,703.0L254.3,712.0" fill="none" stroke="#000000" stroke-width="1.8" stroke-linejoin="round" stroke-linecap="butt" />
<path d="M18.3,703.1L21.3,702.7 25.3,701.2 27.3,700.8 29.3,700.9 33.3,701.5 41.3,701.5 44.2,700.7 49.0,698.8 55.3,698.0 57.3,697.2 61.9,693.8 64.9,691.9 67.2,690.8 73.9,688.2 76.3,686.6 78.2,684.4 83.2,676.8 86.6,669.9 88.3,667.5 90.4,665.6 94.9,662.5 97.7,659.9 99.7,658.7 100.8,658.4 103.1,658.1 108.3,658.9 111.4,659.1 113.6,659.7 115.7,660.6 117.7,661.8 118.7,662.6 122.1,666.4 124.2,667.6 131.9,670.9 135.9,671.7 140.2,673.5 142.2,673.5 144.1,672.8 152.1,667.9 154.1,666.1 156.8,662.9 157.9,662.0 163.7,657.9 167.3,654.3 169.1,652.7 171.2,651.8 173.3,651.4 175.3,651.3 177.4,651.7 179.2,652.9 181.7,655.4 187.3,659.9 195.2,667.0 196.4,668.4 197.4,669.9 198.1,671.6 199.6,677.2 200.9,680.8 202.6,683.9 204.6,686.8 206.8,689.3 211.5,693.6 215.6,697.7 220.8,701.4 225.3,705.1 228.1,706.9 231.2,707.9 243.5,708.8 249.4,710.0 254.3,711.5" fill="none" stroke="#000000" stroke-width="1.6" stroke-linejoin="round" stroke-linecap="butt" stroke-dasharray="4 5" stroke-dashoffset="5.8"/>
<path d="M18.3,702.3L32.3,702.2 37.3,701.9 42.3,701.4 47.3,700.6 51.3,699.5 55.3,698.1 58.3,696.7 61.3,695.1 64.3,693.2 67.3,690.9 71.3,687.5 77.3,681.5 88.3,669.5 93.3,664.7 96.3,662.3 98.3,661.0 100.3,660.0 102.3,659.2 104.3,658.7 107.3,658.6 109.3,658.9 112.3,659.8 114.3,660.8 117.3,662.5 127.3,669.6 131.3,672.1 134.3,673.4 136.3,673.9 138.3,674.2 140.3,674.2 142.3,673.9 144.3,673.3 146.3,672.4 149.3,670.6 154.3,666.4 164.3,656.6 168.3,653.6 170.3,652.5 172.3,651.9 175.3,651.6 177.3,651.9 180.3,653.3 183.3,655.6 186.3,658.7 191.3,665.3 202.3,682.0 207.3,689.0 210.3,692.7 213.3,696.0 216.3,698.9 219.3,701.3 222.3,703.4 226.3,705.5 229.3,706.8 233.3,708.1 237.3,709.1 242.3,709.9 254.3,711.1" fill="none" stroke="#ff0000" stroke-width="1.75" stroke-linejoin="round" stroke-linecap="butt" />
<path d="M18.3,767.9L35.3,767.9 41.3,767.7 46.3,767.2 50.3,766.4 54.3,765.3 58.3,763.7 61.3,762.0 64.3,760.0 67.3,757.5 70.3,754.5 73.3,751.1 78.3,744.4 89.3,728.1 94.3,721.7 97.3,718.8 99.3,717.3 102.3,716.0 104.3,715.7 106.3,716.0 109.3,717.3 112.3,719.6 115.3,722.9 120.3,729.7 129.3,743.7 133.3,749.6 137.3,754.8 140.3,758.2 143.3,761.1 147.3,764.3 151.3,766.8 155.3,768.6 159.3,769.9 164.3,771.0 170.3,771.9 177.3,772.5 200.3,773.6 254.3,775.4" fill="none" stroke="#119a2c" stroke-width="1.6" stroke-linejoin="round" stroke-linecap="butt" />
<path d="M18.3,768.2L80.3,769.9 107.3,770.4 114.3,770.3 119.3,770.0 124.3,769.2 128.3,768.2 132.3,766.6 135.3,764.9 139.3,761.8 142.3,758.9 145.3,755.4 149.3,749.8 160.3,731.9 163.3,727.4 165.3,724.8 168.3,721.6 170.3,720.1 172.3,719.2 174.3,718.9 176.3,719.3 178.3,720.3 180.3,721.8 183.3,725.1 187.3,730.9 197.3,747.9 202.3,755.6 207.3,761.8 210.3,764.8 213.3,767.2 216.3,769.1 219.3,770.6 223.3,772.0 227.3,773.0 232.3,773.8 237.3,774.3 254.3,775.2" fill="none" stroke="#0000ff" stroke-width="1.6" stroke-linejoin="round" stroke-linecap="butt" />
<path d="M18.3,768.3L254.3,775.6" fill="none" stroke="#000000" stroke-width="1.8" stroke-linejoin="round" stroke-linecap="butt" />
<path d="M18.3,767.0L22.3,767.5 25.3,767.3 27.3,767.4 35.3,769.0 37.3,769.1 45.3,767.1 50.0,765.1 56.3,764.3 58.3,763.5 59.3,763.0 64.0,759.4 65.8,757.5 69.0,753.1 75.7,746.5 78.1,744.0 81.2,739.7 85.3,731.5 87.5,728.6 90.1,726.2 97.7,720.7 100.7,717.1 101.5,716.4 102.4,715.9 104.3,715.5 106.2,715.7 110.3,717.3 112.6,718.4 115.1,720.0 117.2,722.2 121.3,727.4 126.8,733.7 128.6,736.4 130.9,740.4 132.6,742.6 133.6,743.4 135.8,744.5 140.4,746.4 142.3,746.7 144.3,746.3 146.2,745.3 149.2,743.0 152.3,740.0 156.5,735.1 160.3,729.4 162.3,726.7 167.1,721.0 169.0,719.2 170.1,718.6 172.2,718.0 175.4,717.9 177.6,718.4 178.7,718.9 179.7,719.8 180.6,720.9 183.8,726.3 188.2,732.1 190.4,735.4 195.1,744.2 198.1,749.2 205.1,759.3 206.2,760.5 208.4,762.4 214.9,766.8 220.6,770.0 222.5,770.8 226.5,771.6 227.5,772.0 231.2,774.2 233.2,774.9 238.2,775.6 240.2,775.6 245.3,773.7 249.4,773.0 253.5,771.4 254.5,771.2" fill="none" stroke="#000000" stroke-width="1.6" stroke-linejoin="round" stroke-linecap="butt" stroke-dasharray="4 5" stroke-dashoffset="6.3"/>
<path d="M18.3,767.7L35.3,767.8 41.3,767.5 46.3,767.0 50.3,766.3 54.3,765.1 58.3,763.5 61.3,761.8 64.3,759.8 67.3,757.2 70.3,754.3 73.3,750.8 78.3,744.1 89.3,727.7 94.3,721.3 97.3,718.3 99.3,716.8 102.3,715.5 104.3,715.2 106.3,715.4 108.3,716.1 110.3,717.2 112.3,718.8 114.3,720.8 117.3,724.2 126.3,736.2 131.3,742.0 134.3,744.6 136.3,745.9 138.3,746.7 140.3,747.1 142.3,747.0 144.3,746.4 146.3,745.4 149.3,743.1 151.3,741.1 154.3,737.6 164.3,724.3 166.3,722.1 168.3,720.3 170.3,719.0 172.3,718.3 174.3,718.1 176.3,718.5 177.3,719.0 179.3,720.3 181.3,722.2 183.3,724.6 187.3,730.4 197.3,747.5 202.3,755.2 207.3,761.5 210.3,764.5 213.3,766.9 216.3,768.8 219.3,770.3 223.3,771.8 227.3,772.8 232.3,773.6 237.3,774.1 254.3,775.0" fill="none" stroke="#ff0000" stroke-width="1.75" stroke-linejoin="round" stroke-linecap="butt" />
<line x1="254.60" y1="433.40" x2="254.60" y2="785.20" stroke="#000000" stroke-width="1.3"/>
<line x1="18.30" y1="433.40" x2="18.30" y2="785.20" stroke="#000000" stroke-width="1.3"/>
<line x1="18.30" y1="433.40" x2="18.30" y2="439.40" stroke="#000000" stroke-width="1.2"/>
<line x1="18.30" y1="785.20" x2="18.30" y2="779.20" stroke="#000000" stroke-width="1.2"/>
<line x1="36.50" y1="433.40" x2="36.50" y2="436.80" stroke="#000000" stroke-width="1.2"/>
<line x1="36.50" y1="785.20" x2="36.50" y2="781.80" stroke="#000000" stroke-width="1.2"/>
<line x1="54.70" y1="433.40" x2="54.70" y2="439.40" stroke="#000000" stroke-width="1.2"/>
<line x1="54.70" y1="785.20" x2="54.70" y2="779.20" stroke="#000000" stroke-width="1.2"/>
<line x1="72.90" y1="433.40" x2="72.90" y2="436.80" stroke="#000000" stroke-width="1.2"/>
<line x1="72.90" y1="785.20" x2="72.90" y2="781.80" stroke="#000000" stroke-width="1.2"/>
<line x1="91.10" y1="433.40" x2="91.10" y2="439.40" stroke="#000000" stroke-width="1.2"/>
<line x1="91.10" y1="785.20" x2="91.10" y2="779.20" stroke="#000000" stroke-width="1.2"/>
<line x1="109.30" y1="433.40" x2="109.30" y2="436.80" stroke="#000000" stroke-width="1.2"/>
<line x1="109.30" y1="785.20" x2="109.30" y2="781.80" stroke="#000000" stroke-width="1.2"/>
<line x1="127.50" y1="433.40" x2="127.50" y2="439.40" stroke="#000000" stroke-width="1.2"/>
<line x1="127.50" y1="785.20" x2="127.50" y2="779.20" stroke="#000000" stroke-width="1.2"/>
<line x1="145.70" y1="433.40" x2="145.70" y2="436.80" stroke="#000000" stroke-width="1.2"/>
<line x1="145.70" y1="785.20" x2="145.70" y2="781.80" stroke="#000000" stroke-width="1.2"/>
<line x1="163.90" y1="433.40" x2="163.90" y2="439.40" stroke="#000000" stroke-width="1.2"/>
<line x1="163.90" y1="785.20" x2="163.90" y2="779.20" stroke="#000000" stroke-width="1.2"/>
<line x1="182.10" y1="433.40" x2="182.10" y2="436.80" stroke="#000000" stroke-width="1.2"/>
<line x1="182.10" y1="785.20" x2="182.10" y2="781.80" stroke="#000000" stroke-width="1.2"/>
<line x1="200.30" y1="433.40" x2="200.30" y2="439.40" stroke="#000000" stroke-width="1.2"/>
<line x1="200.30" y1="785.20" x2="200.30" y2="779.20" stroke="#000000" stroke-width="1.2"/>
<line x1="218.50" y1="433.40" x2="218.50" y2="436.80" stroke="#000000" stroke-width="1.2"/>
<line x1="218.50" y1="785.20" x2="218.50" y2="781.80" stroke="#000000" stroke-width="1.2"/>
<line x1="236.70" y1="433.40" x2="236.70" y2="439.40" stroke="#000000" stroke-width="1.2"/>
<line x1="236.70" y1="785.20" x2="236.70" y2="779.20" stroke="#000000" stroke-width="1.2"/>
<line x1="17.65" y1="433.40" x2="255.25" y2="433.40" stroke="#000000" stroke-width="1.3"/>
<line x1="17.65" y1="785.20" x2="255.25" y2="785.20" stroke="#000000" stroke-width="1.3"/>
<text x="4.7" y="806.8" font-size="15.8" font-weight="normal" textLength="27.2" lengthAdjust="spacingAndGlyphs" >108</text>
<text x="41.1" y="806.8" font-size="15.8" font-weight="normal" textLength="27.2" lengthAdjust="spacingAndGlyphs" >106</text>
<text x="77.5" y="806.8" font-size="15.8" font-weight="normal" textLength="27.2" lengthAdjust="spacingAndGlyphs" >104</text>
<text x="113.9" y="806.8" font-size="15.8" font-weight="normal" textLength="27.2" lengthAdjust="spacingAndGlyphs" >102</text>
<text x="150.3" y="806.8" font-size="15.8" font-weight="normal" textLength="27.2" lengthAdjust="spacingAndGlyphs" >100</text>
<text x="191.2" y="806.8" font-size="15.8" font-weight="normal" textLength="18.2" lengthAdjust="spacingAndGlyphs" >98</text>
<text x="227.6" y="806.8" font-size="15.8" font-weight="normal" textLength="18.2" lengthAdjust="spacingAndGlyphs" >96</text>
<text x="58.4" y="824.4" font-size="15.4" font-weight="bold" textLength="155.7" lengthAdjust="spacingAndGlyphs" >Binding Energy (eV)</text>
<text x="0" y="0" font-size="15.5" font-weight="bold" textLength="135.3" lengthAdjust="spacingAndGlyphs" transform="translate(11.7 676.7) rotate(-90)">Intensity (counts)</text>
<text x="24.2" y="455.6" font-size="16.0" font-weight="bold" textLength="20.0" lengthAdjust="spacingAndGlyphs" >(c)</text>
<text x="104.6" y="461.7" font-size="15.2" font-weight="bold" textLength="26.9" lengthAdjust="spacingAndGlyphs" >Si<tspan font-size="8.5" dy="-5.1">4+</tspan></text>
<text x="177.6" y="450.5" font-size="15.2" font-weight="bold" textLength="21.0" lengthAdjust="spacingAndGlyphs" >Si<tspan font-size="8.5" dy="-4.6">0</tspan></text>
<text x="206.5" y="464.7" font-size="15.6" font-weight="bold" textLength="45.4" lengthAdjust="spacingAndGlyphs" >4800s</text>
<text x="206.8" y="529.8" font-size="15.6" font-weight="bold" textLength="45.1" lengthAdjust="spacingAndGlyphs" >3600s</text>
<text x="206.8" y="599.4" font-size="15.6" font-weight="bold" textLength="45.1" lengthAdjust="spacingAndGlyphs" >2400s</text>
<text x="209.1" y="671.1" font-size="15.6" font-weight="bold" textLength="42.8" lengthAdjust="spacingAndGlyphs" >1200s</text>
<text x="221.4" y="747.9" font-size="15.6" font-weight="bold" textLength="18.2" lengthAdjust="spacingAndGlyphs" >0s</text>
<path d="M312.4,489.0L320.4,488.4 327.4,487.4 334.4,485.6 340.4,483.4 345.4,480.9 351.4,477.3 356.4,473.8 369.4,463.9 375.4,460.0 379.4,458.0 382.4,456.9 386.4,456.1 389.4,456.0 392.4,456.3 395.4,457.0 398.4,458.1 401.4,459.6 404.4,461.5 408.4,464.3 423.4,476.2 431.4,481.9 436.4,484.7 440.4,486.7 445.4,488.6 450.4,490.0 455.4,491.1 460.4,491.9 466.4,492.5 474.4,493.0 492.4,493.7 549.4,495.0" fill="none" stroke="#119a2c" stroke-width="1.6" stroke-linejoin="round" stroke-linecap="butt" />
<path d="M312.4,489.6L365.4,490.8 381.4,491.0 388.4,490.9 393.4,490.5 398.4,490.0 402.4,489.2 406.4,488.1 410.4,486.6 414.4,484.6 418.4,482.2 421.4,480.1 425.4,476.9 438.4,465.5 443.4,461.9 446.4,460.3 448.4,459.5 451.4,458.8 453.4,458.7 455.4,458.8 458.4,459.5 461.4,460.8 464.4,462.6 469.4,466.5 481.4,477.6 487.4,482.6 493.4,486.7 496.4,488.3 500.4,490.0 504.4,491.4 508.4,492.3 512.4,493.1 517.4,493.7 528.4,494.4 549.4,495.0" fill="none" stroke="#0000ff" stroke-width="1.6" stroke-linejoin="round" stroke-linecap="butt" />
<path d="M312.4,489.6L549.4,495.0" fill="none" stroke="#000000" stroke-width="1.8" stroke-linejoin="round" stroke-linecap="butt" />
<path d="M312.3,486.9L315.3,486.8 321.3,487.3 324.3,487.2 328.3,486.7 332.4,486.4 334.5,485.9 336.4,485.0 340.3,483.1 344.9,480.0 347.0,479.1 350.4,478.0 352.6,476.9 361.6,470.3 365.1,466.5 367.0,464.9 369.1,463.5 374.7,461.0 376.5,459.6 379.0,457.0 379.9,456.3 381.9,455.4 385.2,455.1 387.4,455.2 392.4,456.1 396.4,455.8 398.6,455.9 400.6,456.4 401.6,456.9 405.0,459.8 407.0,460.6 409.3,460.6 414.8,460.1 416.7,460.7 418.5,461.7 420.4,462.5 424.4,462.7 428.7,463.3 430.8,462.9 431.8,462.4 433.5,460.9 435.9,458.0 436.8,457.4 437.8,457.1 439.0,457.1 442.6,458.2 443.7,458.3 444.7,458.2 447.5,457.3 449.4,457.2 452.3,457.5 455.1,458.1 457.0,458.7 458.9,459.7 467.4,466.3 471.4,469.9 472.5,470.7 475.2,472.0 479.5,473.5 481.8,475.0 483.7,476.9 488.0,481.8 489.8,483.5 495.4,487.7 498.3,489.5 508.4,492.3 511.3,493.7 513.3,494.2 519.4,493.5 525.4,494.8 531.4,494.2 537.4,495.2 539.4,495.2 544.4,494.5 546.4,494.7 549.4,495.3" fill="none" stroke="#000000" stroke-width="1.6" stroke-linejoin="round" stroke-linecap="butt" stroke-dasharray="4 5" stroke-dashoffset="4.4"/>
<path d="M312.4,489.0L321.4,488.3 328.4,487.2 335.4,485.3 341.4,483.0 346.4,480.4 352.4,476.6 357.4,473.0 368.4,464.6 373.4,461.2 376.4,459.4 379.4,457.9 384.4,456.1 386.4,455.7 389.4,455.4 392.4,455.5 395.4,455.9 400.4,457.1 413.4,461.5 417.4,462.3 421.4,462.7 424.4,462.5 428.4,461.9 432.4,460.8 443.4,457.2 447.4,456.4 450.4,456.3 453.4,456.6 456.4,457.4 459.4,458.7 462.4,460.5 465.4,462.7 468.4,465.2 481.4,477.5 487.4,482.6 493.4,486.6 496.4,488.3 500.4,490.0 504.4,491.4 508.4,492.3 512.4,493.1 517.4,493.7 528.4,494.4 549.4,495.0" fill="none" stroke="#ff0000" stroke-width="1.75" stroke-linejoin="round" stroke-linecap="butt" />
<path d="M312.4,560.3L321.4,559.8 329.4,558.7 336.4,556.9 342.4,554.7 348.4,551.5 354.4,547.5 359.4,543.6 371.4,533.5 377.4,529.2 381.4,527.1 384.4,525.9 387.4,525.3 390.4,525.2 393.4,525.6 396.4,526.5 399.4,527.9 403.4,530.4 409.4,535.1 424.4,548.4 429.4,552.2 433.4,554.9 437.4,557.1 441.4,558.9 445.4,560.4 449.4,561.6 455.4,562.9 461.4,563.8 468.4,564.4 476.4,564.9 498.4,565.4 549.4,565.8" fill="none" stroke="#119a2c" stroke-width="1.6" stroke-linejoin="round" stroke-linecap="butt" />
<path d="M312.4,560.8L347.4,561.0 386.4,561.6 395.4,561.3 399.4,560.8 403.4,560.1 407.4,559.0 411.4,557.5 415.4,555.5 419.4,553.1 422.4,550.9 426.4,547.6 439.4,535.8 444.4,532.2 447.4,530.6 449.4,529.8 452.4,529.2 454.4,529.2 456.4,529.4 459.4,530.3 461.4,531.3 464.4,533.1 469.4,537.2 481.4,548.7 487.4,553.9 493.4,558.0 496.4,559.7 500.4,561.4 504.4,562.7 508.4,563.7 512.4,564.3 517.4,564.9 528.4,565.4 549.4,565.7" fill="none" stroke="#0000ff" stroke-width="1.6" stroke-linejoin="round" stroke-linecap="butt" />
<path d="M312.4,560.8L345.4,561.1 367.4,561.5 480.4,565.2 549.4,565.8" fill="none" stroke="#000000" stroke-width="1.8" stroke-linejoin="round" stroke-linecap="butt" />
<path d="M312.4,559.9L318.4,560.2 322.5,560.1 326.6,560.6 327.6,560.4 328.6,559.9 331.3,557.7 332.2,557.2 333.2,556.9 338.7,557.1 340.9,556.7 343.0,556.0 345.0,554.8 345.8,554.0 350.0,549.7 357.0,544.7 362.5,539.1 363.6,538.4 367.3,536.6 369.5,535.1 371.3,533.2 374.6,529.2 376.4,527.5 378.6,526.5 385.3,524.9 387.4,524.6 393.4,524.3 397.4,525.4 398.5,525.5 402.1,525.1 403.3,525.2 404.4,525.5 405.4,526.1 407.9,528.5 409.8,529.6 422.4,533.6 426.4,534.3 428.5,534.3 429.5,534.0 434.1,531.2 437.0,529.8 440.0,528.6 444.2,527.6 446.3,527.4 447.4,527.5 451.4,528.4 455.4,527.8 457.5,528.1 459.5,529.0 465.7,532.9 467.6,534.7 471.0,539.0 478.3,545.7 481.8,548.1 486.7,550.6 487.7,551.4 490.1,554.3 491.9,555.9 497.7,559.4 502.6,561.3 506.2,564.0 508.1,565.1 510.1,565.8 512.2,565.7 517.5,563.8 519.5,563.5 521.5,563.8 525.4,565.0 527.4,565.1 530.4,564.9 531.4,565.1 535.4,566.9 536.4,567.1 538.4,567.1 542.4,566.2 544.4,566.0 549.4,566.4" fill="none" stroke="#000000" stroke-width="1.6" stroke-linejoin="round" stroke-linecap="butt" stroke-dasharray="4 5" stroke-dashoffset="4.4"/>
<path d="M312.4,560.3L321.4,559.7 329.4,558.6 336.4,556.9 342.4,554.6 348.4,551.5 354.4,547.5 359.4,543.5 371.4,533.4 375.4,530.4 378.4,528.4 382.4,526.3 385.4,525.3 388.4,524.6 391.4,524.5 394.4,524.8 398.4,525.8 402.4,527.3 410.4,531.0 414.4,532.6 418.4,533.7 422.4,534.3 426.4,534.1 430.4,533.3 434.4,532.0 442.4,528.9 447.4,527.5 451.4,527.2 455.4,527.7 459.4,529.3 461.4,530.4 464.4,532.5 469.4,536.7 480.4,547.6 486.4,553.0 492.4,557.3 495.4,559.0 499.4,560.9 503.4,562.3 507.4,563.4 511.4,564.1 516.4,564.7 528.4,565.4 549.4,565.7" fill="none" stroke="#ff0000" stroke-width="1.75" stroke-linejoin="round" stroke-linecap="butt" />
<path d="M312.4,631.3L322.4,630.9 330.4,630.0 337.4,628.4 341.4,627.0 344.4,625.8 350.4,622.5 356.4,618.2 361.4,614.0 373.4,603.1 379.4,598.5 382.4,596.7 385.4,595.4 388.4,594.5 391.4,594.3 393.4,594.4 396.4,595.1 399.4,596.3 402.4,598.0 405.4,600.1 408.4,602.6 423.4,616.7 427.4,620.2 431.4,623.2 435.4,625.8 440.4,628.5 444.4,630.2 449.4,631.7 454.4,632.8 459.4,633.6 465.4,634.2 473.4,634.7 492.4,635.2 549.4,636.1" fill="none" stroke="#119a2c" stroke-width="1.6" stroke-linejoin="round" stroke-linecap="butt" />
<path d="M312.4,631.5L386.4,632.7 397.4,632.3 401.4,631.9 405.4,631.2 409.4,630.1 412.4,629.0 416.4,627.1 419.4,625.3 422.4,623.1 426.4,619.8 438.4,608.1 443.4,603.8 446.4,601.7 449.4,600.2 452.4,599.4 454.4,599.2 456.4,599.4 459.4,600.3 461.4,601.2 464.4,603.1 469.4,607.4 480.4,618.7 486.4,624.1 489.4,626.4 492.4,628.4 495.4,630.1 499.4,631.8 502.4,632.8 506.4,633.8 510.4,634.5 515.4,635.1 526.4,635.6 549.4,636.1" fill="none" stroke="#0000ff" stroke-width="1.6" stroke-linejoin="round" stroke-linecap="butt" />
<path d="M312.4,631.5L368.4,632.5 479.4,634.9 549.4,636.1" fill="none" stroke="#000000" stroke-width="1.8" stroke-linejoin="round" stroke-linecap="butt" />
<path d="M312.4,632.7L315.4,633.1 316.5,633.0 318.5,632.3 321.4,630.9 323.4,630.4 328.4,630.0 333.6,630.4 335.6,629.8 337.5,628.6 341.8,625.1 343.5,623.9 348.9,622.3 352.1,620.8 354.0,619.2 357.4,615.3 358.3,614.5 359.4,613.7 364.5,611.4 365.6,610.6 366.5,609.6 368.8,606.1 370.8,604.2 375.6,601.7 379.4,598.4 381.3,597.0 385.3,595.1 388.2,593.5 390.3,592.9 392.4,593.1 395.4,594.3 399.4,595.3 402.4,596.5 406.9,597.7 408.7,599.0 411.8,603.0 412.7,603.8 413.7,604.4 415.9,604.9 422.4,605.1 428.4,604.9 430.3,604.5 435.3,602.7 439.8,599.3 441.9,598.5 447.2,597.5 449.3,597.3 454.5,597.4 456.6,597.6 457.6,597.9 459.7,598.9 463.8,601.3 466.0,602.7 468.0,604.5 472.0,608.6 477.3,615.6 480.3,618.7 483.6,621.3 487.9,624.3 490.0,625.6 493.2,627.1 507.8,632.2 512.6,633.3 516.5,634.4 520.4,635.1 524.4,636.1 526.4,636.1 532.4,634.8 534.4,634.7 536.4,635.2 539.4,636.7 541.4,637.0 543.4,636.7 548.4,634.4 549.4,634.2" fill="none" stroke="#000000" stroke-width="1.6" stroke-linejoin="round" stroke-linecap="butt" stroke-dasharray="4 5" stroke-dashoffset="6.2"/>
<path d="M312.4,631.3L322.4,630.9 330.4,630.0 337.4,628.4 341.4,627.0 344.4,625.8 350.4,622.5 356.4,618.2 361.4,614.0 373.4,603.1 379.4,598.4 383.4,596.1 386.4,594.9 389.4,594.1 392.4,593.9 395.4,594.2 399.4,595.3 403.4,597.0 415.4,603.2 419.4,604.6 423.4,605.4 427.4,605.3 431.4,604.4 435.4,603.0 444.4,599.0 448.4,597.9 452.4,597.5 454.4,597.7 456.4,598.2 458.4,598.9 460.4,599.9 462.4,601.1 465.4,603.4 470.4,608.1 481.4,619.6 487.4,624.9 492.4,628.4 495.4,630.1 498.4,631.4 501.4,632.5 505.4,633.6 509.4,634.4 514.4,635.0 526.4,635.6 549.4,636.1" fill="none" stroke="#ff0000" stroke-width="1.75" stroke-linejoin="round" stroke-linecap="butt" />
<path d="M312.4,702.6L323.4,702.1 331.4,701.1 338.4,699.5 342.4,698.1 345.4,696.7 351.4,693.4 357.4,689.0 363.4,683.7 374.4,673.1 380.4,668.2 383.4,666.3 386.4,664.9 389.4,664.0 392.4,663.7 394.4,663.8 397.4,664.5 400.4,665.8 403.4,667.6 406.4,669.9 409.4,672.5 424.4,687.4 428.4,691.0 432.4,694.3 436.4,697.0 441.4,699.8 445.4,701.6 450.4,703.2 455.4,704.4 461.4,705.4 468.4,706.1 476.4,706.5 497.4,706.9 549.4,707.0" fill="none" stroke="#119a2c" stroke-width="1.6" stroke-linejoin="round" stroke-linecap="butt" />
<path d="M312.4,702.9L353.4,703.0 391.4,703.6 400.4,703.2 407.4,702.2 411.4,701.1 414.4,699.9 417.4,698.5 420.4,696.8 423.4,694.8 427.4,691.6 440.4,679.6 445.4,675.6 448.4,673.8 450.4,672.9 453.4,672.0 455.4,671.9 457.4,672.0 460.4,672.8 462.4,673.7 465.4,675.5 470.4,679.6 482.4,691.3 487.4,695.7 490.4,698.0 493.4,699.9 496.4,701.5 500.4,703.3 503.4,704.2 507.4,705.2 511.4,705.9 516.4,706.4 527.4,706.8 549.4,707.0" fill="none" stroke="#0000ff" stroke-width="1.6" stroke-linejoin="round" stroke-linecap="butt" />
<path d="M312.4,702.9L347.4,703.0 368.4,703.3 414.4,704.8 480.4,706.8 501.4,707.0 549.4,707.0" fill="none" stroke="#000000" stroke-width="1.8" stroke-linejoin="round" stroke-linecap="butt" />
<path d="M312.4,701.9L318.4,703.1 320.4,703.0 322.4,702.3 325.3,700.8 327.2,700.2 329.2,700.0 334.4,700.3 337.4,699.8 341.4,698.4 346.3,696.1 349.3,694.4 352.9,691.3 358.5,688.2 363.2,683.4 370.6,677.1 375.9,672.7 384.7,666.2 388.4,663.9 390.4,663.2 391.4,663.1 393.4,663.3 398.3,664.5 404.0,664.9 406.3,665.5 407.4,666.0 409.4,667.2 411.2,668.8 415.1,673.5 416.9,675.1 418.8,676.4 420.9,677.2 423.2,677.3 427.4,676.4 429.3,675.5 434.5,672.5 436.4,671.9 437.5,671.7 442.3,672.2 444.5,672.1 445.5,671.8 449.4,670.3 451.4,670.1 456.2,671.3 460.4,671.8 463.7,673.1 467.1,674.8 469.4,676.3 471.1,678.5 473.2,682.4 474.0,683.6 475.1,684.5 481.3,688.4 486.2,693.1 492.3,697.2 499.4,702.7 501.3,703.9 503.4,704.3 507.7,703.7 509.7,703.8 515.4,706.4 518.4,707.1 524.4,706.3 528.4,706.7 534.4,707.0 539.4,705.7 541.4,705.6 543.4,706.0 547.4,707.6 549.4,708.1" fill="none" stroke="#000000" stroke-width="1.6" stroke-linejoin="round" stroke-linecap="butt" stroke-dasharray="4 5" stroke-dashoffset="3.4"/>
<path d="M312.4,702.6L323.4,702.1 331.4,701.1 338.4,699.4 342.4,698.0 345.4,696.7 351.4,693.3 357.4,688.9 362.4,684.6 375.4,672.2 378.4,669.6 381.4,667.4 384.4,665.6 387.4,664.3 390.4,663.5 393.4,663.2 397.4,663.7 401.4,665.1 405.4,667.1 413.4,671.9 417.4,674.0 421.4,675.6 425.4,676.5 429.4,676.5 433.4,675.8 437.4,674.5 445.4,671.4 449.4,670.4 453.4,670.0 455.4,670.2 457.4,670.6 459.4,671.3 462.4,672.9 464.4,674.2 467.4,676.5 471.4,680.2 482.4,691.2 488.4,696.4 493.4,699.8 496.4,701.5 499.4,702.8 502.4,703.9 506.4,704.9 510.4,705.7 515.4,706.3 527.4,706.8 549.4,706.9" fill="none" stroke="#ff0000" stroke-width="1.75" stroke-linejoin="round" stroke-linecap="butt" />
<path d="M312.4,774.4L326.4,774.0 331.4,773.7 336.4,773.1 340.4,772.3 344.4,771.3 348.4,769.9 351.4,768.5 354.4,766.8 357.4,764.8 360.4,762.5 363.4,759.9 369.4,753.9 381.4,740.5 384.4,737.5 387.4,734.9 390.4,732.8 393.4,731.3 396.4,730.4 398.4,730.3 400.4,730.5 403.4,731.4 405.4,732.4 408.4,734.4 411.4,737.0 414.4,740.0 429.4,757.3 433.4,761.5 436.4,764.3 440.4,767.5 444.4,770.2 448.4,772.3 453.4,774.3 458.4,775.6 464.4,776.7 471.4,777.5 479.4,778.0 500.4,778.4 549.4,778.5" fill="none" stroke="#119a2c" stroke-width="1.6" stroke-linejoin="round" stroke-linecap="butt" />
<path d="M312.4,774.5L361.4,774.6 401.4,775.5 409.4,775.3 416.4,774.3 420.4,773.3 424.4,771.9 428.4,769.9 431.4,768.1 437.4,763.5 450.4,751.8 455.4,748.3 458.4,746.8 460.4,746.1 462.4,745.7 464.4,745.7 466.4,745.9 468.4,746.5 470.4,747.3 473.4,749.1 478.4,753.1 489.4,763.5 494.4,767.8 497.4,770.0 500.4,771.9 503.4,773.4 506.4,774.7 509.4,775.7 513.4,776.7 521.4,777.8 531.4,778.3 549.4,778.5" fill="none" stroke="#0000ff" stroke-width="1.6" stroke-linejoin="round" stroke-linecap="butt" />
<path d="M312.4,774.5L351.4,774.6 372.4,774.8 421.4,776.6 486.4,778.3 549.4,778.5" fill="none" stroke="#000000" stroke-width="1.8" stroke-linejoin="round" stroke-linecap="butt" />
<path d="M312.4,773.5L319.4,773.3 320.4,773.5 324.4,775.2 326.5,775.3 331.4,773.7 336.4,773.3 338.4,772.9 344.2,770.5 352.6,768.4 359.5,765.5 360.5,764.8 361.5,763.8 364.4,759.0 365.3,757.9 370.1,754.5 372.3,752.4 374.0,749.9 378.1,741.4 379.9,739.0 381.9,736.9 384.2,735.2 387.9,733.3 393.5,731.3 399.4,730.0 400.4,730.1 401.4,730.4 402.3,731.0 404.6,733.5 405.4,734.1 406.4,734.6 411.3,736.0 412.5,736.5 414.8,737.9 417.8,740.6 421.0,745.0 422.9,746.8 425.2,747.8 431.1,748.7 435.4,751.1 436.4,751.3 437.4,751.2 441.9,749.2 449.0,747.2 455.1,744.7 458.2,744.0 460.4,744.1 461.4,744.3 470.2,747.2 472.3,748.2 476.2,751.3 480.7,754.4 482.5,756.6 484.8,760.2 486.8,762.2 491.4,765.2 495.5,768.4 497.7,769.4 502.2,771.0 504.9,772.8 508.3,775.6 510.2,776.6 512.3,776.9 517.6,776.0 518.6,776.1 523.4,777.4 529.4,777.5 537.4,778.5 540.4,778.2 546.4,776.9 549.4,776.8" fill="none" stroke="#000000" stroke-width="1.6" stroke-linejoin="round" stroke-linecap="butt" stroke-dasharray="4 5" stroke-dashoffset="6.4"/>
<path d="M312.4,774.4L326.4,774.0 331.4,773.7 336.4,773.1 340.4,772.3 344.4,771.3 348.4,769.8 351.4,768.5 354.4,766.8 357.4,764.8 360.4,762.5 363.4,759.9 369.4,753.9 381.4,740.4 384.4,737.4 387.4,734.8 390.4,732.7 393.4,731.1 396.4,730.3 398.4,730.1 400.4,730.2 402.4,730.7 404.4,731.4 407.4,733.0 411.4,735.8 421.4,744.5 425.4,747.5 429.4,749.9 433.4,751.3 435.4,751.6 437.4,751.7 441.4,751.1 445.4,749.8 454.4,746.0 457.4,745.1 459.4,744.7 462.4,744.5 464.4,744.7 466.4,745.1 468.4,745.9 472.4,748.1 476.4,751.1 489.4,763.4 495.4,768.5 498.4,770.6 501.4,772.4 504.4,773.9 508.4,775.4 514.4,776.9 522.4,777.9 532.4,778.3 549.4,778.4" fill="none" stroke="#ff0000" stroke-width="1.75" stroke-linejoin="round" stroke-linecap="butt" />
<line x1="549.40" y1="433.10" x2="549.40" y2="787.70" stroke="#000000" stroke-width="1.3"/>
<line x1="312.40" y1="433.10" x2="312.40" y2="787.70" stroke="#000000" stroke-width="1.3"/>
<line x1="312.40" y1="433.10" x2="312.40" y2="439.10" stroke="#000000" stroke-width="1.2"/>
<line x1="312.40" y1="787.70" x2="312.40" y2="781.70" stroke="#000000" stroke-width="1.2"/>
<line x1="330.63" y1="433.10" x2="330.63" y2="436.50" stroke="#000000" stroke-width="1.2"/>
<line x1="330.63" y1="787.70" x2="330.63" y2="784.30" stroke="#000000" stroke-width="1.2"/>
<line x1="348.86" y1="433.10" x2="348.86" y2="439.10" stroke="#000000" stroke-width="1.2"/>
<line x1="348.86" y1="787.70" x2="348.86" y2="781.70" stroke="#000000" stroke-width="1.2"/>
<line x1="367.09" y1="433.10" x2="367.09" y2="436.50" stroke="#000000" stroke-width="1.2"/>
<line x1="367.09" y1="787.70" x2="367.09" y2="784.30" stroke="#000000" stroke-width="1.2"/>
<line x1="385.32" y1="433.10" x2="385.32" y2="439.10" stroke="#000000" stroke-width="1.2"/>
<line x1="385.32" y1="787.70" x2="385.32" y2="781.70" stroke="#000000" stroke-width="1.2"/>
<line x1="403.55" y1="433.10" x2="403.55" y2="436.50" stroke="#000000" stroke-width="1.2"/>
<line x1="403.55" y1="787.70" x2="403.55" y2="784.30" stroke="#000000" stroke-width="1.2"/>
<line x1="421.78" y1="433.10" x2="421.78" y2="439.10" stroke="#000000" stroke-width="1.2"/>
<line x1="421.78" y1="787.70" x2="421.78" y2="781.70" stroke="#000000" stroke-width="1.2"/>
<line x1="440.01" y1="433.10" x2="440.01" y2="436.50" stroke="#000000" stroke-width="1.2"/>
<line x1="440.01" y1="787.70" x2="440.01" y2="784.30" stroke="#000000" stroke-width="1.2"/>
<line x1="458.24" y1="433.10" x2="458.24" y2="439.10" stroke="#000000" stroke-width="1.2"/>
<line x1="458.24" y1="787.70" x2="458.24" y2="781.70" stroke="#000000" stroke-width="1.2"/>
<line x1="476.47" y1="433.10" x2="476.47" y2="436.50" stroke="#000000" stroke-width="1.2"/>
<line x1="476.47" y1="787.70" x2="476.47" y2="784.30" stroke="#000000" stroke-width="1.2"/>
<line x1="494.70" y1="433.10" x2="494.70" y2="439.10" stroke="#000000" stroke-width="1.2"/>
<line x1="494.70" y1="787.70" x2="494.70" y2="781.70" stroke="#000000" stroke-width="1.2"/>
<line x1="512.93" y1="433.10" x2="512.93" y2="436.50" stroke="#000000" stroke-width="1.2"/>
<line x1="512.93" y1="787.70" x2="512.93" y2="784.30" stroke="#000000" stroke-width="1.2"/>
<line x1="531.16" y1="433.10" x2="531.16" y2="439.10" stroke="#000000" stroke-width="1.2"/>
<line x1="531.16" y1="787.70" x2="531.16" y2="781.70" stroke="#000000" stroke-width="1.2"/>
<line x1="311.75" y1="433.10" x2="550.05" y2="433.10" stroke="#000000" stroke-width="1.3"/>
<line x1="311.75" y1="787.70" x2="550.05" y2="787.70" stroke="#000000" stroke-width="1.3"/>
<text x="298.8" y="809.2" font-size="15.8" font-weight="normal" textLength="27.1" lengthAdjust="spacingAndGlyphs" >108</text>
<text x="335.3" y="809.2" font-size="15.8" font-weight="normal" textLength="27.1" lengthAdjust="spacingAndGlyphs" >106</text>
<text x="371.8" y="809.2" font-size="15.8" font-weight="normal" textLength="27.1" lengthAdjust="spacingAndGlyphs" >104</text>
<text x="408.2" y="809.2" font-size="15.8" font-weight="normal" textLength="27.1" lengthAdjust="spacingAndGlyphs" >102</text>
<text x="444.7" y="809.2" font-size="15.8" font-weight="normal" textLength="27.1" lengthAdjust="spacingAndGlyphs" >100</text>
<text x="485.6" y="809.2" font-size="15.8" font-weight="normal" textLength="18.2" lengthAdjust="spacingAndGlyphs" >98</text>
<text x="522.1" y="809.2" font-size="15.8" font-weight="normal" textLength="18.2" lengthAdjust="spacingAndGlyphs" >96</text>
<text x="353.0" y="826.6" font-size="15.4" font-weight="bold" textLength="156.3" lengthAdjust="spacingAndGlyphs" >Binding Energy (eV)</text>
<text x="0" y="0" font-size="16.2" font-weight="bold" textLength="136.8" lengthAdjust="spacingAndGlyphs" transform="translate(306.0 678.6) rotate(-90)">Intensity (counts)</text>
<text x="318.0" y="455.6" font-size="16.0" font-weight="bold" textLength="20.6" lengthAdjust="spacingAndGlyphs" >(d)</text>
<text x="388.6" y="450.6" font-size="15.2" font-weight="bold" textLength="26.8" lengthAdjust="spacingAndGlyphs" >Si<tspan font-size="8.5" dy="-5.1">4+</tspan></text>
<text x="451.1" y="450.6" font-size="15.2" font-weight="bold" textLength="21.0" lengthAdjust="spacingAndGlyphs" >Si<tspan font-size="8.5" dy="-4.6">0</tspan></text>
<text x="496.2" y="480.0" font-size="15.6" font-weight="bold" textLength="46.1" lengthAdjust="spacingAndGlyphs" >4800s</text>
<text x="496.8" y="549.7" font-size="15.6" font-weight="bold" textLength="44.8" lengthAdjust="spacingAndGlyphs" >3600s</text>
<text x="499.4" y="619.2" font-size="15.6" font-weight="bold" textLength="42.2" lengthAdjust="spacingAndGlyphs" >2400s</text>
<text x="500.4" y="691.8" font-size="15.6" font-weight="bold" textLength="45.7" lengthAdjust="spacingAndGlyphs" >1200s</text>
<text x="516.4" y="764.8" font-size="15.6" font-weight="bold" textLength="20.1" lengthAdjust="spacingAndGlyphs" >0s</text></svg>
</body></html>
